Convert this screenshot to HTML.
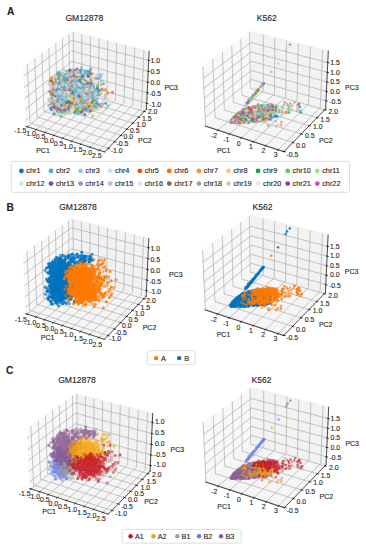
<!DOCTYPE html>
<html><head><meta charset="utf-8"><style>
html,body{margin:0;padding:0;background:#fff;width:366px;height:550px;overflow:hidden}
svg{display:block}
text{font-family:"Liberation Sans",sans-serif;fill:#1e1e1e;stroke:#1e1e1e;stroke-width:0.12px;text-anchor:middle}
</style></head><body>
<svg width="366" height="550" viewBox="0 0 366 550">
<rect width="366" height="550" fill="#fff"/>

<defs>

</defs>
<g id="figure_1">
<g id="pane3d_1">
<g id="patch_1">
<path d="M 25.95 126.26 
L 72.23 87.47 
L 71.58 31.53 
L 23.09 66.91 
" style="fill: #f2f2f2; opacity: 0.5; stroke: #f2f2f2; stroke-linejoin: miter"/>
</g>
</g>
<g id="pane3d_2">
<g id="patch_2">
<path d="M 72.23 87.47 
L 146.48 109.05 
L 149.13 51.19 
L 71.58 31.53 
" style="fill: #e6e6e6; opacity: 0.5; stroke: #e6e6e6; stroke-linejoin: miter"/>
</g>
</g>
<g id="pane3d_3">
<g id="patch_3">
<path d="M 25.95 126.26 
L 104.67 151.97 
L 146.48 109.05 
L 72.23 87.47 
" style="fill: #ececec; opacity: 0.5; stroke: #ececec; stroke-linejoin: miter"/>
</g>
</g>
<g id="grid3d_1">
<g id="Line3DCollection_1">
<path d="M 27.66 126.82 
L 73.84 87.94 
L 73.27 31.96 
" style="fill: none; stroke: #a8a8a8; stroke-width: 0.65"/>
<path d="M 36.25 129.62 
L 81.98 90.3 
L 81.75 34.11 
" style="fill: none; stroke: #a8a8a8; stroke-width: 0.65"/>
<path d="M 44.95 132.46 
L 90.21 92.7 
L 90.33 36.28 
" style="fill: none; stroke: #a8a8a8; stroke-width: 0.65"/>
<path d="M 53.75 135.34 
L 98.53 95.11 
L 99.01 38.48 
" style="fill: none; stroke: #a8a8a8; stroke-width: 0.65"/>
<path d="M 62.66 138.25 
L 106.93 97.56 
L 107.79 40.71 
" style="fill: none; stroke: #a8a8a8; stroke-width: 0.65"/>
<path d="M 71.67 141.19 
L 115.44 100.03 
L 116.67 42.96 
" style="fill: none; stroke: #a8a8a8; stroke-width: 0.65"/>
<path d="M 80.79 144.17 
L 124.03 102.53 
L 125.65 45.23 
" style="fill: none; stroke: #a8a8a8; stroke-width: 0.65"/>
<path d="M 90.03 147.19 
L 132.72 105.05 
L 134.74 47.54 
" style="fill: none; stroke: #a8a8a8; stroke-width: 0.65"/>
<path d="M 99.38 150.24 
L 141.52 107.61 
L 143.94 49.87 
" style="fill: none; stroke: #a8a8a8; stroke-width: 0.65"/>
</g>
</g>
<g id="grid3d_2">
<g id="Line3DCollection_2">
<path d="M 27.31 63.83 
L 29.97 122.89 
L 108.31 148.23 
" style="fill: none; stroke: #a8a8a8; stroke-width: 0.65"/>
<path d="M 34.7 58.45 
L 36.99 117 
L 114.68 141.69 
" style="fill: none; stroke: #a8a8a8; stroke-width: 0.65"/>
<path d="M 41.89 53.2 
L 43.85 111.26 
L 120.88 135.32 
" style="fill: none; stroke: #a8a8a8; stroke-width: 0.65"/>
<path d="M 48.9 48.08 
L 50.54 105.65 
L 126.93 129.12 
" style="fill: none; stroke: #a8a8a8; stroke-width: 0.65"/>
<path d="M 55.74 43.09 
L 57.06 100.18 
L 132.82 123.07 
" style="fill: none; stroke: #a8a8a8; stroke-width: 0.65"/>
<path d="M 62.4 38.23 
L 63.44 94.84 
L 138.57 117.18 
" style="fill: none; stroke: #a8a8a8; stroke-width: 0.65"/>
<path d="M 68.9 33.49 
L 69.66 89.62 
L 144.17 111.43 
" style="fill: none; stroke: #a8a8a8; stroke-width: 0.65"/>
</g>
</g>
<g id="grid3d_3">
<g id="Line3DCollection_3">
<path d="M 146.75 103.26 
L 72.16 81.86 
L 25.67 120.33 
" style="fill: none; stroke: #a8a8a8; stroke-width: 0.65"/>
<path d="M 147.23 92.79 
L 72.05 71.72 
L 25.15 109.6 
" style="fill: none; stroke: #a8a8a8; stroke-width: 0.65"/>
<path d="M 147.71 82.15 
L 71.93 61.43 
L 24.62 98.69 
" style="fill: none; stroke: #a8a8a8; stroke-width: 0.65"/>
<path d="M 148.21 71.33 
L 71.81 50.98 
L 24.09 87.6 
" style="fill: none; stroke: #a8a8a8; stroke-width: 0.65"/>
<path d="M 148.71 60.34 
L 71.68 40.36 
L 23.55 76.31 
" style="fill: none; stroke: #a8a8a8; stroke-width: 0.65"/>
</g>
</g>
<g id="axis3d_1">
<g id="line2d_1">
<path d="M 25.95 126.26 
L 104.67 151.97 
" style="fill: none; stroke: #000000; stroke-width: 0.7; stroke-linecap: square"/>
</g>
<g id="xtick_1">
<g id="line2d_2">
<path d="M 28.06 126.48 
L 26.85 127.49 
" style="fill: none; stroke: #000000; stroke-width: 0.7; stroke-linecap: square"/>
</g>
</g>
<g id="xtick_2">
<g id="line2d_3">
<path d="M 36.65 129.28 
L 35.45 130.31 
" style="fill: none; stroke: #000000; stroke-width: 0.7; stroke-linecap: square"/>
</g>
</g>
<g id="xtick_3">
<g id="line2d_4">
<path d="M 45.34 132.12 
L 44.16 133.16 
" style="fill: none; stroke: #000000; stroke-width: 0.7; stroke-linecap: square"/>
</g>
</g>
<g id="xtick_4">
<g id="line2d_5">
<path d="M 54.14 134.99 
L 52.97 136.04 
" style="fill: none; stroke: #000000; stroke-width: 0.7; stroke-linecap: square"/>
</g>
</g>
<g id="xtick_5">
<g id="line2d_6">
<path d="M 63.04 137.89 
L 61.88 138.96 
" style="fill: none; stroke: #000000; stroke-width: 0.7; stroke-linecap: square"/>
</g>
</g>
<g id="xtick_6">
<g id="line2d_7">
<path d="M 72.05 140.83 
L 70.9 141.91 
" style="fill: none; stroke: #000000; stroke-width: 0.7; stroke-linecap: square"/>
</g>
</g>
<g id="xtick_7">
<g id="line2d_8">
<path d="M 81.17 143.81 
L 80.04 144.9 
" style="fill: none; stroke: #000000; stroke-width: 0.7; stroke-linecap: square"/>
</g>
</g>
<g id="xtick_8">
<g id="line2d_9">
<path d="M 90.4 146.82 
L 89.28 147.92 
" style="fill: none; stroke: #000000; stroke-width: 0.7; stroke-linecap: square"/>
</g>
</g>
<g id="xtick_9">
<g id="line2d_10">
<path d="M 99.75 149.87 
L 98.64 150.99 
" style="fill: none; stroke: #000000; stroke-width: 0.7; stroke-linecap: square"/>
</g>
</g>
</g>
<g id="axis3d_2">
<g id="line2d_11">
<path d="M 146.48 109.05 
L 104.67 151.97 
" style="fill: none; stroke: #000000; stroke-width: 0.7; stroke-linecap: square"/>
</g>
<g id="xtick_10">
<g id="line2d_12">
<path d="M 107.65 148.02 
L 109.63 148.66 
" style="fill: none; stroke: #000000; stroke-width: 0.7; stroke-linecap: square"/>
</g>
</g>
<g id="xtick_11">
<g id="line2d_13">
<path d="M 114.02 141.48 
L 115.99 142.11 
" style="fill: none; stroke: #000000; stroke-width: 0.7; stroke-linecap: square"/>
</g>
</g>
<g id="xtick_12">
<g id="line2d_14">
<path d="M 120.23 135.12 
L 122.18 135.73 
" style="fill: none; stroke: #000000; stroke-width: 0.7; stroke-linecap: square"/>
</g>
</g>
<g id="xtick_13">
<g id="line2d_15">
<path d="M 126.29 128.92 
L 128.21 129.51 
" style="fill: none; stroke: #000000; stroke-width: 0.7; stroke-linecap: square"/>
</g>
</g>
<g id="xtick_14">
<g id="line2d_16">
<path d="M 132.18 122.88 
L 134.1 123.46 
" style="fill: none; stroke: #000000; stroke-width: 0.7; stroke-linecap: square"/>
</g>
</g>
<g id="xtick_15">
<g id="line2d_17">
<path d="M 137.94 116.99 
L 139.83 117.55 
" style="fill: none; stroke: #000000; stroke-width: 0.7; stroke-linecap: square"/>
</g>
</g>
<g id="xtick_16">
<g id="line2d_18">
<path d="M 143.54 111.24 
L 145.42 111.79 
" style="fill: none; stroke: #000000; stroke-width: 0.7; stroke-linecap: square"/>
</g>
</g>
</g>
<g id="axis3d_3">
<g id="line2d_19">
<path d="M 146.48 109.05 
L 149.13 51.19 
" style="fill: none; stroke: #000000; stroke-width: 0.7; stroke-linecap: square"/>
</g>
<g id="xtick_17">
<g id="line2d_20">
<path d="M 146.12 103.08 
L 148 103.62 
" style="fill: none; stroke: #000000; stroke-width: 0.7; stroke-linecap: square"/>
</g>
</g>
<g id="xtick_18">
<g id="line2d_21">
<path d="M 146.6 92.61 
L 148.49 93.14 
" style="fill: none; stroke: #000000; stroke-width: 0.7; stroke-linecap: square"/>
</g>
</g>
<g id="xtick_19">
<g id="line2d_22">
<path d="M 147.08 81.97 
L 148.99 82.5 
" style="fill: none; stroke: #000000; stroke-width: 0.7; stroke-linecap: square"/>
</g>
</g>
<g id="xtick_20">
<g id="line2d_23">
<path d="M 147.57 71.16 
L 149.5 71.68 
" style="fill: none; stroke: #000000; stroke-width: 0.7; stroke-linecap: square"/>
</g>
</g>
<g id="xtick_21">
<g id="line2d_24">
<path d="M 148.07 60.17 
L 150.01 60.67 
" style="fill: none; stroke: #000000; stroke-width: 0.7; stroke-linecap: square"/>
</g>
</g>
</g>
<g id="axes_1"/>
<g id="pane3d_4">
<g id="patch_4">
<path d="M 205.19 126.09 
L 251.44 87.33 
L 250.8 31.42 
L 202.34 66.78 
" style="fill: #f2f2f2; opacity: 0.5; stroke: #f2f2f2; stroke-linejoin: miter"/>
</g>
</g>
<g id="pane3d_5">
<g id="patch_5">
<path d="M 251.44 87.33 
L 325.65 108.9 
L 328.3 51.07 
L 250.8 31.42 
" style="fill: #e6e6e6; opacity: 0.5; stroke: #e6e6e6; stroke-linejoin: miter"/>
</g>
</g>
<g id="pane3d_6">
<g id="patch_6">
<path d="M 205.19 126.09 
L 283.86 151.78 
L 325.65 108.9 
L 251.44 87.33 
" style="fill: #ececec; opacity: 0.5; stroke: #ececec; stroke-linejoin: miter"/>
</g>
</g>
<g id="grid3d_4">
<g id="Line3DCollection_4">
<path d="M 217.84 130.22 
L 263.41 90.81 
L 263.27 34.58 
" style="fill: none; stroke: #a8a8a8; stroke-width: 0.65"/>
<path d="M 229.52 134.04 
L 274.46 94.02 
L 274.8 37.51 
" style="fill: none; stroke: #a8a8a8; stroke-width: 0.65"/>
<path d="M 241.39 137.91 
L 285.67 97.28 
L 286.5 40.47 
" style="fill: none; stroke: #a8a8a8; stroke-width: 0.65"/>
<path d="M 253.46 141.85 
L 297.05 100.58 
L 298.39 43.48 
" style="fill: none; stroke: #a8a8a8; stroke-width: 0.65"/>
<path d="M 265.72 145.86 
L 308.59 103.94 
L 310.46 46.54 
" style="fill: none; stroke: #a8a8a8; stroke-width: 0.65"/>
<path d="M 278.18 149.93 
L 320.32 107.35 
L 322.72 49.65 
" style="fill: none; stroke: #a8a8a8; stroke-width: 0.65"/>
</g>
</g>
<g id="grid3d_5">
<g id="Line3DCollection_5">
<path d="M 202.75 66.49 
L 205.58 125.76 
L 284.21 151.42 
" style="fill: none; stroke: #a8a8a8; stroke-width: 0.65"/>
<path d="M 212.78 59.17 
L 215.13 117.76 
L 292.87 142.54 
" style="fill: none; stroke: #a8a8a8; stroke-width: 0.65"/>
<path d="M 222.46 52.1 
L 224.36 110.03 
L 301.22 133.97 
" style="fill: none; stroke: #a8a8a8; stroke-width: 0.65"/>
<path d="M 231.81 45.27 
L 233.28 102.55 
L 309.28 125.69 
" style="fill: none; stroke: #a8a8a8; stroke-width: 0.65"/>
<path d="M 240.85 38.68 
L 241.92 95.3 
L 317.08 117.69 
" style="fill: none; stroke: #a8a8a8; stroke-width: 0.65"/>
<path d="M 249.6 32.3 
L 250.29 88.29 
L 324.61 109.96 
" style="fill: none; stroke: #a8a8a8; stroke-width: 0.65"/>
</g>
</g>
<g id="grid3d_6">
<g id="Line3DCollection_6">
<path d="M 326.02 100.78 
L 251.35 79.47 
L 204.79 117.78 
" style="fill: none; stroke: #a8a8a8; stroke-width: 0.65"/>
<path d="M 326.45 91.43 
L 251.25 70.42 
L 204.33 108.2 
" style="fill: none; stroke: #a8a8a8; stroke-width: 0.65"/>
<path d="M 326.88 81.95 
L 251.14 61.25 
L 203.86 98.48 
" style="fill: none; stroke: #a8a8a8; stroke-width: 0.65"/>
<path d="M 327.32 72.33 
L 251.03 51.95 
L 203.39 88.62 
" style="fill: none; stroke: #a8a8a8; stroke-width: 0.65"/>
<path d="M 327.77 62.57 
L 250.92 42.52 
L 202.91 78.6 
" style="fill: none; stroke: #a8a8a8; stroke-width: 0.65"/>
</g>
</g>
<g id="axis3d_4">
<g id="line2d_25">
<path d="M 205.19 126.09 
L 283.86 151.78 
" style="fill: none; stroke: #000000; stroke-width: 0.7; stroke-linecap: square"/>
</g>
<g id="xtick_22">
<g id="line2d_26">
<path d="M 218.23 129.88 
L 217.04 130.91 
" style="fill: none; stroke: #000000; stroke-width: 0.7; stroke-linecap: square"/>
</g>
</g>
<g id="xtick_23">
<g id="line2d_27">
<path d="M 229.91 133.69 
L 228.73 134.73 
" style="fill: none; stroke: #000000; stroke-width: 0.7; stroke-linecap: square"/>
</g>
</g>
<g id="xtick_24">
<g id="line2d_28">
<path d="M 241.78 137.56 
L 240.62 138.62 
" style="fill: none; stroke: #000000; stroke-width: 0.7; stroke-linecap: square"/>
</g>
</g>
<g id="xtick_25">
<g id="line2d_29">
<path d="M 253.84 141.49 
L 252.69 142.58 
" style="fill: none; stroke: #000000; stroke-width: 0.7; stroke-linecap: square"/>
</g>
</g>
<g id="xtick_26">
<g id="line2d_30">
<path d="M 266.09 145.49 
L 264.97 146.59 
" style="fill: none; stroke: #000000; stroke-width: 0.7; stroke-linecap: square"/>
</g>
</g>
<g id="xtick_27">
<g id="line2d_31">
<path d="M 278.55 149.56 
L 277.44 150.67 
" style="fill: none; stroke: #000000; stroke-width: 0.7; stroke-linecap: square"/>
</g>
</g>
</g>
<g id="axis3d_5">
<g id="line2d_32">
<path d="M 325.65 108.9 
L 283.86 151.78 
" style="fill: none; stroke: #000000; stroke-width: 0.7; stroke-linecap: square"/>
</g>
<g id="xtick_28">
<g id="line2d_33">
<path d="M 283.55 151.2 
L 285.54 151.85 
" style="fill: none; stroke: #000000; stroke-width: 0.7; stroke-linecap: square"/>
</g>
</g>
<g id="xtick_29">
<g id="line2d_34">
<path d="M 292.21 142.33 
L 294.18 142.96 
" style="fill: none; stroke: #000000; stroke-width: 0.7; stroke-linecap: square"/>
</g>
</g>
<g id="xtick_30">
<g id="line2d_35">
<path d="M 300.57 133.77 
L 302.51 134.37 
" style="fill: none; stroke: #000000; stroke-width: 0.7; stroke-linecap: square"/>
</g>
</g>
<g id="xtick_31">
<g id="line2d_36">
<path d="M 308.65 125.49 
L 310.56 126.08 
" style="fill: none; stroke: #000000; stroke-width: 0.7; stroke-linecap: square"/>
</g>
</g>
<g id="xtick_32">
<g id="line2d_37">
<path d="M 316.45 117.5 
L 318.34 118.07 
" style="fill: none; stroke: #000000; stroke-width: 0.7; stroke-linecap: square"/>
</g>
</g>
<g id="xtick_33">
<g id="line2d_38">
<path d="M 323.99 109.78 
L 325.86 110.32 
" style="fill: none; stroke: #000000; stroke-width: 0.7; stroke-linecap: square"/>
</g>
</g>
</g>
<g id="axis3d_6">
<g id="line2d_39">
<path d="M 325.65 108.9 
L 328.3 51.07 
" style="fill: none; stroke: #000000; stroke-width: 0.7; stroke-linecap: square"/>
</g>
<g id="xtick_34">
<g id="line2d_40">
<path d="M 325.39 100.6 
L 327.27 101.14 
" style="fill: none; stroke: #000000; stroke-width: 0.7; stroke-linecap: square"/>
</g>
</g>
<g id="xtick_35">
<g id="line2d_41">
<path d="M 325.82 91.26 
L 327.71 91.79 
" style="fill: none; stroke: #000000; stroke-width: 0.7; stroke-linecap: square"/>
</g>
</g>
<g id="xtick_36">
<g id="line2d_42">
<path d="M 326.25 81.78 
L 328.16 82.3 
" style="fill: none; stroke: #000000; stroke-width: 0.7; stroke-linecap: square"/>
</g>
</g>
<g id="xtick_37">
<g id="line2d_43">
<path d="M 326.68 72.16 
L 328.61 72.68 
" style="fill: none; stroke: #000000; stroke-width: 0.7; stroke-linecap: square"/>
</g>
</g>
<g id="xtick_38">
<g id="line2d_44">
<path d="M 327.12 62.4 
L 329.06 62.91 
" style="fill: none; stroke: #000000; stroke-width: 0.7; stroke-linecap: square"/>
</g>
</g>
</g>
<g id="axes_2"/>
<g id="pane3d_7">
<g id="patch_7">
<path d="M 25.65 313.56 
L 71.93 274.77 
L 71.28 218.83 
L 22.79 254.21 
" style="fill: #f2f2f2; opacity: 0.5; stroke: #f2f2f2; stroke-linejoin: miter"/>
</g>
</g>
<g id="pane3d_8">
<g id="patch_8">
<path d="M 71.93 274.77 
L 146.18 296.35 
L 148.83 238.49 
L 71.28 218.83 
" style="fill: #e6e6e6; opacity: 0.5; stroke: #e6e6e6; stroke-linejoin: miter"/>
</g>
</g>
<g id="pane3d_9">
<g id="patch_9">
<path d="M 25.65 313.56 
L 104.37 339.27 
L 146.18 296.35 
L 71.93 274.77 
" style="fill: #ececec; opacity: 0.5; stroke: #ececec; stroke-linejoin: miter"/>
</g>
</g>
<g id="grid3d_7">
<g id="Line3DCollection_7">
<path d="M 27.36 314.12 
L 73.54 275.24 
L 72.97 219.26 
" style="fill: none; stroke: #a8a8a8; stroke-width: 0.65"/>
<path d="M 35.95 316.92 
L 81.68 277.6 
L 81.45 221.41 
" style="fill: none; stroke: #a8a8a8; stroke-width: 0.65"/>
<path d="M 44.65 319.76 
L 89.91 280 
L 90.03 223.58 
" style="fill: none; stroke: #a8a8a8; stroke-width: 0.65"/>
<path d="M 53.45 322.64 
L 98.23 282.41 
L 98.71 225.78 
" style="fill: none; stroke: #a8a8a8; stroke-width: 0.65"/>
<path d="M 62.36 325.55 
L 106.63 284.86 
L 107.49 228.01 
" style="fill: none; stroke: #a8a8a8; stroke-width: 0.65"/>
<path d="M 71.37 328.49 
L 115.14 287.33 
L 116.37 230.26 
" style="fill: none; stroke: #a8a8a8; stroke-width: 0.65"/>
<path d="M 80.49 331.47 
L 123.73 289.83 
L 125.35 232.53 
" style="fill: none; stroke: #a8a8a8; stroke-width: 0.65"/>
<path d="M 89.73 334.49 
L 132.42 292.35 
L 134.44 234.84 
" style="fill: none; stroke: #a8a8a8; stroke-width: 0.65"/>
<path d="M 99.08 337.54 
L 141.22 294.91 
L 143.64 237.17 
" style="fill: none; stroke: #a8a8a8; stroke-width: 0.65"/>
</g>
</g>
<g id="grid3d_8">
<g id="Line3DCollection_8">
<path d="M 27.01 251.13 
L 29.67 310.19 
L 108.01 335.53 
" style="fill: none; stroke: #a8a8a8; stroke-width: 0.65"/>
<path d="M 34.4 245.75 
L 36.69 304.3 
L 114.38 328.99 
" style="fill: none; stroke: #a8a8a8; stroke-width: 0.65"/>
<path d="M 41.59 240.5 
L 43.55 298.56 
L 120.58 322.62 
" style="fill: none; stroke: #a8a8a8; stroke-width: 0.65"/>
<path d="M 48.6 235.38 
L 50.24 292.95 
L 126.63 316.42 
" style="fill: none; stroke: #a8a8a8; stroke-width: 0.65"/>
<path d="M 55.44 230.39 
L 56.76 287.48 
L 132.52 310.37 
" style="fill: none; stroke: #a8a8a8; stroke-width: 0.65"/>
<path d="M 62.1 225.53 
L 63.14 282.14 
L 138.27 304.48 
" style="fill: none; stroke: #a8a8a8; stroke-width: 0.65"/>
<path d="M 68.6 220.79 
L 69.36 276.92 
L 143.87 298.73 
" style="fill: none; stroke: #a8a8a8; stroke-width: 0.65"/>
</g>
</g>
<g id="grid3d_9">
<g id="Line3DCollection_9">
<path d="M 146.45 290.56 
L 71.86 269.16 
L 25.37 307.63 
" style="fill: none; stroke: #a8a8a8; stroke-width: 0.65"/>
<path d="M 146.93 280.09 
L 71.75 259.02 
L 24.85 296.9 
" style="fill: none; stroke: #a8a8a8; stroke-width: 0.65"/>
<path d="M 147.41 269.45 
L 71.63 248.73 
L 24.32 285.99 
" style="fill: none; stroke: #a8a8a8; stroke-width: 0.65"/>
<path d="M 147.91 258.63 
L 71.51 238.28 
L 23.79 274.9 
" style="fill: none; stroke: #a8a8a8; stroke-width: 0.65"/>
<path d="M 148.41 247.64 
L 71.38 227.66 
L 23.25 263.61 
" style="fill: none; stroke: #a8a8a8; stroke-width: 0.65"/>
</g>
</g>
<g id="axis3d_7">
<g id="line2d_45">
<path d="M 25.65 313.56 
L 104.37 339.27 
" style="fill: none; stroke: #000000; stroke-width: 0.7; stroke-linecap: square"/>
</g>
<g id="xtick_39">
<g id="line2d_46">
<path d="M 27.76 313.78 
L 26.55 314.79 
" style="fill: none; stroke: #000000; stroke-width: 0.7; stroke-linecap: square"/>
</g>
</g>
<g id="xtick_40">
<g id="line2d_47">
<path d="M 36.35 316.58 
L 35.15 317.61 
" style="fill: none; stroke: #000000; stroke-width: 0.7; stroke-linecap: square"/>
</g>
</g>
<g id="xtick_41">
<g id="line2d_48">
<path d="M 45.04 319.42 
L 43.86 320.46 
" style="fill: none; stroke: #000000; stroke-width: 0.7; stroke-linecap: square"/>
</g>
</g>
<g id="xtick_42">
<g id="line2d_49">
<path d="M 53.84 322.29 
L 52.67 323.34 
" style="fill: none; stroke: #000000; stroke-width: 0.7; stroke-linecap: square"/>
</g>
</g>
<g id="xtick_43">
<g id="line2d_50">
<path d="M 62.74 325.19 
L 61.58 326.26 
" style="fill: none; stroke: #000000; stroke-width: 0.7; stroke-linecap: square"/>
</g>
</g>
<g id="xtick_44">
<g id="line2d_51">
<path d="M 71.75 328.13 
L 70.6 329.21 
" style="fill: none; stroke: #000000; stroke-width: 0.7; stroke-linecap: square"/>
</g>
</g>
<g id="xtick_45">
<g id="line2d_52">
<path d="M 80.87 331.11 
L 79.74 332.2 
" style="fill: none; stroke: #000000; stroke-width: 0.7; stroke-linecap: square"/>
</g>
</g>
<g id="xtick_46">
<g id="line2d_53">
<path d="M 90.1 334.12 
L 88.98 335.22 
" style="fill: none; stroke: #000000; stroke-width: 0.7; stroke-linecap: square"/>
</g>
</g>
<g id="xtick_47">
<g id="line2d_54">
<path d="M 99.45 337.17 
L 98.34 338.29 
" style="fill: none; stroke: #000000; stroke-width: 0.7; stroke-linecap: square"/>
</g>
</g>
</g>
<g id="axis3d_8">
<g id="line2d_55">
<path d="M 146.18 296.35 
L 104.37 339.27 
" style="fill: none; stroke: #000000; stroke-width: 0.7; stroke-linecap: square"/>
</g>
<g id="xtick_48">
<g id="line2d_56">
<path d="M 107.35 335.32 
L 109.33 335.96 
" style="fill: none; stroke: #000000; stroke-width: 0.7; stroke-linecap: square"/>
</g>
</g>
<g id="xtick_49">
<g id="line2d_57">
<path d="M 113.72 328.78 
L 115.69 329.41 
" style="fill: none; stroke: #000000; stroke-width: 0.7; stroke-linecap: square"/>
</g>
</g>
<g id="xtick_50">
<g id="line2d_58">
<path d="M 119.93 322.42 
L 121.88 323.03 
" style="fill: none; stroke: #000000; stroke-width: 0.7; stroke-linecap: square"/>
</g>
</g>
<g id="xtick_51">
<g id="line2d_59">
<path d="M 125.99 316.22 
L 127.91 316.81 
" style="fill: none; stroke: #000000; stroke-width: 0.7; stroke-linecap: square"/>
</g>
</g>
<g id="xtick_52">
<g id="line2d_60">
<path d="M 131.88 310.18 
L 133.8 310.76 
" style="fill: none; stroke: #000000; stroke-width: 0.7; stroke-linecap: square"/>
</g>
</g>
<g id="xtick_53">
<g id="line2d_61">
<path d="M 137.64 304.29 
L 139.53 304.85 
" style="fill: none; stroke: #000000; stroke-width: 0.7; stroke-linecap: square"/>
</g>
</g>
<g id="xtick_54">
<g id="line2d_62">
<path d="M 143.24 298.54 
L 145.12 299.09 
" style="fill: none; stroke: #000000; stroke-width: 0.7; stroke-linecap: square"/>
</g>
</g>
</g>
<g id="axis3d_9">
<g id="line2d_63">
<path d="M 146.18 296.35 
L 148.83 238.49 
" style="fill: none; stroke: #000000; stroke-width: 0.7; stroke-linecap: square"/>
</g>
<g id="xtick_55">
<g id="line2d_64">
<path d="M 145.82 290.38 
L 147.7 290.92 
" style="fill: none; stroke: #000000; stroke-width: 0.7; stroke-linecap: square"/>
</g>
</g>
<g id="xtick_56">
<g id="line2d_65">
<path d="M 146.3 279.91 
L 148.19 280.44 
" style="fill: none; stroke: #000000; stroke-width: 0.7; stroke-linecap: square"/>
</g>
</g>
<g id="xtick_57">
<g id="line2d_66">
<path d="M 146.78 269.27 
L 148.69 269.8 
" style="fill: none; stroke: #000000; stroke-width: 0.7; stroke-linecap: square"/>
</g>
</g>
<g id="xtick_58">
<g id="line2d_67">
<path d="M 147.27 258.46 
L 149.2 258.98 
" style="fill: none; stroke: #000000; stroke-width: 0.7; stroke-linecap: square"/>
</g>
</g>
<g id="xtick_59">
<g id="line2d_68">
<path d="M 147.77 247.47 
L 149.71 247.97 
" style="fill: none; stroke: #000000; stroke-width: 0.7; stroke-linecap: square"/>
</g>
</g>
</g>
<g id="axes_3"/>
<g id="pane3d_10">
<g id="patch_10">
<path d="M 204.99 309.89 
L 251.24 271.13 
L 250.6 215.22 
L 202.14 250.58 
" style="fill: #f2f2f2; opacity: 0.5; stroke: #f2f2f2; stroke-linejoin: miter"/>
</g>
</g>
<g id="pane3d_11">
<g id="patch_11">
<path d="M 251.24 271.13 
L 325.45 292.7 
L 328.1 234.87 
L 250.6 215.22 
" style="fill: #e6e6e6; opacity: 0.5; stroke: #e6e6e6; stroke-linejoin: miter"/>
</g>
</g>
<g id="pane3d_12">
<g id="patch_12">
<path d="M 204.99 309.89 
L 283.66 335.58 
L 325.45 292.7 
L 251.24 271.13 
" style="fill: #ececec; opacity: 0.5; stroke: #ececec; stroke-linejoin: miter"/>
</g>
</g>
<g id="grid3d_10">
<g id="Line3DCollection_10">
<path d="M 217.64 314.02 
L 263.21 274.61 
L 263.07 218.38 
" style="fill: none; stroke: #a8a8a8; stroke-width: 0.65"/>
<path d="M 229.32 317.84 
L 274.26 277.82 
L 274.6 221.31 
" style="fill: none; stroke: #a8a8a8; stroke-width: 0.65"/>
<path d="M 241.19 321.71 
L 285.47 281.08 
L 286.3 224.27 
" style="fill: none; stroke: #a8a8a8; stroke-width: 0.65"/>
<path d="M 253.26 325.65 
L 296.85 284.38 
L 298.19 227.28 
" style="fill: none; stroke: #a8a8a8; stroke-width: 0.65"/>
<path d="M 265.52 329.66 
L 308.39 287.74 
L 310.26 230.34 
" style="fill: none; stroke: #a8a8a8; stroke-width: 0.65"/>
<path d="M 277.98 333.73 
L 320.12 291.15 
L 322.52 233.45 
" style="fill: none; stroke: #a8a8a8; stroke-width: 0.65"/>
</g>
</g>
<g id="grid3d_11">
<g id="Line3DCollection_11">
<path d="M 202.55 250.29 
L 205.38 309.56 
L 284.01 335.22 
" style="fill: none; stroke: #a8a8a8; stroke-width: 0.65"/>
<path d="M 212.58 242.97 
L 214.93 301.56 
L 292.67 326.34 
" style="fill: none; stroke: #a8a8a8; stroke-width: 0.65"/>
<path d="M 222.26 235.9 
L 224.16 293.83 
L 301.02 317.77 
" style="fill: none; stroke: #a8a8a8; stroke-width: 0.65"/>
<path d="M 231.61 229.07 
L 233.08 286.35 
L 309.08 309.49 
" style="fill: none; stroke: #a8a8a8; stroke-width: 0.65"/>
<path d="M 240.65 222.48 
L 241.72 279.1 
L 316.88 301.49 
" style="fill: none; stroke: #a8a8a8; stroke-width: 0.65"/>
<path d="M 249.4 216.1 
L 250.09 272.09 
L 324.41 293.76 
" style="fill: none; stroke: #a8a8a8; stroke-width: 0.65"/>
</g>
</g>
<g id="grid3d_12">
<g id="Line3DCollection_12">
<path d="M 325.82 284.58 
L 251.15 263.27 
L 204.59 301.58 
" style="fill: none; stroke: #a8a8a8; stroke-width: 0.65"/>
<path d="M 326.25 275.23 
L 251.05 254.22 
L 204.13 292 
" style="fill: none; stroke: #a8a8a8; stroke-width: 0.65"/>
<path d="M 326.68 265.75 
L 250.94 245.05 
L 203.66 282.28 
" style="fill: none; stroke: #a8a8a8; stroke-width: 0.65"/>
<path d="M 327.12 256.13 
L 250.83 235.75 
L 203.19 272.42 
" style="fill: none; stroke: #a8a8a8; stroke-width: 0.65"/>
<path d="M 327.57 246.37 
L 250.72 226.32 
L 202.71 262.4 
" style="fill: none; stroke: #a8a8a8; stroke-width: 0.65"/>
</g>
</g>
<g id="axis3d_10">
<g id="line2d_69">
<path d="M 204.99 309.89 
L 283.66 335.58 
" style="fill: none; stroke: #000000; stroke-width: 0.7; stroke-linecap: square"/>
</g>
<g id="xtick_60">
<g id="line2d_70">
<path d="M 218.03 313.68 
L 216.84 314.71 
" style="fill: none; stroke: #000000; stroke-width: 0.7; stroke-linecap: square"/>
</g>
</g>
<g id="xtick_61">
<g id="line2d_71">
<path d="M 229.71 317.49 
L 228.53 318.53 
" style="fill: none; stroke: #000000; stroke-width: 0.7; stroke-linecap: square"/>
</g>
</g>
<g id="xtick_62">
<g id="line2d_72">
<path d="M 241.58 321.36 
L 240.42 322.42 
" style="fill: none; stroke: #000000; stroke-width: 0.7; stroke-linecap: square"/>
</g>
</g>
<g id="xtick_63">
<g id="line2d_73">
<path d="M 253.64 325.29 
L 252.49 326.38 
" style="fill: none; stroke: #000000; stroke-width: 0.7; stroke-linecap: square"/>
</g>
</g>
<g id="xtick_64">
<g id="line2d_74">
<path d="M 265.89 329.29 
L 264.77 330.39 
" style="fill: none; stroke: #000000; stroke-width: 0.7; stroke-linecap: square"/>
</g>
</g>
<g id="xtick_65">
<g id="line2d_75">
<path d="M 278.35 333.36 
L 277.24 334.47 
" style="fill: none; stroke: #000000; stroke-width: 0.7; stroke-linecap: square"/>
</g>
</g>
</g>
<g id="axis3d_11">
<g id="line2d_76">
<path d="M 325.45 292.7 
L 283.66 335.58 
" style="fill: none; stroke: #000000; stroke-width: 0.7; stroke-linecap: square"/>
</g>
<g id="xtick_66">
<g id="line2d_77">
<path d="M 283.35 335 
L 285.34 335.65 
" style="fill: none; stroke: #000000; stroke-width: 0.7; stroke-linecap: square"/>
</g>
</g>
<g id="xtick_67">
<g id="line2d_78">
<path d="M 292.01 326.13 
L 293.98 326.76 
" style="fill: none; stroke: #000000; stroke-width: 0.7; stroke-linecap: square"/>
</g>
</g>
<g id="xtick_68">
<g id="line2d_79">
<path d="M 300.37 317.57 
L 302.31 318.17 
" style="fill: none; stroke: #000000; stroke-width: 0.7; stroke-linecap: square"/>
</g>
</g>
<g id="xtick_69">
<g id="line2d_80">
<path d="M 308.45 309.29 
L 310.36 309.88 
" style="fill: none; stroke: #000000; stroke-width: 0.7; stroke-linecap: square"/>
</g>
</g>
<g id="xtick_70">
<g id="line2d_81">
<path d="M 316.25 301.3 
L 318.14 301.87 
" style="fill: none; stroke: #000000; stroke-width: 0.7; stroke-linecap: square"/>
</g>
</g>
<g id="xtick_71">
<g id="line2d_82">
<path d="M 323.79 293.58 
L 325.66 294.12 
" style="fill: none; stroke: #000000; stroke-width: 0.7; stroke-linecap: square"/>
</g>
</g>
</g>
<g id="axis3d_12">
<g id="line2d_83">
<path d="M 325.45 292.7 
L 328.1 234.87 
" style="fill: none; stroke: #000000; stroke-width: 0.7; stroke-linecap: square"/>
</g>
<g id="xtick_72">
<g id="line2d_84">
<path d="M 325.19 284.4 
L 327.07 284.94 
" style="fill: none; stroke: #000000; stroke-width: 0.7; stroke-linecap: square"/>
</g>
</g>
<g id="xtick_73">
<g id="line2d_85">
<path d="M 325.62 275.06 
L 327.51 275.59 
" style="fill: none; stroke: #000000; stroke-width: 0.7; stroke-linecap: square"/>
</g>
</g>
<g id="xtick_74">
<g id="line2d_86">
<path d="M 326.05 265.58 
L 327.96 266.1 
" style="fill: none; stroke: #000000; stroke-width: 0.7; stroke-linecap: square"/>
</g>
</g>
<g id="xtick_75">
<g id="line2d_87">
<path d="M 326.48 255.96 
L 328.41 256.48 
" style="fill: none; stroke: #000000; stroke-width: 0.7; stroke-linecap: square"/>
</g>
</g>
<g id="xtick_76">
<g id="line2d_88">
<path d="M 326.92 246.2 
L 328.86 246.71 
" style="fill: none; stroke: #000000; stroke-width: 0.7; stroke-linecap: square"/>
</g>
</g>
</g>
<g id="axes_4"/>
<g id="pane3d_13">
<g id="patch_13">
<path d="M 29.55 488.46 
L 75.83 449.67 
L 75.18 393.73 
L 26.69 429.11 
" style="fill: #f2f2f2; opacity: 0.5; stroke: #f2f2f2; stroke-linejoin: miter"/>
</g>
</g>
<g id="pane3d_14">
<g id="patch_14">
<path d="M 75.83 449.67 
L 150.08 471.25 
L 152.73 413.39 
L 75.18 393.73 
" style="fill: #e6e6e6; opacity: 0.5; stroke: #e6e6e6; stroke-linejoin: miter"/>
</g>
</g>
<g id="pane3d_15">
<g id="patch_15">
<path d="M 29.55 488.46 
L 108.27 514.17 
L 150.08 471.25 
L 75.83 449.67 
" style="fill: #ececec; opacity: 0.5; stroke: #ececec; stroke-linejoin: miter"/>
</g>
</g>
<g id="grid3d_13">
<g id="Line3DCollection_13">
<path d="M 31.26 489.02 
L 77.44 450.14 
L 76.87 394.16 
" style="fill: none; stroke: #a8a8a8; stroke-width: 0.65"/>
<path d="M 39.85 491.82 
L 85.58 452.5 
L 85.35 396.31 
" style="fill: none; stroke: #a8a8a8; stroke-width: 0.65"/>
<path d="M 48.55 494.66 
L 93.81 454.9 
L 93.93 398.48 
" style="fill: none; stroke: #a8a8a8; stroke-width: 0.65"/>
<path d="M 57.35 497.54 
L 102.13 457.31 
L 102.61 400.68 
" style="fill: none; stroke: #a8a8a8; stroke-width: 0.65"/>
<path d="M 66.26 500.45 
L 110.53 459.76 
L 111.39 402.91 
" style="fill: none; stroke: #a8a8a8; stroke-width: 0.65"/>
<path d="M 75.27 503.39 
L 119.04 462.23 
L 120.27 405.16 
" style="fill: none; stroke: #a8a8a8; stroke-width: 0.65"/>
<path d="M 84.39 506.37 
L 127.63 464.73 
L 129.25 407.43 
" style="fill: none; stroke: #a8a8a8; stroke-width: 0.65"/>
<path d="M 93.63 509.39 
L 136.32 467.25 
L 138.34 409.74 
" style="fill: none; stroke: #a8a8a8; stroke-width: 0.65"/>
<path d="M 102.98 512.44 
L 145.12 469.81 
L 147.54 412.07 
" style="fill: none; stroke: #a8a8a8; stroke-width: 0.65"/>
</g>
</g>
<g id="grid3d_14">
<g id="Line3DCollection_14">
<path d="M 30.91 426.03 
L 33.57 485.09 
L 111.91 510.43 
" style="fill: none; stroke: #a8a8a8; stroke-width: 0.65"/>
<path d="M 38.3 420.65 
L 40.59 479.2 
L 118.28 503.89 
" style="fill: none; stroke: #a8a8a8; stroke-width: 0.65"/>
<path d="M 45.49 415.4 
L 47.45 473.46 
L 124.48 497.52 
" style="fill: none; stroke: #a8a8a8; stroke-width: 0.65"/>
<path d="M 52.5 410.28 
L 54.14 467.85 
L 130.53 491.32 
" style="fill: none; stroke: #a8a8a8; stroke-width: 0.65"/>
<path d="M 59.34 405.29 
L 60.66 462.38 
L 136.42 485.27 
" style="fill: none; stroke: #a8a8a8; stroke-width: 0.65"/>
<path d="M 66 400.43 
L 67.04 457.04 
L 142.17 479.38 
" style="fill: none; stroke: #a8a8a8; stroke-width: 0.65"/>
<path d="M 72.5 395.69 
L 73.26 451.82 
L 147.77 473.63 
" style="fill: none; stroke: #a8a8a8; stroke-width: 0.65"/>
</g>
</g>
<g id="grid3d_15">
<g id="Line3DCollection_15">
<path d="M 150.35 465.46 
L 75.76 444.06 
L 29.27 482.53 
" style="fill: none; stroke: #a8a8a8; stroke-width: 0.65"/>
<path d="M 150.83 454.99 
L 75.65 433.92 
L 28.75 471.8 
" style="fill: none; stroke: #a8a8a8; stroke-width: 0.65"/>
<path d="M 151.31 444.35 
L 75.53 423.63 
L 28.22 460.89 
" style="fill: none; stroke: #a8a8a8; stroke-width: 0.65"/>
<path d="M 151.81 433.53 
L 75.41 413.18 
L 27.69 449.8 
" style="fill: none; stroke: #a8a8a8; stroke-width: 0.65"/>
<path d="M 152.31 422.54 
L 75.28 402.56 
L 27.15 438.51 
" style="fill: none; stroke: #a8a8a8; stroke-width: 0.65"/>
</g>
</g>
<g id="axis3d_13">
<g id="line2d_89">
<path d="M 29.55 488.46 
L 108.27 514.17 
" style="fill: none; stroke: #000000; stroke-width: 0.7; stroke-linecap: square"/>
</g>
<g id="xtick_77">
<g id="line2d_90">
<path d="M 31.66 488.68 
L 30.45 489.69 
" style="fill: none; stroke: #000000; stroke-width: 0.7; stroke-linecap: square"/>
</g>
</g>
<g id="xtick_78">
<g id="line2d_91">
<path d="M 40.25 491.48 
L 39.05 492.51 
" style="fill: none; stroke: #000000; stroke-width: 0.7; stroke-linecap: square"/>
</g>
</g>
<g id="xtick_79">
<g id="line2d_92">
<path d="M 48.94 494.32 
L 47.76 495.36 
" style="fill: none; stroke: #000000; stroke-width: 0.7; stroke-linecap: square"/>
</g>
</g>
<g id="xtick_80">
<g id="line2d_93">
<path d="M 57.74 497.19 
L 56.57 498.24 
" style="fill: none; stroke: #000000; stroke-width: 0.7; stroke-linecap: square"/>
</g>
</g>
<g id="xtick_81">
<g id="line2d_94">
<path d="M 66.64 500.09 
L 65.48 501.16 
" style="fill: none; stroke: #000000; stroke-width: 0.7; stroke-linecap: square"/>
</g>
</g>
<g id="xtick_82">
<g id="line2d_95">
<path d="M 75.65 503.03 
L 74.5 504.11 
" style="fill: none; stroke: #000000; stroke-width: 0.7; stroke-linecap: square"/>
</g>
</g>
<g id="xtick_83">
<g id="line2d_96">
<path d="M 84.77 506.01 
L 83.64 507.1 
" style="fill: none; stroke: #000000; stroke-width: 0.7; stroke-linecap: square"/>
</g>
</g>
<g id="xtick_84">
<g id="line2d_97">
<path d="M 94 509.02 
L 92.88 510.12 
" style="fill: none; stroke: #000000; stroke-width: 0.7; stroke-linecap: square"/>
</g>
</g>
<g id="xtick_85">
<g id="line2d_98">
<path d="M 103.35 512.07 
L 102.24 513.19 
" style="fill: none; stroke: #000000; stroke-width: 0.7; stroke-linecap: square"/>
</g>
</g>
</g>
<g id="axis3d_14">
<g id="line2d_99">
<path d="M 150.08 471.25 
L 108.27 514.17 
" style="fill: none; stroke: #000000; stroke-width: 0.7; stroke-linecap: square"/>
</g>
<g id="xtick_86">
<g id="line2d_100">
<path d="M 111.25 510.22 
L 113.23 510.86 
" style="fill: none; stroke: #000000; stroke-width: 0.7; stroke-linecap: square"/>
</g>
</g>
<g id="xtick_87">
<g id="line2d_101">
<path d="M 117.62 503.68 
L 119.59 504.31 
" style="fill: none; stroke: #000000; stroke-width: 0.7; stroke-linecap: square"/>
</g>
</g>
<g id="xtick_88">
<g id="line2d_102">
<path d="M 123.83 497.32 
L 125.78 497.93 
" style="fill: none; stroke: #000000; stroke-width: 0.7; stroke-linecap: square"/>
</g>
</g>
<g id="xtick_89">
<g id="line2d_103">
<path d="M 129.89 491.12 
L 131.81 491.71 
" style="fill: none; stroke: #000000; stroke-width: 0.7; stroke-linecap: square"/>
</g>
</g>
<g id="xtick_90">
<g id="line2d_104">
<path d="M 135.78 485.08 
L 137.7 485.66 
" style="fill: none; stroke: #000000; stroke-width: 0.7; stroke-linecap: square"/>
</g>
</g>
<g id="xtick_91">
<g id="line2d_105">
<path d="M 141.54 479.19 
L 143.43 479.75 
" style="fill: none; stroke: #000000; stroke-width: 0.7; stroke-linecap: square"/>
</g>
</g>
<g id="xtick_92">
<g id="line2d_106">
<path d="M 147.14 473.44 
L 149.02 473.99 
" style="fill: none; stroke: #000000; stroke-width: 0.7; stroke-linecap: square"/>
</g>
</g>
</g>
<g id="axis3d_15">
<g id="line2d_107">
<path d="M 150.08 471.25 
L 152.73 413.39 
" style="fill: none; stroke: #000000; stroke-width: 0.7; stroke-linecap: square"/>
</g>
<g id="xtick_93">
<g id="line2d_108">
<path d="M 149.72 465.28 
L 151.6 465.82 
" style="fill: none; stroke: #000000; stroke-width: 0.7; stroke-linecap: square"/>
</g>
</g>
<g id="xtick_94">
<g id="line2d_109">
<path d="M 150.2 454.81 
L 152.09 455.34 
" style="fill: none; stroke: #000000; stroke-width: 0.7; stroke-linecap: square"/>
</g>
</g>
<g id="xtick_95">
<g id="line2d_110">
<path d="M 150.68 444.17 
L 152.59 444.7 
" style="fill: none; stroke: #000000; stroke-width: 0.7; stroke-linecap: square"/>
</g>
</g>
<g id="xtick_96">
<g id="line2d_111">
<path d="M 151.17 433.36 
L 153.1 433.88 
" style="fill: none; stroke: #000000; stroke-width: 0.7; stroke-linecap: square"/>
</g>
</g>
<g id="xtick_97">
<g id="line2d_112">
<path d="M 151.67 422.37 
L 153.61 422.87 
" style="fill: none; stroke: #000000; stroke-width: 0.7; stroke-linecap: square"/>
</g>
</g>
</g>
<g id="axes_5"/>
<g id="pane3d_16">
<g id="patch_16">
<path d="M 205.59 482.09 
L 251.84 443.33 
L 251.2 387.42 
L 202.74 422.78 
" style="fill: #f2f2f2; opacity: 0.5; stroke: #f2f2f2; stroke-linejoin: miter"/>
</g>
</g>
<g id="pane3d_17">
<g id="patch_17">
<path d="M 251.84 443.33 
L 326.05 464.9 
L 328.7 407.07 
L 251.2 387.42 
" style="fill: #e6e6e6; opacity: 0.5; stroke: #e6e6e6; stroke-linejoin: miter"/>
</g>
</g>
<g id="pane3d_18">
<g id="patch_18">
<path d="M 205.59 482.09 
L 284.26 507.78 
L 326.05 464.9 
L 251.84 443.33 
" style="fill: #ececec; opacity: 0.5; stroke: #ececec; stroke-linejoin: miter"/>
</g>
</g>
<g id="grid3d_16">
<g id="Line3DCollection_16">
<path d="M 218.24 486.22 
L 263.81 446.81 
L 263.67 390.58 
" style="fill: none; stroke: #a8a8a8; stroke-width: 0.65"/>
<path d="M 229.92 490.04 
L 274.86 450.02 
L 275.2 393.51 
" style="fill: none; stroke: #a8a8a8; stroke-width: 0.65"/>
<path d="M 241.79 493.91 
L 286.07 453.28 
L 286.9 396.47 
" style="fill: none; stroke: #a8a8a8; stroke-width: 0.65"/>
<path d="M 253.86 497.85 
L 297.45 456.58 
L 298.79 399.48 
" style="fill: none; stroke: #a8a8a8; stroke-width: 0.65"/>
<path d="M 266.12 501.86 
L 308.99 459.94 
L 310.86 402.54 
" style="fill: none; stroke: #a8a8a8; stroke-width: 0.65"/>
<path d="M 278.58 505.93 
L 320.72 463.35 
L 323.12 405.65 
" style="fill: none; stroke: #a8a8a8; stroke-width: 0.65"/>
</g>
</g>
<g id="grid3d_17">
<g id="Line3DCollection_17">
<path d="M 203.15 422.49 
L 205.98 481.76 
L 284.61 507.42 
" style="fill: none; stroke: #a8a8a8; stroke-width: 0.65"/>
<path d="M 213.18 415.17 
L 215.53 473.76 
L 293.27 498.54 
" style="fill: none; stroke: #a8a8a8; stroke-width: 0.65"/>
<path d="M 222.86 408.1 
L 224.76 466.03 
L 301.62 489.97 
" style="fill: none; stroke: #a8a8a8; stroke-width: 0.65"/>
<path d="M 232.21 401.27 
L 233.68 458.55 
L 309.68 481.69 
" style="fill: none; stroke: #a8a8a8; stroke-width: 0.65"/>
<path d="M 241.25 394.68 
L 242.32 451.3 
L 317.48 473.69 
" style="fill: none; stroke: #a8a8a8; stroke-width: 0.65"/>
<path d="M 250 388.3 
L 250.69 444.29 
L 325.01 465.96 
" style="fill: none; stroke: #a8a8a8; stroke-width: 0.65"/>
</g>
</g>
<g id="grid3d_18">
<g id="Line3DCollection_18">
<path d="M 326.42 456.78 
L 251.75 435.47 
L 205.19 473.78 
" style="fill: none; stroke: #a8a8a8; stroke-width: 0.65"/>
<path d="M 326.85 447.43 
L 251.65 426.42 
L 204.73 464.2 
" style="fill: none; stroke: #a8a8a8; stroke-width: 0.65"/>
<path d="M 327.28 437.95 
L 251.54 417.25 
L 204.26 454.48 
" style="fill: none; stroke: #a8a8a8; stroke-width: 0.65"/>
<path d="M 327.72 428.33 
L 251.43 407.95 
L 203.79 444.62 
" style="fill: none; stroke: #a8a8a8; stroke-width: 0.65"/>
<path d="M 328.17 418.57 
L 251.32 398.52 
L 203.31 434.6 
" style="fill: none; stroke: #a8a8a8; stroke-width: 0.65"/>
</g>
</g>
<g id="axis3d_16">
<g id="line2d_113">
<path d="M 205.59 482.09 
L 284.26 507.78 
" style="fill: none; stroke: #000000; stroke-width: 0.7; stroke-linecap: square"/>
</g>
<g id="xtick_98">
<g id="line2d_114">
<path d="M 218.63 485.88 
L 217.44 486.91 
" style="fill: none; stroke: #000000; stroke-width: 0.7; stroke-linecap: square"/>
</g>
</g>
<g id="xtick_99">
<g id="line2d_115">
<path d="M 230.31 489.69 
L 229.13 490.73 
" style="fill: none; stroke: #000000; stroke-width: 0.7; stroke-linecap: square"/>
</g>
</g>
<g id="xtick_100">
<g id="line2d_116">
<path d="M 242.18 493.56 
L 241.02 494.62 
" style="fill: none; stroke: #000000; stroke-width: 0.7; stroke-linecap: square"/>
</g>
</g>
<g id="xtick_101">
<g id="line2d_117">
<path d="M 254.24 497.49 
L 253.09 498.58 
" style="fill: none; stroke: #000000; stroke-width: 0.7; stroke-linecap: square"/>
</g>
</g>
<g id="xtick_102">
<g id="line2d_118">
<path d="M 266.49 501.49 
L 265.37 502.59 
" style="fill: none; stroke: #000000; stroke-width: 0.7; stroke-linecap: square"/>
</g>
</g>
<g id="xtick_103">
<g id="line2d_119">
<path d="M 278.95 505.56 
L 277.84 506.67 
" style="fill: none; stroke: #000000; stroke-width: 0.7; stroke-linecap: square"/>
</g>
</g>
</g>
<g id="axis3d_17">
<g id="line2d_120">
<path d="M 326.05 464.9 
L 284.26 507.78 
" style="fill: none; stroke: #000000; stroke-width: 0.7; stroke-linecap: square"/>
</g>
<g id="xtick_104">
<g id="line2d_121">
<path d="M 283.95 507.2 
L 285.94 507.85 
" style="fill: none; stroke: #000000; stroke-width: 0.7; stroke-linecap: square"/>
</g>
</g>
<g id="xtick_105">
<g id="line2d_122">
<path d="M 292.61 498.33 
L 294.58 498.96 
" style="fill: none; stroke: #000000; stroke-width: 0.7; stroke-linecap: square"/>
</g>
</g>
<g id="xtick_106">
<g id="line2d_123">
<path d="M 300.97 489.77 
L 302.91 490.37 
" style="fill: none; stroke: #000000; stroke-width: 0.7; stroke-linecap: square"/>
</g>
</g>
<g id="xtick_107">
<g id="line2d_124">
<path d="M 309.05 481.49 
L 310.96 482.08 
" style="fill: none; stroke: #000000; stroke-width: 0.7; stroke-linecap: square"/>
</g>
</g>
<g id="xtick_108">
<g id="line2d_125">
<path d="M 316.85 473.5 
L 318.74 474.07 
" style="fill: none; stroke: #000000; stroke-width: 0.7; stroke-linecap: square"/>
</g>
</g>
<g id="xtick_109">
<g id="line2d_126">
<path d="M 324.39 465.78 
L 326.26 466.32 
" style="fill: none; stroke: #000000; stroke-width: 0.7; stroke-linecap: square"/>
</g>
</g>
</g>
<g id="axis3d_18">
<g id="line2d_127">
<path d="M 326.05 464.9 
L 328.7 407.07 
" style="fill: none; stroke: #000000; stroke-width: 0.7; stroke-linecap: square"/>
</g>
<g id="xtick_110">
<g id="line2d_128">
<path d="M 325.79 456.6 
L 327.67 457.14 
" style="fill: none; stroke: #000000; stroke-width: 0.7; stroke-linecap: square"/>
</g>
</g>
<g id="xtick_111">
<g id="line2d_129">
<path d="M 326.22 447.26 
L 328.11 447.79 
" style="fill: none; stroke: #000000; stroke-width: 0.7; stroke-linecap: square"/>
</g>
</g>
<g id="xtick_112">
<g id="line2d_130">
<path d="M 326.65 437.78 
L 328.56 438.3 
" style="fill: none; stroke: #000000; stroke-width: 0.7; stroke-linecap: square"/>
</g>
</g>
<g id="xtick_113">
<g id="line2d_131">
<path d="M 327.08 428.16 
L 329.01 428.68 
" style="fill: none; stroke: #000000; stroke-width: 0.7; stroke-linecap: square"/>
</g>
</g>
<g id="xtick_114">
<g id="line2d_132">
<path d="M 327.52 418.4 
L 329.46 418.91 
" style="fill: none; stroke: #000000; stroke-width: 0.7; stroke-linecap: square"/>
</g>
</g>
</g>
<g id="axes_6"/>
</g>

<g stroke-width="3.00" stroke-linecap="round"><path stroke="#6354bc" stroke-opacity="0.33" d="M64.6 105.7h0M84.7 91.6h0M72.7 100.1h0M86.4 99.5h0M64.1 82.0h0M58.9 112.7h0M57.7 94.4h0M67.8 107.8h0M82.7 100.1h0M77.6 86.9h0M61.8 79.8h0M60.1 92.4h0M83.4 84.4h0M78.8 85.4h0M84.0 102.3h0M88.2 95.8h0M81.9 90.9h0M69.9 84.0h0M63.9 76.0h0M82.0 82.1h0M84.1 78.0h0M61.0 112.2h0M56.0 104.0h0M82.2 103.2h0M87.4 98.8h0M75.8 104.2h0M58.0 99.9h0M76.6 81.6h0M51.7 103.4h0M62.8 93.3h0M104.7 97.5h0M55.7 96.4h0M86.3 82.8h0M73.2 75.7h0M60.4 91.8h0M59.2 98.1h0M61.7 99.4h0M62.0 96.6h0M81.5 83.8h0"/><path stroke="#696969" stroke-opacity="0.33" d="M74.3 98.3h0M55.1 92.3h0M74.0 94.8h0M74.5 92.4h0M58.1 85.2h0M59.7 88.8h0M90.4 79.0h0M91.5 107.5h0M51.1 91.6h0M69.4 83.6h0M58.8 95.0h0M83.0 96.3h0M64.4 87.1h0M89.6 98.9h0M79.2 89.0h0M97.8 86.0h0M62.6 102.6h0M71.4 106.2h0M76.3 103.5h0M60.8 110.7h0M87.1 81.7h0M84.1 89.5h0M68.6 80.9h0M57.7 102.2h0M71.9 80.9h0M94.6 105.1h0M78.7 81.8h0M85.3 108.0h0"/><path stroke="#f45100" stroke-opacity="0.33" d="M57.6 103.4h0M82.7 101.0h0M72.4 100.3h0M83.9 94.2h0M81.5 103.3h0M89.4 87.4h0M64.6 102.3h0M87.5 85.1h0M69.7 87.1h0M61.5 109.0h0M80.0 105.4h0M72.8 103.8h0M66.8 92.6h0M82.1 109.9h0M58.9 104.2h0M65.1 99.3h0M105.2 94.8h0M82.6 73.0h0M78.8 96.4h0M65.0 86.5h0M85.4 81.2h0M102.0 74.2h0M88.5 102.3h0M79.4 105.9h0M90.2 101.3h0M62.9 105.6h0M51.5 101.1h0M67.9 104.2h0M58.6 98.1h0M94.6 93.8h0M63.3 80.9h0M89.4 95.4h0M95.9 102.7h0M57.2 82.9h0M70.9 97.3h0M56.4 86.9h0M57.6 103.2h0M83.6 90.6h0M70.4 85.6h0M58.9 93.3h0M93.1 105.6h0M65.3 88.0h0M86.8 84.5h0M73.8 100.9h0M58.0 105.0h0M60.0 103.7h0M85.3 79.7h0M97.4 109.6h0M83.6 91.5h0M79.5 103.3h0M89.8 73.8h0M78.5 90.2h0M86.2 109.4h0M62.7 94.4h0M81.1 97.4h0M66.2 76.1h0M97.9 83.5h0M55.1 83.1h0M76.3 76.2h0"/><path stroke="#c5f7ba" stroke-opacity="0.33" d="M76.0 85.1h0M76.8 84.8h0M85.3 109.1h0M79.5 91.2h0M89.0 89.5h0M87.2 107.8h0M58.6 88.8h0M52.0 97.6h0M84.8 97.5h0M82.8 81.1h0M81.5 95.0h0M55.7 97.1h0M58.4 99.2h0M64.7 89.2h0M63.3 82.5h0M86.4 94.1h0M64.5 113.5h0M79.7 101.9h0M61.7 88.0h0M72.7 91.2h0M61.4 103.2h0M65.7 81.7h0M60.4 83.9h0M65.2 90.1h0M61.8 109.6h0M54.8 107.6h0M77.6 99.4h0M86.3 92.2h0M69.0 85.7h0M60.7 104.4h0M89.6 102.4h0M79.7 90.4h0M67.7 106.8h0M55.6 96.3h0M75.9 101.3h0M88.1 86.6h0M65.7 91.7h0M87.4 102.6h0"/><path stroke="#0074c8" stroke-opacity="0.33" d="M64.9 81.2h0M59.4 87.2h0M81.7 93.0h0M62.1 87.4h0M62.0 87.0h0M62.2 86.2h0M75.2 94.1h0M64.5 85.9h0M68.0 84.8h0M62.5 81.3h0M79.2 99.7h0M55.6 102.8h0M64.2 79.1h0M69.2 81.8h0M99.7 78.1h0M87.9 103.6h0M61.4 105.2h0M62.6 92.2h0M62.5 87.8h0M76.6 98.8h0M71.2 106.6h0M81.5 87.5h0M66.7 73.9h0M83.1 93.0h0M62.6 86.8h0M94.9 91.8h0M73.4 82.3h0M82.4 91.8h0M57.5 86.6h0M90.8 91.8h0M64.5 91.2h0M88.8 71.0h0M73.6 100.6h0M59.1 80.7h0M71.6 86.8h0M63.8 96.5h0M58.1 109.4h0M66.0 80.0h0M63.6 96.8h0M88.4 103.0h0M86.1 102.6h0M69.7 91.1h0M59.1 77.0h0M92.2 85.7h0M89.8 105.4h0M58.0 97.4h0M58.5 95.6h0M64.1 84.2h0M70.8 101.0h0M80.3 87.8h0M56.3 101.0h0M62.7 83.7h0M64.5 74.4h0M58.3 107.6h0M73.8 91.8h0M64.0 93.0h0M63.9 104.1h0M76.4 105.3h0M87.2 90.3h0M56.2 101.2h0M54.3 97.0h0M81.8 82.6h0M61.3 75.1h0M87.7 95.1h0M95.8 78.7h0M78.2 97.9h0M73.6 81.1h0M62.4 85.9h0M61.7 85.1h0M63.6 103.7h0M83.8 103.6h0M82.5 90.8h0M77.1 99.5h0M58.7 97.5h0M97.9 89.9h0M59.7 93.4h0M52.7 94.7h0M74.2 98.8h0M79.5 105.8h0M93.1 101.8h0M82.1 103.7h0M84.1 102.6h0"/><path stroke="#59d05c" stroke-opacity="0.33" d="M75.1 88.9h0M88.0 105.2h0M91.1 74.6h0M81.6 82.5h0M61.0 107.4h0M92.6 110.3h0M81.7 86.8h0M62.0 80.7h0M70.8 85.4h0M79.2 97.2h0M86.3 102.9h0M66.1 91.4h0M80.8 93.8h0M64.2 99.9h0M57.8 97.7h0M86.8 83.3h0M97.9 103.0h0M78.5 89.5h0M69.1 71.2h0M62.7 88.0h0M62.9 101.1h0M69.8 91.9h0M86.2 104.0h0M71.0 71.1h0M93.1 95.3h0M63.6 98.0h0M65.0 106.9h0M83.4 104.4h0M89.5 94.4h0M60.7 93.9h0M82.5 110.8h0M56.9 93.8h0M68.1 93.5h0M75.7 104.6h0M84.2 89.7h0M101.4 93.4h0M81.7 86.0h0M83.4 89.7h0M56.0 98.0h0M53.2 91.7h0M74.5 86.2h0M67.3 84.6h0M80.2 88.0h0"/><path stroke="#af3296" stroke-opacity="0.33" d="M80.6 100.5h0M82.9 103.3h0M74.7 77.2h0M57.2 81.8h0M84.1 74.0h0M56.8 105.0h0M70.6 102.2h0M83.9 100.9h0M79.5 75.6h0M64.1 107.9h0M77.3 103.4h0M66.6 107.7h0M84.3 72.5h0M62.2 91.0h0M81.8 106.9h0M84.5 101.2h0M58.7 73.7h0"/><path stroke="#93e68a" stroke-opacity="0.33" d="M60.1 96.6h0M83.1 101.9h0M62.6 86.4h0M84.4 100.6h0M85.6 101.4h0M72.8 104.1h0M61.5 108.0h0M97.3 97.6h0M53.1 89.9h0M74.8 85.8h0M59.3 104.6h0M64.9 80.3h0M68.9 86.3h0M65.5 102.0h0M62.4 78.5h0M53.5 97.4h0M80.0 75.2h0M81.2 85.1h0M64.8 87.3h0M69.1 101.1h0M70.4 86.2h0M77.9 109.4h0M82.9 83.5h0M76.8 97.4h0M88.9 92.9h0M101.2 92.1h0M74.3 86.2h0M75.8 103.9h0M62.8 87.8h0M82.9 88.6h0M55.1 87.5h0M60.2 99.0h0M91.8 99.3h0M86.3 108.6h0M69.9 86.7h0M83.9 84.3h0M52.6 107.6h0M62.6 92.5h0M81.8 92.0h0M83.1 102.6h0M57.7 94.3h0M89.6 86.6h0M76.8 88.5h0M76.7 104.4h0M71.3 99.5h0M58.9 99.2h0M55.7 114.0h0"/><path stroke="#e6e6e6" stroke-opacity="0.33" d="M94.8 93.8h0M80.2 91.1h0M58.8 91.9h0M87.0 105.6h0M76.2 104.8h0M53.8 100.2h0M60.4 79.2h0M79.9 89.9h0M64.8 84.7h0M67.8 93.5h0M60.4 95.5h0M56.5 85.5h0M83.1 94.9h0M92.7 100.4h0M57.9 83.9h0M83.0 91.8h0"/><path stroke="#9f9f9f" stroke-opacity="0.33" d="M76.9 90.6h0M83.3 100.8h0M61.6 105.7h0M66.9 89.2h0M63.4 101.7h0M75.5 99.5h0M60.2 108.6h0M77.4 83.9h0M69.1 100.7h0M63.8 99.3h0M65.1 81.1h0M76.1 87.5h0M94.1 102.7h0M80.6 110.7h0M84.5 91.7h0M85.2 86.9h0M78.9 89.2h0M84.5 86.4h0M86.2 104.0h0M81.4 104.1h0M70.4 82.8h0M55.9 86.1h0"/><path stroke="#c8c8c8" stroke-opacity="0.33" d="M86.4 93.7h0M79.0 92.7h0M70.8 103.9h0M97.4 109.3h0M76.3 86.3h0M65.5 94.4h0M65.1 70.8h0M71.1 86.3h0M61.9 85.9h0M71.8 106.5h0M77.6 91.1h0M92.2 107.6h0M93.2 101.1h0M56.3 75.9h0M76.1 100.0h0M74.4 86.0h0M61.0 100.1h0M58.7 80.9h0M83.2 82.9h0M55.4 96.9h0"/><path stroke="#ffc07f" stroke-opacity="0.33" d="M85.4 97.4h0M94.2 103.7h0M57.0 95.1h0M52.3 79.5h0M76.6 89.4h0M87.1 88.8h0M79.3 109.2h0M76.4 103.1h0M63.4 86.2h0M103.8 112.0h0M82.9 84.7h0M62.7 104.2h0M62.6 85.5h0M59.9 114.7h0M82.0 107.8h0M64.6 97.4h0M60.3 106.5h0M60.1 110.0h0M71.2 87.1h0M77.5 100.1h0M91.7 83.2h0M70.2 98.1h0M54.0 87.3h0M60.1 92.3h0M80.9 96.8h0M81.2 104.9h0M84.8 104.8h0M65.3 85.2h0M67.5 79.6h0M84.4 100.9h0M64.5 81.1h0M80.1 86.6h0M97.5 95.9h0M87.0 92.8h0M87.8 106.6h0M87.0 83.9h0M72.0 93.6h0M84.1 88.1h0M76.5 85.7h0M73.7 85.4h0M62.5 104.2h0M56.6 97.3h0M63.3 87.6h0M78.0 87.8h0M80.3 101.3h0M71.4 87.1h0M86.0 87.2h0M61.0 94.6h0M86.6 110.6h0M87.0 78.5h0M77.7 83.4h0"/><path stroke="#e0e0f9" stroke-opacity="0.33" d="M64.2 109.7h0M69.3 84.1h0M58.9 72.2h0M58.4 103.8h0M60.4 95.5h0M90.0 100.3h0M77.7 96.6h0M82.8 94.2h0M82.5 102.2h0M70.3 98.9h0M58.2 102.8h0M86.2 97.9h0M81.6 89.7h0M89.9 103.6h0M89.5 104.7h0M55.7 109.4h0M73.2 93.2h0M57.8 81.5h0M67.4 100.3h0M70.1 96.0h0M78.9 101.7h0M81.5 105.1h0M85.1 104.7h0M80.5 96.1h0M84.4 86.8h0M58.0 104.6h0M79.2 101.8h0"/><path stroke="#ff6b00" stroke-opacity="0.33" d="M65.0 91.7h0M87.7 101.7h0M59.4 91.5h0M64.5 99.7h0M83.5 106.1h0M63.1 106.3h0M57.9 103.7h0M82.3 87.2h0M80.6 104.4h0M73.1 84.6h0M69.9 84.4h0M74.8 95.3h0M64.1 106.9h0M78.6 82.1h0M70.9 98.5h0M81.1 96.2h0M53.6 108.3h0M82.9 95.0h0M86.5 86.3h0M70.8 103.2h0M71.5 90.4h0M60.3 79.0h0M59.8 86.3h0M58.8 102.0h0M85.1 96.9h0M87.2 91.7h0M70.0 95.3h0M55.8 105.6h0M82.6 94.7h0M83.7 88.4h0M83.1 93.0h0M95.6 77.8h0M99.9 95.6h0M82.0 95.8h0M70.8 87.6h0M60.6 100.6h0M67.3 83.0h0M80.8 70.3h0M55.3 77.6h0M60.6 85.2h0M61.6 90.9h0M82.6 89.8h0M65.8 89.7h0M79.0 91.0h0M67.1 102.3h0M58.9 74.0h0M69.6 79.8h0M82.9 101.9h0M69.5 69.9h0M92.0 102.3h0M85.6 86.5h0M82.1 89.0h0M82.0 96.1h0M58.6 84.8h0M93.3 83.0h0M79.4 111.8h0M85.3 91.8h0M62.9 105.7h0M85.7 84.1h0M60.9 104.3h0M83.9 90.1h0M82.4 112.2h0M53.4 99.9h0"/><path stroke="#44a7e3" stroke-opacity="0.33" d="M63.9 95.6h0M49.8 85.0h0M62.6 96.4h0M61.9 94.3h0M83.0 90.8h0M81.5 100.1h0M62.8 92.0h0M54.7 98.4h0M65.4 81.4h0M74.0 93.7h0M90.4 84.1h0M83.6 89.4h0M83.6 96.2h0M56.1 77.6h0M59.1 95.7h0M79.4 111.4h0M81.2 86.1h0M94.0 102.6h0M85.5 105.6h0M60.9 107.8h0M63.1 103.5h0M68.3 78.9h0M89.3 90.3h0M96.6 75.0h0M89.4 93.4h0M85.1 101.2h0M77.4 91.0h0M55.5 97.9h0M88.5 89.7h0M82.4 98.0h0M66.3 95.2h0M91.6 98.0h0M85.9 90.8h0M64.9 99.1h0M91.0 106.6h0M75.9 86.0h0M94.0 83.7h0M86.5 85.7h0M78.4 101.2h0M64.2 77.1h0M64.8 100.5h0M101.0 106.4h0M79.7 98.4h0M87.7 101.6h0M97.3 106.9h0M84.6 95.0h0M85.0 105.6h0M83.4 92.3h0M59.0 101.1h0M75.6 92.2h0M69.1 87.4h0M90.9 94.2h0M83.2 91.6h0M98.8 90.8h0M74.8 101.0h0M80.7 94.6h0M106.3 108.2h0M70.4 113.7h0M89.4 84.9h0M60.8 77.2h0M85.2 84.6h0M90.4 103.5h0M71.8 95.8h0M74.2 113.7h0M66.5 98.4h0M74.8 86.6h0M63.6 81.0h0M60.7 85.8h0M84.0 90.3h0M79.0 101.8h0M57.4 97.9h0M63.5 97.7h0M74.5 98.1h0M84.9 100.5h0M68.7 103.0h0M99.7 92.5h0M80.3 107.1h0M57.3 85.7h0M60.8 88.3h0M84.9 88.8h0M83.6 75.4h0M69.6 111.7h0M58.8 96.6h0M83.5 72.3h0M93.3 101.5h0M65.7 103.9h0"/><path stroke="#c0e0fd" stroke-opacity="0.33" d="M69.5 101.7h0M89.7 107.2h0M58.4 100.8h0M110.6 99.2h0M83.2 110.8h0M76.4 94.3h0M78.6 106.0h0M66.0 86.4h0M83.8 89.8h0M56.2 91.5h0M62.5 105.2h0M57.7 92.8h0M53.3 103.3h0M72.0 87.2h0M85.1 85.5h0M80.0 73.7h0M85.5 105.6h0M77.8 86.1h0M57.4 103.2h0M69.3 99.0h0M55.9 83.9h0M108.8 104.3h0M87.4 103.3h0M80.8 92.0h0M68.0 102.5h0M61.6 72.3h0M65.4 89.9h0M56.9 86.8h0M71.7 74.1h0M90.3 81.2h0M83.3 110.4h0M104.8 102.5h0M69.4 81.1h0M92.4 106.9h0M87.7 98.3h0M69.2 108.3h0M58.5 86.9h0M63.5 83.3h0M70.0 87.8h0M65.9 99.9h0M53.1 87.1h0M72.2 79.5h0M67.4 103.5h0M61.3 107.5h0M54.7 98.0h0M59.8 102.6h0M82.9 86.8h0M63.0 89.3h0M65.7 77.5h0M70.8 82.5h0M59.5 106.9h0M59.9 106.9h0M77.0 86.6h0M65.3 92.1h0"/><path stroke="#babbe9" stroke-opacity="0.33" d="M62.7 96.0h0M55.5 89.1h0M89.9 107.8h0M61.6 101.2h0M80.1 100.9h0M57.7 79.5h0M93.6 104.8h0M71.5 92.7h0M64.9 109.1h0M56.8 101.9h0M80.9 112.7h0M62.1 75.8h0M65.0 77.1h0M55.1 84.2h0M93.4 93.0h0M48.4 98.6h0M51.6 105.8h0M52.2 85.7h0M85.3 93.0h0M88.2 87.7h0M58.0 88.7h0M60.1 81.8h0M91.7 99.1h0M64.4 86.9h0M88.6 98.9h0M61.6 83.6h0M68.5 106.6h0M61.3 105.0h0M77.4 90.6h0M75.6 86.1h0M59.2 89.7h0M97.4 102.6h0M64.2 106.5h0M64.2 89.3h0M59.2 100.9h0M87.4 85.6h0M86.9 95.5h0"/><path stroke="#da4ac1" stroke-opacity="0.33" d="M89.7 95.2h0M73.9 86.4h0M68.6 87.4h0M62.6 87.3h0M57.3 94.3h0M90.1 107.6h0M52.3 92.2h0M94.2 94.3h0M77.1 96.9h0M84.2 81.7h0M69.0 84.6h0M62.5 89.5h0M59.6 106.8h0M52.4 91.0h0M94.6 103.4h0M55.4 83.0h0M91.4 91.5h0"/><path stroke="#ff9031" stroke-opacity="0.33" d="M89.6 88.9h0M77.8 85.0h0M86.3 101.9h0M65.1 90.7h0M83.5 84.4h0M56.8 89.6h0M76.8 90.6h0M61.9 92.9h0M91.6 74.5h0M54.8 84.9h0M77.4 86.5h0M58.7 106.1h0M74.8 77.9h0M102.6 80.4h0M79.0 98.8h0M60.2 92.5h0M65.8 93.2h0M56.1 93.7h0M65.5 106.2h0M52.4 81.3h0M70.0 91.3h0M60.0 96.0h0M60.3 80.6h0M83.0 100.1h0M61.8 102.7h0M80.9 87.6h0M83.5 94.7h0M79.6 92.4h0M72.6 80.6h0M54.0 97.6h0M72.1 89.3h0M76.3 83.2h0M60.1 97.4h0M72.8 103.4h0M68.0 113.6h0M74.4 94.6h0M81.4 93.3h0M94.5 108.4h0M79.4 104.0h0M87.6 101.7h0M91.0 82.2h0M53.1 84.8h0M84.5 71.2h0M84.2 95.3h0M66.2 88.8h0M62.9 97.5h0M73.7 88.6h0M73.2 72.4h0M68.2 89.9h0M65.9 87.8h0M60.1 81.1h0M75.6 84.1h0"/><path stroke="#04ad38" stroke-opacity="0.33" d="M63.4 88.5h0M77.4 91.7h0M69.3 101.2h0M74.3 88.7h0M84.2 99.4h0M79.0 95.5h0M68.6 81.2h0M70.3 105.0h0M81.5 67.4h0M63.7 99.3h0M70.1 89.4h0M59.0 93.5h0M84.9 100.9h0M75.2 82.3h0M93.2 91.4h0M59.6 72.9h0M56.9 79.8h0M83.4 106.9h0M66.8 91.4h0M65.1 80.5h0M78.3 84.1h0M66.3 96.7h0M85.3 103.4h0M62.6 83.4h0M61.8 91.9h0M56.1 81.0h0M86.5 108.2h0M64.7 104.2h0M83.9 107.4h0M65.3 108.2h0M85.0 101.2h0M58.1 83.1h0M69.9 81.4h0M82.9 94.7h0M85.8 103.5h0M80.9 90.7h0M87.8 104.9h0M91.7 81.1h0M90.7 97.1h0M78.9 83.9h0M66.2 82.4h0M53.3 77.6h0M65.6 102.0h0M60.8 92.4h0M86.7 73.8h0M98.3 92.2h0M66.9 88.0h0M82.0 89.3h0M79.9 84.7h0"/><path stroke="#8bccee" stroke-opacity="0.33" d="M67.7 85.2h0M64.5 77.6h0M70.8 84.7h0M80.2 98.8h0M68.1 89.4h0M61.3 105.4h0M81.1 95.5h0M96.5 79.0h0M67.4 79.2h0M61.0 102.2h0M65.3 100.7h0M81.6 112.5h0M88.9 96.2h0M78.8 103.8h0M94.6 103.8h0M82.1 88.7h0M61.0 92.7h0M85.9 85.4h0M68.3 100.5h0M84.5 97.9h0M84.6 107.8h0M63.0 100.7h0M65.7 88.8h0M85.0 89.7h0M64.9 99.5h0M90.3 107.8h0M62.1 81.5h0M80.2 96.4h0M61.6 103.8h0M64.9 70.7h0M78.8 99.8h0M62.4 91.1h0M86.1 87.2h0M86.5 86.5h0M58.6 104.3h0M84.9 108.6h0M68.6 87.3h0M48.2 83.7h0M85.5 82.9h0M62.6 87.9h0M75.2 95.5h0M72.3 81.6h0M53.8 93.7h0M60.1 87.1h0M65.6 91.7h0M67.7 80.8h0M63.8 104.1h0M83.9 83.8h0M78.1 79.4h0M89.6 108.1h0M57.1 84.6h0M92.2 92.5h0M59.8 96.5h0M60.8 82.7h0M73.7 91.2h0M72.2 81.0h0"/><path stroke="#9690d4" stroke-opacity="0.33" d="M82.1 93.4h0M74.9 101.0h0M89.3 98.1h0M65.0 89.9h0M66.8 112.9h0M58.4 85.0h0M57.8 108.2h0M78.5 92.9h0M82.6 98.1h0M79.4 102.0h0M68.2 108.3h0M58.4 92.0h0M87.8 98.5h0M71.5 98.0h0M83.6 85.5h0M72.2 84.9h0M62.2 103.2h0M67.6 105.2h0M62.2 97.5h0M96.5 102.6h0M54.6 97.8h0M84.6 106.0h0M61.0 89.2h0M66.8 85.4h0M69.4 72.7h0M81.7 107.3h0M85.7 96.7h0M67.6 97.4h0M72.9 97.1h0M65.8 99.9h0M92.0 105.6h0M81.6 81.1h0M80.8 91.6h0M63.4 81.2h0M90.0 88.8h0M81.2 93.0h0M63.6 90.8h0M53.2 111.9h0M91.2 106.6h0M79.6 83.8h0M55.7 93.1h0M58.2 91.0h0"/><path stroke="#af3296" stroke-opacity="0.52" d="M75.5 103.9h0M86.8 105.6h0M61.8 77.0h0M82.2 91.5h0M52.8 81.3h0M54.6 81.8h0M77.2 86.7h0M73.8 98.8h0M52.8 85.4h0M83.0 103.3h0M92.7 87.0h0M88.0 86.7h0M69.5 102.5h0M56.5 109.0h0M86.4 93.9h0M80.9 87.5h0M80.8 77.4h0"/><path stroke="#93e68a" stroke-opacity="0.52" d="M71.8 109.5h0M64.0 82.8h0M84.4 99.8h0M80.4 108.9h0M90.9 96.6h0M72.8 90.9h0M64.5 91.0h0M75.0 105.9h0M99.4 106.5h0M95.5 107.0h0M79.8 82.4h0M71.8 91.1h0M90.0 102.9h0M55.9 107.4h0M87.8 102.2h0M82.7 80.8h0M96.7 100.4h0M68.6 88.6h0M81.2 86.4h0M61.3 81.3h0M82.6 95.1h0M84.3 97.8h0M84.4 93.6h0M58.4 91.2h0M63.6 99.1h0M87.9 102.6h0M65.6 104.0h0M91.9 104.0h0M84.3 99.6h0M60.4 89.4h0M53.0 85.4h0M63.1 83.5h0M103.8 89.0h0M58.4 106.4h0M59.2 74.0h0M62.4 91.2h0M54.6 101.2h0M66.8 86.3h0M59.2 98.1h0M61.9 95.3h0M58.1 94.1h0M60.4 99.4h0M76.4 85.2h0M70.1 84.6h0M67.9 106.7h0M94.8 91.3h0M94.7 91.6h0"/><path stroke="#da4ac1" stroke-opacity="0.52" d="M90.0 111.5h0M81.7 107.6h0M61.7 83.0h0M81.0 100.9h0M69.7 84.1h0M82.0 94.7h0M54.9 80.6h0M50.7 102.6h0M80.1 87.9h0M86.1 74.1h0M54.3 82.7h0M93.5 104.6h0M79.7 90.9h0M56.5 79.1h0M62.6 90.0h0M70.3 86.3h0M78.8 100.4h0"/><path stroke="#6354bc" stroke-opacity="0.52" d="M58.6 101.8h0M64.3 90.2h0M61.2 94.6h0M83.1 108.8h0M64.2 90.6h0M91.7 105.7h0M71.9 98.7h0M57.2 96.7h0M61.6 103.3h0M65.6 94.7h0M48.8 105.3h0M66.8 95.8h0M58.5 88.8h0M85.5 110.4h0M77.1 92.3h0M62.6 101.4h0M60.8 106.0h0M66.7 93.4h0M78.1 94.9h0M53.4 95.8h0M79.8 101.0h0M75.2 86.1h0M58.9 94.7h0M86.7 95.2h0M90.8 104.6h0M90.8 69.2h0M61.2 106.2h0M66.3 91.9h0M69.4 102.1h0M60.1 83.1h0M85.5 81.5h0M70.8 70.0h0M73.4 72.0h0M60.3 97.5h0M70.2 86.5h0M54.6 94.8h0M85.0 98.3h0M52.6 84.2h0M63.9 86.0h0"/><path stroke="#59d05c" stroke-opacity="0.52" d="M65.0 91.5h0M65.6 100.9h0M97.0 91.4h0M84.3 90.6h0M79.2 109.6h0M64.3 87.3h0M49.2 99.7h0M56.3 99.2h0M69.6 102.9h0M68.6 86.4h0M89.1 95.7h0M84.2 95.1h0M81.0 112.7h0M81.4 92.8h0M87.7 94.8h0M93.5 106.3h0M68.0 95.1h0M67.8 105.1h0M75.2 99.2h0M78.7 102.1h0M57.1 87.7h0M66.8 88.8h0M59.8 101.1h0M81.2 87.0h0M82.6 88.1h0M85.5 97.6h0M58.9 85.1h0M73.0 94.1h0M61.6 81.3h0M102.5 90.1h0M88.1 85.2h0M89.7 86.6h0M76.4 106.7h0M55.2 103.0h0M58.6 84.0h0M73.0 97.2h0M83.7 101.5h0M89.3 91.2h0M70.2 91.3h0M67.0 105.5h0M77.9 100.7h0M74.7 90.0h0M55.9 93.8h0"/><path stroke="#e0e0f9" stroke-opacity="0.52" d="M53.4 100.6h0M73.6 93.0h0M84.1 81.4h0M81.0 102.3h0M83.3 89.0h0M67.8 84.0h0M60.9 97.2h0M67.4 80.0h0M67.4 91.8h0M88.3 92.2h0M88.5 90.3h0M87.9 100.1h0M91.1 99.0h0M62.7 95.5h0M85.8 92.4h0M75.2 90.6h0M78.8 89.9h0M66.6 85.3h0M80.1 95.4h0M91.8 113.9h0M54.3 101.2h0M59.8 87.0h0M56.0 101.7h0M77.6 92.6h0M92.3 98.6h0M100.8 117.5h0"/><path stroke="#696969" stroke-opacity="0.52" d="M86.5 89.5h0M86.7 102.8h0M64.9 102.6h0M89.1 91.5h0M77.0 98.8h0M83.6 97.0h0M59.5 86.5h0M72.2 105.9h0M63.2 107.5h0M64.0 89.9h0M82.5 80.9h0M68.8 81.8h0M64.6 92.3h0M67.1 71.3h0M61.7 95.7h0M82.4 83.8h0M86.0 109.1h0M83.7 98.4h0M55.8 98.4h0M62.8 111.5h0M68.6 82.8h0M63.3 100.9h0M59.6 102.0h0M68.1 103.0h0M85.3 97.7h0M80.3 70.7h0M85.6 94.1h0M62.0 91.4h0"/><path stroke="#c0e0fd" stroke-opacity="0.52" d="M67.7 107.4h0M80.6 93.7h0M62.6 80.3h0M85.3 78.3h0M83.9 90.7h0M50.3 99.4h0M61.8 90.2h0M55.1 76.3h0M86.5 95.9h0M83.7 99.4h0M84.4 86.2h0M84.1 91.4h0M82.0 77.6h0M74.1 86.3h0M76.4 82.2h0M59.7 94.3h0M84.1 96.3h0M64.5 77.8h0M61.8 84.4h0M84.9 110.1h0M51.6 103.0h0M84.0 86.7h0M90.6 90.0h0M62.7 80.0h0M93.5 98.9h0M56.7 97.6h0M89.3 102.4h0M57.4 92.3h0M77.4 87.0h0M87.4 99.5h0M72.6 82.8h0M59.6 96.9h0M80.5 85.5h0M60.9 106.1h0M88.1 107.4h0M77.3 110.0h0M68.0 88.1h0M88.8 94.0h0M58.9 94.7h0M55.7 89.4h0M96.4 94.4h0M65.2 107.2h0M61.9 79.5h0M78.0 93.5h0M93.1 84.9h0M77.4 83.1h0M62.1 100.9h0M67.1 107.5h0M86.0 72.2h0M63.9 92.5h0M61.8 81.7h0M82.0 78.7h0M57.4 90.2h0M58.9 90.2h0"/><path stroke="#c5f7ba" stroke-opacity="0.52" d="M64.3 88.3h0M50.8 93.6h0M60.7 85.0h0M76.2 103.6h0M73.5 92.9h0M75.3 95.7h0M63.3 96.3h0M82.1 93.0h0M64.5 81.5h0M66.3 75.3h0M101.3 104.9h0M62.9 106.0h0M83.1 71.7h0M80.7 82.9h0M60.4 95.5h0M52.7 104.0h0M57.7 103.5h0M96.3 110.6h0M68.0 88.9h0M62.0 86.6h0M61.8 101.2h0M66.8 99.0h0M72.6 87.8h0M92.3 83.0h0M79.0 71.8h0M61.4 102.6h0M92.9 106.1h0M72.3 86.6h0M76.7 82.5h0M85.0 100.4h0M80.6 95.9h0M78.5 106.0h0M84.9 75.2h0M76.2 83.3h0M62.1 70.2h0M73.9 102.0h0M90.9 113.8h0"/><path stroke="#c8c8c8" stroke-opacity="0.52" d="M81.8 111.4h0M75.9 88.5h0M59.8 87.1h0M82.8 88.9h0M78.3 107.5h0M62.8 77.2h0M86.3 98.2h0M91.9 96.0h0M57.6 76.7h0M81.9 104.7h0M98.6 78.9h0M62.2 101.5h0M78.0 96.2h0M65.9 99.4h0M62.5 94.2h0M85.2 91.2h0M91.7 88.3h0M89.1 84.8h0M85.8 96.8h0"/><path stroke="#ffc07f" stroke-opacity="0.52" d="M69.3 109.9h0M89.1 75.6h0M78.5 85.0h0M55.5 86.4h0M76.1 78.2h0M63.6 103.8h0M94.3 101.1h0M84.3 75.4h0M83.6 90.0h0M86.4 89.6h0M79.2 87.2h0M56.6 108.1h0M62.7 102.2h0M91.4 99.5h0M69.2 97.6h0M87.9 90.5h0M62.6 80.2h0M77.6 86.7h0M78.8 86.1h0M73.8 102.0h0M66.6 105.7h0M108.1 99.0h0M66.8 112.7h0M88.9 108.4h0M94.8 90.2h0M60.9 93.6h0M62.4 82.5h0M102.6 104.3h0M54.9 105.0h0M63.4 100.6h0M82.3 81.5h0M82.6 98.3h0M57.1 99.8h0M88.8 100.4h0M90.3 110.0h0M81.0 96.0h0M82.7 106.7h0M57.2 109.8h0M74.2 96.1h0M92.3 104.2h0M82.1 105.4h0M84.6 81.1h0M70.4 89.5h0M61.4 85.9h0M92.4 96.5h0M89.1 105.3h0M59.3 78.7h0M60.9 109.3h0M67.7 87.2h0M90.0 94.3h0"/><path stroke="#0074c8" stroke-opacity="0.52" d="M66.7 101.4h0M78.7 84.3h0M63.6 79.1h0M64.3 94.6h0M80.2 87.5h0M75.4 105.9h0M63.2 90.6h0M86.0 100.1h0M63.1 85.8h0M84.7 93.3h0M71.4 82.7h0M58.5 81.1h0M93.9 89.9h0M80.2 90.1h0M79.6 89.5h0M67.0 86.5h0M61.2 87.9h0M93.2 101.3h0M71.8 85.4h0M60.8 95.7h0M60.0 107.4h0M65.3 85.6h0M80.5 89.9h0M69.0 80.0h0M57.2 88.1h0M86.9 109.5h0M61.5 92.1h0M83.7 84.2h0M67.1 101.2h0M87.8 93.8h0M76.5 95.4h0M65.2 83.5h0M54.8 104.4h0M81.1 99.5h0M72.4 75.0h0M60.5 94.5h0M60.5 94.8h0M76.8 88.0h0M83.1 88.1h0M87.0 71.2h0M74.3 88.7h0M62.0 105.4h0M61.5 86.2h0M64.0 94.6h0M65.9 102.9h0M97.2 99.0h0M57.9 74.5h0M86.4 99.1h0M63.8 87.8h0M70.5 92.1h0M63.2 86.5h0M97.4 95.1h0M93.5 105.9h0M56.8 89.5h0M56.1 91.7h0M89.9 102.1h0M57.1 97.7h0M58.2 82.4h0M85.6 96.4h0M79.9 103.3h0M84.9 95.6h0M60.8 81.8h0M103.4 83.7h0M86.7 97.4h0M91.4 96.6h0M55.0 88.7h0M85.4 86.6h0M66.8 83.4h0M81.2 92.5h0M90.0 71.8h0M89.5 87.9h0M57.5 111.2h0M80.5 70.2h0M86.5 96.0h0M68.3 83.0h0M59.1 98.1h0M66.7 78.3h0M62.6 95.8h0M95.7 107.3h0M67.6 107.6h0M62.6 93.2h0"/><path stroke="#9690d4" stroke-opacity="0.52" d="M86.3 92.0h0M58.0 92.6h0M76.0 107.3h0M78.4 105.9h0M61.0 94.4h0M62.6 91.8h0M56.1 81.9h0M66.8 102.7h0M63.9 77.3h0M60.8 80.7h0M89.4 90.7h0M78.2 89.6h0M76.9 98.2h0M71.6 96.4h0M68.3 103.7h0M70.3 97.0h0M84.9 91.1h0M56.2 92.9h0M81.2 85.2h0M79.6 87.4h0M62.8 109.7h0M87.3 105.9h0M81.6 91.0h0M60.1 101.4h0M81.5 106.5h0M81.4 88.3h0M88.5 87.5h0M70.7 92.1h0M79.6 92.5h0M86.0 98.1h0M67.3 84.8h0M99.5 105.0h0M80.7 92.0h0M79.2 112.5h0M81.7 101.2h0M80.5 79.5h0M65.3 95.6h0M56.6 106.4h0M73.7 100.6h0M64.6 89.9h0M56.0 98.7h0M84.5 94.2h0"/><path stroke="#8bccee" stroke-opacity="0.52" d="M57.2 96.3h0M61.3 88.1h0M66.7 90.2h0M84.7 104.6h0M83.6 84.9h0M86.5 85.0h0M71.2 77.5h0M52.6 92.3h0M73.9 92.7h0M64.1 109.4h0M62.3 73.8h0M72.0 89.2h0M82.2 106.1h0M90.0 93.5h0M63.2 80.2h0M65.8 96.7h0M80.7 98.7h0M53.0 84.8h0M89.9 89.3h0M95.8 89.0h0M64.0 69.8h0M75.9 87.8h0M77.2 94.8h0M76.4 105.8h0M67.2 94.4h0M81.3 102.0h0M84.0 84.2h0M88.3 104.1h0M61.1 102.7h0M66.1 98.6h0M80.2 100.8h0M89.4 91.2h0M86.6 98.5h0M71.7 82.0h0M90.0 103.8h0M88.8 98.5h0M60.8 104.4h0M78.9 93.7h0M69.0 90.6h0M78.3 85.8h0M55.3 78.8h0M84.8 105.0h0M59.5 105.4h0M83.3 94.7h0M63.7 80.7h0M68.0 102.9h0M85.9 85.1h0M85.5 99.6h0M54.1 98.7h0M80.9 94.0h0M59.1 90.9h0M59.4 81.5h0M59.0 84.2h0M85.3 88.5h0M63.4 84.9h0M74.1 80.3h0"/><path stroke="#04ad38" stroke-opacity="0.52" d="M85.2 89.8h0M87.0 95.0h0M76.1 86.1h0M52.3 97.9h0M92.9 88.0h0M58.1 100.9h0M94.6 99.7h0M80.4 83.5h0M79.7 110.6h0M78.0 88.0h0M57.2 101.1h0M62.8 103.7h0M76.7 90.1h0M94.7 100.5h0M82.0 100.0h0M69.3 97.6h0M63.5 80.6h0M82.0 84.4h0M66.5 99.1h0M60.8 115.9h0M69.6 87.1h0M70.3 91.7h0M89.0 94.8h0M58.2 86.6h0M86.8 84.7h0M71.4 101.5h0M87.2 86.2h0M78.4 89.2h0M81.0 109.0h0M63.2 95.0h0M73.5 75.5h0M63.0 79.5h0M76.3 86.8h0M73.0 91.3h0M66.0 100.0h0M63.1 107.0h0M58.8 85.8h0M80.9 84.0h0M61.4 106.4h0M75.4 86.0h0M91.5 96.3h0M81.1 109.0h0M51.8 94.4h0M64.3 94.0h0M67.6 106.6h0M83.5 89.1h0M57.4 90.9h0M89.2 104.5h0M77.6 85.0h0"/><path stroke="#9f9f9f" stroke-opacity="0.52" d="M72.3 104.5h0M88.2 103.2h0M62.8 93.3h0M64.4 86.1h0M86.1 101.4h0M86.4 85.2h0M96.1 89.3h0M91.9 91.9h0M79.8 72.2h0M66.4 94.5h0M85.1 105.8h0M72.1 73.2h0M65.2 85.8h0M69.6 88.4h0M68.0 108.4h0M77.1 84.9h0M62.8 95.7h0M54.7 100.7h0M58.9 101.6h0M56.1 100.8h0M76.0 101.8h0M82.6 104.5h0"/><path stroke="#ff6b00" stroke-opacity="0.52" d="M82.1 104.4h0M63.2 91.2h0M52.5 93.2h0M72.8 95.6h0M72.5 98.2h0M82.8 94.1h0M76.2 110.9h0M93.1 103.2h0M70.7 93.7h0M85.3 101.5h0M77.8 105.0h0M57.6 104.4h0M67.1 79.8h0M60.8 92.1h0M80.8 105.4h0M75.3 80.5h0M80.9 99.3h0M61.0 88.8h0M91.1 99.6h0M70.8 83.9h0M62.4 87.7h0M72.2 102.8h0M85.9 98.6h0M85.5 93.1h0M78.3 101.6h0M87.2 102.8h0M83.0 109.4h0M82.0 101.7h0M79.3 102.1h0M84.4 105.3h0M70.5 88.2h0M60.2 110.3h0M79.7 105.7h0M59.1 101.0h0M79.8 83.4h0M87.7 86.2h0M81.0 100.7h0M89.2 86.9h0M67.5 88.8h0M79.5 92.2h0M78.3 93.4h0M53.8 104.2h0M88.4 84.0h0M90.7 80.2h0M59.7 103.4h0M84.6 94.8h0M65.1 82.4h0M70.9 95.5h0M90.7 107.4h0M75.7 100.5h0M69.1 104.1h0M88.0 101.3h0M59.0 109.5h0M79.2 106.4h0M61.2 84.3h0M63.6 79.5h0M85.8 103.2h0M63.2 92.7h0M77.4 95.3h0M58.1 104.7h0M94.2 90.5h0M73.3 92.2h0"/><path stroke="#44a7e3" stroke-opacity="0.52" d="M86.5 97.8h0M87.4 84.1h0M72.4 75.8h0M59.4 92.9h0M89.7 101.1h0M61.4 97.6h0M57.8 84.6h0M65.2 77.2h0M61.7 92.0h0M59.4 83.7h0M62.7 96.8h0M53.6 94.8h0M62.3 76.5h0M55.6 94.5h0M90.9 91.2h0M60.9 79.8h0M80.4 97.2h0M100.8 76.7h0M92.2 97.5h0M58.9 83.0h0M61.1 97.9h0M84.3 86.1h0M81.2 106.4h0M71.1 76.7h0M80.3 73.8h0M83.9 86.7h0M60.0 94.9h0M74.2 82.2h0M50.5 93.0h0M65.0 105.2h0M101.1 81.2h0M81.6 70.1h0M80.0 74.1h0M91.8 105.9h0M66.3 104.5h0M89.7 92.7h0M77.2 95.9h0M62.0 84.4h0M72.9 93.0h0M65.4 107.5h0M79.4 82.0h0M79.5 99.0h0M87.7 88.6h0M67.9 105.1h0M83.7 87.8h0M70.8 91.3h0M64.2 93.3h0M62.9 77.5h0M65.2 107.4h0M77.7 80.2h0M80.2 111.8h0M72.4 86.4h0M61.2 102.1h0M74.3 105.7h0M67.3 86.8h0M76.8 77.1h0M78.7 71.0h0M77.6 94.9h0M86.3 106.9h0M65.8 84.1h0M73.2 86.3h0M58.4 103.3h0M69.2 107.6h0M75.7 102.8h0M85.4 108.1h0M85.8 99.9h0M58.4 72.0h0M85.6 88.8h0M59.1 85.5h0M67.9 83.8h0M99.8 74.7h0M83.9 87.6h0M63.3 88.8h0M85.0 113.8h0M66.8 78.0h0M85.7 86.9h0M53.3 93.8h0M69.9 77.9h0M62.8 91.8h0M69.2 109.1h0M93.3 96.6h0M93.7 89.5h0M57.3 107.9h0M80.2 97.5h0M77.0 93.6h0M70.9 84.4h0"/><path stroke="#e6e6e6" stroke-opacity="0.52" d="M61.2 93.3h0M76.6 91.0h0M82.8 92.5h0M75.6 109.7h0M88.7 87.4h0M81.9 85.5h0M78.9 75.6h0M73.3 95.6h0M71.9 85.2h0M87.4 87.2h0M70.6 101.0h0M57.7 99.5h0M89.9 90.2h0M77.2 107.2h0M71.6 73.9h0M60.4 87.0h0"/><path stroke="#ff9031" stroke-opacity="0.52" d="M55.9 74.9h0M82.8 77.2h0M59.2 100.8h0M70.5 105.5h0M63.0 88.0h0M63.3 108.8h0M75.0 99.8h0M88.0 98.3h0M92.5 109.8h0M56.6 82.3h0M85.2 93.7h0M70.9 91.8h0M63.9 102.5h0M60.9 82.0h0M69.6 72.9h0M61.8 94.2h0M67.6 86.0h0M67.3 85.3h0M63.2 97.3h0M58.6 80.9h0M64.8 81.1h0M58.8 102.5h0M85.0 92.6h0M61.5 104.0h0M57.6 89.6h0M75.3 93.2h0M72.7 70.4h0M66.9 98.8h0M89.4 93.4h0M85.0 102.8h0M78.2 90.7h0M74.3 102.2h0M62.5 93.4h0M82.5 101.3h0M68.4 83.2h0M59.5 94.2h0M74.1 89.7h0M62.0 103.4h0M86.9 97.0h0M74.9 104.7h0M60.1 87.8h0M73.8 87.4h0M87.4 89.2h0M80.7 105.1h0M56.2 94.5h0M85.2 89.5h0M69.2 76.1h0M64.5 87.6h0M76.2 104.1h0M55.8 90.2h0M87.8 109.3h0"/><path stroke="#f45100" stroke-opacity="0.52" d="M70.9 98.5h0M90.3 96.1h0M78.7 83.5h0M82.4 78.6h0M70.4 81.2h0M59.7 84.7h0M52.5 107.5h0M59.6 91.6h0M55.2 94.4h0M88.5 97.8h0M52.3 98.1h0M96.7 98.9h0M62.9 84.3h0M67.1 90.8h0M92.2 99.6h0M89.4 89.7h0M87.3 100.5h0M53.4 81.0h0M63.0 88.7h0M72.0 82.7h0M62.7 110.5h0M66.4 103.8h0M81.3 73.5h0M58.1 100.0h0M69.5 96.0h0M89.1 72.7h0M58.5 78.6h0M85.1 101.4h0M75.9 107.6h0M64.7 94.3h0M62.8 97.2h0M51.9 94.2h0M93.1 107.8h0M65.0 88.0h0M90.3 103.2h0M82.6 111.6h0M88.4 104.5h0M56.9 106.9h0M56.8 110.1h0M105.6 89.6h0M58.1 94.7h0M66.1 105.3h0M66.8 80.1h0M65.4 81.3h0M69.6 89.4h0M82.2 89.6h0M67.7 80.4h0M92.4 73.7h0M92.1 100.0h0M68.5 95.6h0M82.1 95.6h0M62.8 90.7h0M73.9 97.3h0M77.3 77.0h0M69.8 94.2h0M85.5 90.7h0M59.8 99.8h0M90.7 88.5h0"/><path stroke="#babbe9" stroke-opacity="0.52" d="M60.8 80.4h0M91.0 105.9h0M62.3 100.6h0M65.2 86.5h0M89.0 107.3h0M88.3 95.9h0M79.6 86.4h0M86.1 101.5h0M91.3 107.2h0M73.7 81.2h0M79.5 91.6h0M89.1 93.3h0M85.5 96.4h0M85.6 91.2h0M57.9 99.2h0M59.9 100.3h0M83.8 85.0h0M91.7 88.9h0M84.6 77.1h0M63.4 80.0h0M54.0 111.4h0M80.2 103.1h0M81.7 107.8h0M63.7 88.8h0M88.8 92.0h0M72.6 83.8h0M65.2 102.0h0M56.2 104.5h0M80.9 94.3h0M60.6 86.0h0M86.4 105.5h0M59.0 88.4h0M82.9 70.4h0M86.5 99.0h0M92.7 80.1h0M73.8 101.2h0M63.6 98.3h0"/><path stroke="#0074c8" stroke-opacity="0.71" d="M81.5 96.2h0M61.6 88.4h0M50.7 108.3h0M90.1 90.5h0M65.7 74.5h0M84.9 100.0h0M82.4 103.9h0M62.7 75.7h0M60.8 82.7h0M78.7 94.3h0M70.4 103.6h0M84.9 108.7h0M60.2 105.2h0M65.6 103.3h0M85.1 87.8h0M74.7 112.1h0M74.4 89.9h0M82.5 85.7h0M77.6 87.6h0M55.8 107.0h0M73.2 104.6h0M90.6 99.0h0M69.8 91.7h0M105.7 103.3h0M85.8 94.8h0M51.4 109.8h0M65.2 95.8h0M62.2 108.2h0M97.2 87.9h0M58.3 89.1h0M81.5 105.3h0M69.9 83.0h0M60.9 83.8h0M85.1 104.5h0M55.2 81.9h0M51.5 80.8h0M84.9 80.9h0M75.7 91.9h0M85.7 108.6h0M64.7 85.1h0M91.1 83.6h0M71.1 90.1h0M61.2 87.0h0M87.9 75.7h0M56.1 102.1h0M63.8 92.4h0M79.7 83.4h0M75.0 90.5h0M79.8 80.0h0M82.4 96.6h0M85.5 94.9h0M60.8 85.3h0M64.1 108.5h0M68.7 88.3h0M65.5 97.6h0M64.6 93.3h0M53.3 90.7h0M79.5 85.2h0M84.0 72.9h0M63.7 79.3h0M62.0 104.1h0M56.6 99.8h0M58.7 96.6h0M61.5 87.6h0M69.7 90.5h0M57.5 92.7h0M69.6 70.3h0M67.6 91.1h0M66.9 87.4h0M83.3 91.5h0M65.1 110.9h0M61.7 88.0h0M58.5 90.4h0M59.7 108.3h0M78.3 97.0h0M59.4 82.3h0M70.5 98.6h0M79.0 92.8h0M58.8 92.1h0M77.5 112.2h0M74.6 104.6h0"/><path stroke="#6354bc" stroke-opacity="0.71" d="M86.9 87.5h0M71.0 96.4h0M79.9 87.4h0M66.9 83.9h0M81.9 84.1h0M55.2 90.5h0M64.2 82.0h0M60.6 75.7h0M81.1 112.1h0M60.2 81.6h0M57.0 84.8h0M62.2 85.2h0M91.3 84.8h0M64.7 85.9h0M77.4 106.9h0M96.3 102.2h0M65.5 104.5h0M99.2 90.3h0M89.5 102.1h0M73.8 105.9h0M57.7 107.5h0M81.5 90.3h0M64.9 100.9h0M75.7 103.2h0M88.2 76.5h0M84.0 100.4h0M69.4 90.6h0M82.1 76.3h0M65.8 103.2h0M90.1 87.8h0M60.2 86.6h0M68.4 106.3h0M77.6 94.6h0M81.3 86.4h0M60.0 101.6h0M62.0 80.7h0M71.9 86.5h0M69.5 94.5h0M64.9 94.9h0"/><path stroke="#da4ac1" stroke-opacity="0.71" d="M88.8 111.4h0M70.9 76.9h0M62.7 88.1h0M57.2 99.8h0M86.4 102.8h0M61.7 83.6h0M69.0 84.2h0M58.0 98.9h0M86.0 96.8h0M76.1 97.8h0M55.7 85.9h0M74.5 74.2h0M85.6 96.9h0M70.0 84.0h0M59.8 84.8h0M62.1 80.8h0"/><path stroke="#ff6b00" stroke-opacity="0.71" d="M68.5 86.5h0M64.5 81.2h0M58.0 93.3h0M61.7 83.6h0M59.8 103.6h0M51.6 77.8h0M72.2 82.9h0M62.3 97.8h0M65.6 92.3h0M80.0 99.7h0M76.2 101.9h0M72.9 85.0h0M63.8 98.1h0M58.6 85.1h0M75.5 100.6h0M77.9 89.8h0M80.3 100.8h0M60.5 104.2h0M86.3 108.1h0M64.4 94.8h0M80.1 99.6h0M85.8 82.1h0M60.5 92.3h0M61.8 92.6h0M59.5 100.7h0M53.6 85.7h0M89.1 96.8h0M75.9 108.8h0M82.9 96.9h0M101.1 107.0h0M54.0 84.1h0M56.9 103.0h0M55.9 89.5h0M89.4 93.4h0M66.6 87.6h0M52.8 82.0h0M74.4 76.3h0M70.1 96.7h0M93.5 100.0h0M65.5 80.7h0M61.4 101.8h0M71.0 97.8h0M73.9 93.5h0M62.6 95.9h0M101.7 89.1h0M80.1 90.5h0M77.1 107.9h0M107.9 93.0h0M83.7 81.9h0M74.9 84.0h0M85.5 90.5h0M60.8 94.4h0M63.9 99.4h0M80.1 99.4h0M85.2 87.6h0M89.9 101.4h0M59.4 88.6h0M87.9 93.1h0M80.6 95.0h0M56.5 95.8h0M90.5 85.8h0M82.6 82.8h0"/><path stroke="#59d05c" stroke-opacity="0.71" d="M65.9 91.2h0M88.6 82.4h0M66.4 87.7h0M74.8 85.8h0M65.2 102.5h0M62.0 112.4h0M73.3 90.3h0M56.7 99.9h0M86.6 105.7h0M78.1 91.5h0M74.9 111.3h0M62.6 104.1h0M66.7 95.3h0M77.0 107.8h0M80.4 89.2h0M87.7 95.9h0M66.4 85.6h0M81.6 89.7h0M77.2 90.2h0M97.6 103.9h0M68.2 78.6h0M64.7 86.6h0M97.3 86.0h0M80.1 84.8h0M81.6 82.3h0M57.9 77.1h0M78.8 100.6h0M76.3 112.5h0M83.1 81.8h0M59.4 91.5h0M64.0 90.1h0M91.5 99.5h0M82.9 101.2h0M57.2 101.0h0M89.6 95.6h0M63.8 111.8h0M62.1 88.7h0M83.3 105.3h0M61.5 78.8h0M71.8 82.6h0M86.2 108.2h0M67.4 83.9h0M80.0 87.6h0"/><path stroke="#04ad38" stroke-opacity="0.71" d="M59.0 91.6h0M82.7 94.8h0M70.2 102.2h0M65.0 89.6h0M56.2 78.4h0M79.5 80.8h0M66.1 100.9h0M86.1 87.5h0M64.6 87.5h0M61.4 86.1h0M60.6 97.2h0M66.6 83.4h0M87.8 87.3h0M63.4 94.1h0M88.4 104.9h0M60.0 84.2h0M53.5 93.3h0M84.0 80.8h0M83.0 75.7h0M59.1 93.4h0M84.6 96.3h0M86.5 104.5h0M58.6 84.9h0M80.0 86.8h0M79.4 86.3h0M59.9 94.7h0M60.2 73.1h0M87.9 87.4h0M58.9 87.5h0M80.9 87.7h0M57.9 77.5h0M78.6 108.9h0M88.2 100.7h0M61.3 92.9h0M95.3 100.2h0M84.8 87.1h0M81.0 85.8h0M76.9 91.1h0M64.2 86.7h0M80.7 87.1h0M67.8 87.0h0M77.9 90.9h0M89.7 96.6h0M62.1 96.4h0M81.1 108.0h0M54.2 114.1h0M63.5 88.3h0M56.6 84.8h0M90.1 73.8h0"/><path stroke="#f45100" stroke-opacity="0.71" d="M60.4 86.7h0M62.9 91.2h0M59.5 78.2h0M64.0 92.5h0M54.1 97.4h0M80.7 101.4h0M94.3 98.0h0M70.3 100.1h0M88.6 101.5h0M59.1 105.5h0M83.2 109.0h0M92.1 108.8h0M60.7 98.7h0M58.8 103.2h0M71.7 92.2h0M56.8 90.7h0M85.1 102.5h0M62.9 80.6h0M61.4 96.7h0M97.9 104.4h0M79.7 93.5h0M79.1 104.6h0M61.8 87.7h0M63.7 96.3h0M67.6 89.7h0M74.5 97.8h0M85.9 93.9h0M88.2 109.8h0M74.2 105.3h0M66.5 102.7h0M78.2 89.4h0M67.7 79.9h0M87.8 101.1h0M89.4 107.1h0M57.2 88.4h0M69.0 83.6h0M64.3 107.5h0M49.7 91.6h0M59.8 83.2h0M86.9 103.7h0M57.6 89.4h0M71.6 103.3h0M70.6 104.0h0M82.6 93.1h0M76.2 110.9h0M87.0 90.2h0M75.0 100.2h0M75.2 87.6h0M62.9 78.4h0M60.2 106.6h0M69.7 92.7h0M67.3 88.1h0M87.5 82.5h0M80.2 97.5h0M59.0 107.5h0M112.5 92.2h0M83.7 87.0h0M81.1 86.9h0"/><path stroke="#9f9f9f" stroke-opacity="0.71" d="M63.1 90.7h0M56.7 91.9h0M70.8 87.5h0M57.0 99.4h0M80.1 91.3h0M60.4 85.3h0M108.0 105.8h0M88.5 86.1h0M62.7 81.3h0M58.5 91.3h0M66.5 109.1h0M62.4 95.3h0M91.5 98.7h0M70.8 94.8h0M74.5 87.5h0M70.8 104.9h0M59.0 83.7h0M70.8 108.5h0M89.3 87.5h0M65.6 81.7h0M65.6 88.9h0M61.4 111.2h0"/><path stroke="#c5f7ba" stroke-opacity="0.71" d="M59.5 106.8h0M85.5 90.3h0M90.2 99.1h0M59.1 104.6h0M58.4 111.8h0M60.3 92.3h0M64.9 107.0h0M83.5 81.0h0M61.3 78.4h0M89.9 90.3h0M72.3 96.6h0M95.9 81.8h0M55.6 107.1h0M64.6 106.9h0M85.8 82.2h0M77.6 97.8h0M57.6 89.2h0M67.8 84.6h0M57.2 96.2h0M90.4 101.6h0M64.1 96.4h0M71.8 100.0h0M55.4 89.6h0M80.0 109.6h0M71.5 98.9h0M62.5 86.7h0M62.8 72.4h0M60.6 87.1h0M106.5 101.2h0M80.6 94.6h0M91.5 103.6h0M67.5 98.9h0M81.7 93.7h0M52.9 78.3h0M58.4 95.5h0M86.2 104.1h0M93.7 114.2h0"/><path stroke="#af3296" stroke-opacity="0.71" d="M53.1 89.8h0M70.0 90.6h0M55.1 106.5h0M68.1 86.7h0M91.2 84.0h0M75.2 70.1h0M59.6 101.6h0M63.4 98.1h0M84.6 114.8h0M60.4 105.6h0M52.7 80.1h0M85.3 99.2h0M61.0 109.5h0M65.2 104.3h0M78.9 80.7h0M69.0 109.8h0M59.5 85.6h0"/><path stroke="#9690d4" stroke-opacity="0.71" d="M62.6 89.4h0M77.5 72.4h0M61.2 103.5h0M94.3 108.8h0M59.4 80.2h0M52.7 92.4h0M61.2 95.1h0M102.6 103.9h0M78.3 87.4h0M60.8 108.1h0M74.8 92.7h0M52.6 103.9h0M55.9 96.8h0M83.2 92.0h0M74.2 81.5h0M63.6 84.2h0M59.3 98.7h0M57.5 97.0h0M84.7 99.4h0M63.5 79.2h0M62.2 98.9h0M86.9 89.6h0M86.1 102.1h0M63.8 109.9h0M74.7 103.5h0M62.7 103.9h0M55.3 108.8h0M66.8 92.3h0M89.7 99.0h0M72.9 106.8h0M99.6 105.1h0M78.6 101.9h0M66.4 82.2h0M69.3 88.6h0M97.5 90.7h0M61.2 98.9h0M54.5 84.5h0M54.9 93.7h0M55.7 79.8h0M73.2 88.6h0M82.4 91.6h0"/><path stroke="#babbe9" stroke-opacity="0.71" d="M66.1 92.6h0M67.5 98.5h0M62.4 94.2h0M63.7 108.4h0M64.9 89.4h0M69.2 87.9h0M64.4 96.2h0M54.0 86.4h0M88.9 97.6h0M59.2 91.5h0M84.6 99.8h0M75.7 106.8h0M78.4 84.4h0M89.2 93.9h0M62.6 108.6h0M63.6 87.7h0M63.4 91.2h0M78.7 89.0h0M75.3 100.4h0M62.1 88.3h0M73.2 106.2h0M82.0 95.3h0M84.0 100.5h0M64.2 85.6h0M57.8 97.0h0M93.3 84.4h0M86.3 82.6h0M86.5 88.5h0M57.3 86.0h0M81.0 86.8h0M60.3 106.8h0M60.7 94.2h0M59.3 97.3h0M89.2 87.9h0M60.4 77.7h0M58.4 113.1h0"/><path stroke="#ff9031" stroke-opacity="0.71" d="M53.3 101.1h0M66.9 106.3h0M64.3 105.8h0M54.9 81.9h0M78.1 88.4h0M86.3 89.1h0M57.1 81.3h0M77.9 106.1h0M61.6 84.8h0M80.8 99.0h0M100.8 84.7h0M64.3 100.9h0M89.8 104.1h0M61.2 90.1h0M81.8 82.3h0M63.7 76.9h0M84.9 90.6h0M59.9 72.9h0M60.9 96.5h0M65.9 99.4h0M68.9 88.9h0M81.5 103.1h0M62.7 81.9h0M75.0 100.7h0M67.0 86.6h0M63.4 73.8h0M49.7 81.6h0M74.6 103.8h0M77.9 71.0h0M52.4 86.9h0M51.8 78.6h0M72.7 88.1h0M87.0 105.2h0M87.1 104.3h0M84.6 102.6h0M80.3 98.7h0M62.5 96.2h0M94.2 95.4h0M63.3 105.9h0M85.3 86.1h0M92.7 116.2h0M70.2 90.2h0M75.3 89.2h0M73.4 86.6h0M64.7 103.0h0M62.2 79.6h0M55.2 99.6h0M88.2 101.2h0M94.6 98.3h0M83.3 82.1h0M64.2 88.1h0"/><path stroke="#e6e6e6" stroke-opacity="0.71" d="M62.0 103.2h0M68.8 82.1h0M86.1 88.2h0M57.2 88.6h0M78.9 91.6h0M79.3 82.7h0M53.6 80.3h0M63.6 93.3h0M77.2 94.1h0M57.4 104.2h0M71.2 79.1h0M79.7 93.4h0M86.5 88.8h0M70.4 84.8h0M83.5 85.9h0M58.4 87.9h0"/><path stroke="#93e68a" stroke-opacity="0.71" d="M66.4 100.0h0M75.2 72.4h0M73.8 85.1h0M77.6 96.8h0M82.0 96.4h0M63.9 103.0h0M82.1 98.0h0M66.1 95.2h0M92.3 90.9h0M66.5 86.6h0M63.4 83.8h0M92.0 103.0h0M67.3 97.9h0M83.1 71.8h0M81.7 86.4h0M60.0 91.9h0M61.1 90.1h0M61.4 83.6h0M77.5 79.1h0M75.6 87.9h0M83.3 103.0h0M80.8 84.0h0M66.8 73.2h0M74.6 102.8h0M71.6 109.5h0M62.1 84.3h0M76.2 91.9h0M81.9 87.5h0M66.8 82.2h0M61.9 107.8h0M93.4 104.0h0M86.7 107.1h0M82.4 115.1h0M55.8 87.8h0M79.3 100.6h0M61.3 92.4h0M59.5 99.3h0M53.8 80.5h0M61.0 84.8h0M89.7 102.2h0M94.1 110.5h0M69.8 95.0h0M64.0 103.2h0M92.0 103.3h0M63.8 86.0h0M62.6 104.5h0"/><path stroke="#c0e0fd" stroke-opacity="0.71" d="M95.1 93.7h0M72.5 108.1h0M86.7 89.2h0M78.9 89.8h0M75.4 90.6h0M79.8 74.7h0M87.6 91.4h0M102.4 97.3h0M82.6 90.5h0M81.6 107.2h0M86.3 91.1h0M79.4 77.4h0M69.1 77.1h0M88.5 110.1h0M85.1 105.2h0M90.8 101.8h0M58.5 99.3h0M95.9 97.3h0M79.4 104.4h0M62.7 86.1h0M65.4 75.7h0M62.1 91.9h0M62.8 93.2h0M82.2 81.1h0M56.5 104.3h0M59.5 104.6h0M67.0 105.0h0M69.1 85.0h0M88.4 85.3h0M75.9 95.7h0M63.2 107.9h0M58.5 91.5h0M85.1 98.2h0M95.1 102.1h0M55.0 98.3h0M79.3 91.4h0M94.1 108.5h0M85.3 105.9h0M62.5 74.6h0M73.4 83.3h0M100.0 108.3h0M98.3 73.5h0M62.8 83.7h0M51.1 86.1h0M74.1 94.7h0M69.2 97.5h0M74.8 85.7h0M64.0 94.1h0M75.9 99.9h0M66.5 83.4h0M76.2 81.7h0M61.7 93.5h0M86.5 97.8h0M97.8 100.3h0"/><path stroke="#ffc07f" stroke-opacity="0.71" d="M63.5 83.0h0M68.2 92.0h0M78.4 84.6h0M56.3 105.4h0M59.7 87.4h0M62.9 97.6h0M67.5 89.0h0M53.4 91.2h0M81.8 87.4h0M62.0 101.8h0M84.4 82.6h0M55.6 97.4h0M86.7 101.7h0M66.1 87.6h0M68.2 95.0h0M65.0 87.7h0M83.4 107.5h0M56.3 89.9h0M83.5 92.8h0M91.7 106.5h0M80.8 83.7h0M80.1 91.1h0M59.2 89.5h0M85.0 97.5h0M69.8 79.5h0M59.0 97.0h0M83.1 94.7h0M76.4 90.1h0M87.2 85.3h0M64.2 94.1h0M50.1 102.6h0M88.5 112.1h0M81.0 94.5h0M77.4 87.4h0M95.9 94.3h0M78.2 114.3h0M72.7 105.7h0M62.7 93.3h0M92.1 86.2h0M57.6 86.3h0M54.4 86.2h0M59.4 102.0h0M73.9 93.8h0M60.7 90.2h0M60.0 93.5h0M61.4 88.7h0M75.2 97.6h0M88.9 104.2h0M74.7 87.5h0M55.6 85.7h0"/><path stroke="#44a7e3" stroke-opacity="0.71" d="M66.8 80.0h0M83.0 106.9h0M75.4 91.4h0M75.9 91.3h0M93.7 86.5h0M58.8 86.0h0M61.1 86.8h0M81.6 87.2h0M97.8 78.2h0M81.5 72.8h0M84.7 83.9h0M83.3 72.7h0M83.5 95.0h0M64.3 77.0h0M81.2 86.8h0M77.9 103.2h0M60.1 74.8h0M59.2 89.8h0M66.1 91.2h0M85.6 101.3h0M58.9 111.3h0M77.4 88.2h0M72.3 80.2h0M75.0 88.9h0M64.7 87.1h0M87.5 84.0h0M78.0 88.3h0M63.1 99.3h0M64.0 80.1h0M79.1 97.7h0M78.3 113.5h0M57.6 73.3h0M59.4 96.6h0M81.9 89.2h0M55.9 106.5h0M90.5 95.8h0M64.2 101.9h0M65.9 81.3h0M85.0 106.9h0M83.5 84.7h0M85.9 106.2h0M60.4 101.1h0M79.9 93.3h0M59.4 85.0h0M83.0 84.9h0M56.7 105.3h0M64.5 88.1h0M79.7 76.9h0M74.0 95.1h0M68.3 84.9h0M55.2 95.0h0M52.4 103.1h0M69.4 77.0h0M76.8 80.7h0M98.1 104.2h0M67.2 93.3h0M86.3 86.6h0M78.3 81.3h0M85.3 70.8h0M77.8 81.4h0M63.2 86.9h0M62.6 102.1h0M92.9 93.3h0M55.9 96.1h0M63.9 97.4h0M70.3 91.0h0M58.8 98.2h0M79.6 87.7h0M77.1 95.8h0M87.2 109.9h0M69.2 101.6h0M64.5 99.1h0M72.2 85.1h0M99.0 95.2h0M63.9 87.6h0M60.0 90.0h0M80.1 92.4h0M57.5 99.9h0M57.2 80.8h0M56.3 89.7h0M61.8 102.2h0M91.5 83.8h0M56.0 90.9h0M96.1 102.4h0M88.0 73.5h0"/><path stroke="#696969" stroke-opacity="0.71" d="M77.3 69.1h0M90.4 110.8h0M89.1 106.8h0M87.6 83.5h0M85.7 106.9h0M62.9 93.0h0M63.5 90.4h0M54.0 107.0h0M64.4 109.6h0M82.1 96.1h0M92.9 88.4h0M67.3 84.8h0M56.9 88.4h0M80.6 82.4h0M66.7 102.5h0M57.6 83.0h0M91.8 102.3h0M69.9 89.6h0M70.7 89.4h0M54.0 107.3h0M61.7 105.0h0M83.1 102.3h0M79.1 95.8h0M51.0 80.8h0M68.0 101.4h0M72.6 93.2h0M54.8 96.9h0M87.1 94.2h0"/><path stroke="#8bccee" stroke-opacity="0.71" d="M91.0 97.0h0M70.3 92.0h0M64.8 98.0h0M63.1 97.5h0M71.4 88.8h0M81.5 95.3h0M83.9 94.1h0M61.5 97.6h0M61.2 79.7h0M73.2 88.7h0M68.7 86.8h0M79.8 90.2h0M65.6 99.8h0M83.1 97.7h0M75.5 106.7h0M77.9 89.1h0M94.6 96.3h0M75.0 96.4h0M68.4 94.5h0M81.7 94.1h0M89.8 108.1h0M77.9 112.3h0M84.8 95.1h0M56.9 78.6h0M66.6 85.0h0M55.0 87.8h0M61.2 73.3h0M86.3 100.6h0M61.4 78.0h0M57.9 93.7h0M88.6 96.5h0M86.9 94.9h0M61.1 93.5h0M83.5 89.5h0M62.6 91.1h0M61.2 81.2h0M95.5 99.0h0M62.9 82.5h0M90.8 98.9h0M82.9 101.6h0M82.1 90.2h0M83.6 90.3h0M80.0 90.8h0M64.9 92.4h0M75.6 95.5h0M78.1 106.3h0M60.7 103.1h0M64.0 114.0h0M58.8 92.6h0M79.3 104.6h0M72.9 69.0h0M63.1 101.8h0M65.5 99.3h0M80.6 93.5h0M55.2 101.9h0"/><path stroke="#e0e0f9" stroke-opacity="0.71" d="M106.9 84.7h0M69.8 98.8h0M83.1 72.8h0M99.2 97.1h0M68.6 93.5h0M77.7 102.1h0M59.6 86.0h0M80.4 85.6h0M96.2 82.0h0M55.8 93.5h0M79.0 83.8h0M65.4 92.5h0M53.6 97.7h0M66.9 85.0h0M59.4 92.0h0M57.9 81.2h0M92.4 88.3h0M56.1 86.9h0M84.4 95.8h0M89.6 100.7h0M56.5 84.2h0M55.0 98.5h0M70.7 109.9h0M56.4 76.8h0M92.8 89.6h0M67.9 92.1h0"/><path stroke="#c8c8c8" stroke-opacity="0.71" d="M62.7 93.9h0M54.6 101.5h0M83.1 94.1h0M64.7 92.6h0M61.3 77.1h0M56.9 105.2h0M83.7 82.0h0M60.5 100.9h0M91.8 109.0h0M64.4 98.3h0M78.4 99.5h0M80.3 106.2h0M86.4 85.9h0M90.1 94.9h0M80.8 90.6h0M85.6 106.2h0M82.7 104.9h0M77.8 71.0h0M93.4 89.9h0"/></g>
<g stroke-width="2.60" stroke-linecap="round"><path stroke="#ffc07f" stroke-opacity="0.33" d="M235.1 116.5h0M232.8 120.6h0M260.6 109.0h0M253.9 110.5h0M254.3 119.9h0M239.2 116.9h0M269.6 119.0h0M250.4 119.1h0M269.2 113.5h0M246.2 116.5h0M233.0 122.1h0M234.2 120.6h0M251.1 99.0h0M238.6 115.9h0M255.8 110.5h0M265.2 116.1h0M253.6 121.9h0M237.0 114.7h0M234.3 119.3h0M270.7 112.2h0M261.7 118.5h0M260.8 86.1h0M260.2 116.8h0M246.2 121.9h0M279.1 112.7h0M247.4 103.2h0M257.0 115.0h0"/><path stroke="#e6e6e6" stroke-opacity="0.33" d="M247.9 117.7h0M262.0 85.5h0M268.7 116.7h0M262.4 119.5h0M235.4 120.3h0M242.6 121.7h0M282.7 105.1h0M252.1 96.7h0M237.2 117.5h0M251.8 109.4h0M269.8 114.0h0"/><path stroke="#ff6b00" stroke-opacity="0.33" d="M249.1 100.7h0M258.8 108.7h0M237.6 113.9h0M267.2 103.9h0M245.1 109.7h0M232.1 121.1h0M264.1 122.4h0M270.9 117.6h0M256.9 117.1h0M231.4 122.6h0M270.6 107.9h0M240.6 115.8h0M256.1 111.9h0M244.9 112.5h0M265.5 116.9h0M239.2 116.5h0M258.3 106.2h0M259.6 107.2h0M239.1 117.5h0M240.4 118.9h0M245.0 116.8h0M246.5 103.4h0M267.9 111.0h0M260.7 109.4h0M265.5 111.8h0M269.4 112.4h0M270.7 107.0h0M233.6 119.6h0M266.4 114.9h0M242.6 116.8h0"/><path stroke="#9690d4" stroke-opacity="0.33" d="M270.3 107.6h0M264.0 118.3h0M258.3 105.7h0M247.7 111.9h0M265.9 112.7h0M235.7 121.1h0M237.4 122.1h0M255.9 116.3h0M253.2 119.3h0M274.9 115.6h0M251.0 114.0h0M234.3 117.9h0M246.1 112.2h0M260.8 114.7h0M276.6 112.9h0M243.4 117.7h0"/><path stroke="#c0e0fd" stroke-opacity="0.33" d="M237.3 117.7h0M245.7 105.3h0M242.0 120.3h0M254.0 107.6h0M248.2 118.1h0M261.9 109.9h0M241.7 111.3h0M263.0 83.6h0M267.0 116.3h0M236.0 115.2h0M281.0 124.1h0M231.8 119.9h0M293.9 104.6h0M234.3 117.1h0M285.2 109.1h0M269.9 116.9h0M249.8 112.5h0M234.7 120.7h0M248.3 112.9h0M251.7 97.9h0M237.9 117.3h0M274.2 113.8h0M265.6 120.0h0M251.0 110.1h0M231.1 122.0h0M246.7 117.3h0M267.7 120.1h0M234.0 118.6h0M251.9 117.5h0M245.4 115.0h0M254.0 110.0h0M281.9 107.2h0M263.7 114.7h0M260.5 118.2h0M243.1 110.1h0"/><path stroke="#93e68a" stroke-opacity="0.33" d="M251.3 120.8h0M250.4 99.1h0M247.0 102.8h0M259.1 118.6h0M261.7 118.2h0M270.5 108.5h0M234.3 117.0h0M244.8 114.2h0M269.4 111.1h0M257.6 113.6h0M234.1 122.9h0M253.8 112.7h0M261.2 106.0h0M256.0 92.5h0M262.9 119.3h0M232.0 120.8h0M269.7 113.3h0M253.6 117.8h0M274.0 109.0h0M248.0 122.8h0M231.7 122.0h0M264.5 113.6h0M256.6 91.8h0M256.2 107.6h0M245.8 104.1h0M239.8 116.2h0M244.4 122.6h0M240.3 116.6h0M267.5 114.7h0M232.2 122.3h0"/><path stroke="#0074c8" stroke-opacity="0.33" d="M240.0 122.2h0M255.1 94.3h0M253.3 114.9h0M250.3 111.6h0M236.1 121.5h0M270.9 111.7h0M250.5 112.0h0M262.7 108.0h0M267.7 112.7h0M232.9 120.2h0M255.4 120.9h0M232.6 121.5h0M266.4 110.0h0M231.4 121.4h0M245.6 110.0h0M234.5 120.7h0M276.6 114.6h0M245.5 115.0h0M260.3 110.1h0M237.5 120.5h0M264.5 120.4h0M268.1 108.4h0M236.6 121.5h0M257.2 112.1h0M283.9 105.3h0M258.7 111.4h0M251.6 98.1h0M244.2 117.3h0M243.9 118.8h0M255.4 118.7h0M241.5 119.3h0M255.9 106.9h0M239.6 119.5h0M242.4 118.8h0M252.4 96.5h0M254.8 109.8h0"/><path stroke="#f45100" stroke-opacity="0.33" d="M263.9 107.6h0M231.7 122.0h0M233.2 120.7h0M273.1 112.9h0M235.8 118.0h0M269.8 107.0h0M232.0 121.8h0M246.5 121.4h0M265.3 118.9h0M270.4 115.0h0M246.9 114.8h0M256.3 109.1h0M262.5 117.5h0M253.6 121.5h0M247.2 110.0h0M266.5 111.1h0M268.1 109.9h0M242.4 109.7h0M252.7 108.1h0M264.3 109.6h0M237.9 115.8h0M263.5 106.0h0M236.3 117.8h0M251.9 97.7h0M244.5 117.5h0M275.1 114.8h0M249.2 121.7h0M259.8 111.7h0M246.9 118.3h0M240.8 122.8h0"/><path stroke="#04ad38" stroke-opacity="0.33" d="M255.0 107.1h0M297.4 108.5h0M266.1 118.0h0M263.3 117.8h0M241.1 122.4h0M250.2 115.6h0M278.8 111.5h0M256.7 108.1h0M248.5 100.7h0M282.1 106.8h0M240.3 120.4h0M261.5 85.7h0M255.9 119.0h0M257.3 91.0h0M233.1 121.5h0M259.5 88.0h0M248.0 120.3h0M241.2 114.9h0M251.7 109.2h0M268.8 112.7h0M249.4 113.5h0M231.8 120.3h0M250.7 116.1h0M262.4 84.3h0M274.3 106.1h0M252.1 97.4h0"/><path stroke="#c8c8c8" stroke-opacity="0.33" d="M273.7 115.4h0M238.6 120.4h0M268.3 110.8h0M258.4 110.4h0M249.9 100.4h0M240.7 116.0h0M255.7 93.3h0M235.3 120.0h0M263.1 121.5h0M297.1 106.3h0M252.4 117.0h0M261.3 117.5h0M271.6 110.7h0M239.9 115.9h0M232.2 120.9h0"/><path stroke="#8bccee" stroke-opacity="0.33" d="M260.6 114.9h0M231.2 122.0h0M243.4 120.8h0M231.6 120.8h0M251.4 113.6h0M257.2 107.5h0M234.5 117.5h0M231.8 121.1h0M258.2 109.9h0M257.5 117.6h0M262.7 115.3h0M258.6 116.0h0M260.0 112.3h0M231.6 121.8h0M289.3 110.3h0M248.3 100.6h0M248.0 114.5h0M259.6 115.4h0M255.0 93.8h0M244.1 119.9h0M264.4 108.3h0M268.8 111.6h0M264.3 119.4h0M262.4 111.1h0M249.9 119.2h0M245.3 114.0h0M265.4 117.4h0M241.7 121.5h0M268.8 108.7h0M231.4 121.5h0M232.0 121.5h0M231.6 121.2h0M236.8 120.0h0"/><path stroke="#59d05c" stroke-opacity="0.33" d="M282.5 109.8h0M233.1 122.3h0M266.7 106.8h0M247.4 103.7h0M232.7 120.9h0M256.6 107.1h0M255.1 117.8h0M233.6 118.9h0M235.6 116.4h0M266.8 109.0h0M248.4 116.6h0M233.2 119.0h0M238.0 115.8h0M261.0 110.6h0M245.7 122.6h0M247.5 102.6h0M244.4 122.3h0M245.4 116.8h0M256.7 108.8h0M256.1 109.8h0M259.7 110.9h0M232.6 121.2h0M236.8 117.3h0M244.0 109.7h0M235.7 121.5h0M259.1 116.5h0"/><path stroke="#da4ac1" stroke-opacity="0.33" d="M249.0 120.1h0M253.2 114.2h0M266.6 120.1h0M257.7 108.1h0M261.8 85.3h0M255.8 117.8h0M251.7 121.0h0M234.5 118.4h0M267.0 107.6h0M257.1 106.2h0M230.3 121.5h0M265.9 109.1h0"/><path stroke="#9f9f9f" stroke-opacity="0.33" d="M250.8 118.3h0M238.9 112.2h0M260.3 107.0h0M267.1 112.9h0M263.5 106.2h0M247.4 113.6h0M250.5 120.3h0M239.0 114.7h0M261.3 106.3h0M252.0 113.0h0M254.7 109.2h0M249.0 101.3h0M269.0 115.3h0M251.3 111.7h0M252.3 113.8h0M274.3 112.9h0"/><path stroke="#af3296" stroke-opacity="0.33" d="M264.8 110.2h0M243.9 115.9h0M255.9 92.5h0M239.5 114.1h0M258.8 105.3h0M247.8 114.9h0M261.7 114.8h0M251.0 107.1h0"/><path stroke="#6354bc" stroke-opacity="0.33" d="M233.7 122.4h0M272.3 105.4h0M267.9 113.4h0M245.9 120.6h0M264.0 118.8h0M238.7 121.3h0M231.5 122.0h0M257.4 110.0h0M234.7 117.8h0M251.8 115.7h0M263.1 84.0h0M271.8 111.3h0M236.2 119.1h0M259.8 120.9h0M262.5 112.7h0M265.1 106.1h0M256.1 113.0h0M232.8 119.6h0M256.0 119.4h0M256.8 121.4h0M253.7 120.4h0M270.4 110.0h0M252.3 109.0h0"/><path stroke="#e0e0f9" stroke-opacity="0.33" d="M240.2 119.7h0M237.6 119.2h0M263.2 107.9h0M263.3 83.8h0M244.8 116.2h0M248.8 110.7h0M258.5 106.9h0M263.2 117.6h0M253.1 111.9h0M263.3 106.7h0M237.5 120.7h0M248.3 110.7h0M250.7 98.1h0M242.4 109.9h0M281.7 110.9h0M240.0 116.8h0M243.4 119.6h0"/><path stroke="#696969" stroke-opacity="0.33" d="M238.5 117.8h0M265.6 109.8h0M273.7 106.7h0M252.4 97.1h0M254.0 95.5h0M242.6 113.5h0M262.3 84.6h0M268.8 116.8h0M242.0 122.7h0M237.1 120.0h0M231.3 121.3h0M266.2 111.7h0M251.6 121.8h0M260.8 112.1h0M232.4 118.7h0M265.0 105.2h0M243.5 112.2h0M276.4 126.2h0M256.3 113.7h0M252.7 115.5h0"/><path stroke="#44a7e3" stroke-opacity="0.33" d="M232.0 120.4h0M247.7 122.7h0M241.4 111.1h0M266.1 117.1h0M233.2 121.6h0M297.2 111.1h0M245.1 123.1h0M260.3 86.8h0M251.1 97.8h0M242.4 117.5h0M259.4 108.5h0M251.6 116.5h0M258.7 117.8h0M255.5 118.2h0M266.7 107.4h0M266.8 116.1h0M249.6 118.6h0M263.2 115.3h0M264.6 118.5h0M260.4 106.5h0M252.3 108.2h0M268.6 117.0h0M263.0 120.4h0M245.7 105.2h0M252.5 110.7h0M252.7 96.5h0M261.8 106.2h0M249.2 114.8h0M248.7 101.7h0M237.2 120.3h0M259.6 107.0h0M239.3 113.6h0M265.9 105.5h0M261.5 113.2h0M232.9 118.6h0M268.5 115.2h0M261.0 106.2h0M257.4 107.5h0M261.2 86.4h0M233.7 118.0h0M264.4 117.6h0M260.0 87.7h0M264.2 112.6h0M264.0 110.9h0M261.0 108.7h0"/><path stroke="#ff9031" stroke-opacity="0.33" d="M236.1 120.6h0M234.1 120.1h0M258.8 121.6h0M267.2 107.7h0M251.1 119.7h0M260.4 114.6h0M253.8 117.4h0M233.8 119.7h0M268.5 119.2h0M269.0 118.4h0M241.9 122.0h0M255.6 120.4h0M290.4 112.2h0M268.1 106.3h0M234.4 119.2h0M242.5 112.0h0M234.3 119.1h0M256.4 92.1h0M231.4 122.2h0"/><path stroke="#babbe9" stroke-opacity="0.33" d="M282.8 108.9h0M250.6 116.8h0M260.3 106.4h0M245.5 114.6h0M261.9 85.1h0M232.1 121.9h0M246.3 110.4h0M237.7 121.5h0M241.1 113.8h0M232.3 120.8h0M241.6 114.5h0M246.6 117.5h0M263.4 113.9h0M238.9 120.5h0M242.8 122.6h0M256.0 110.2h0M260.4 116.7h0M277.1 111.2h0"/><path stroke="#c5f7ba" stroke-opacity="0.33" d="M264.0 112.0h0M258.9 88.8h0M264.0 116.1h0M242.9 121.2h0M262.0 118.2h0M231.3 122.0h0M260.1 87.7h0M242.8 113.7h0M263.2 104.6h0M274.0 105.0h0M261.8 110.7h0M254.6 112.7h0M276.8 117.2h0M252.2 118.5h0M237.8 116.8h0M243.2 112.5h0M267.1 119.8h0M274.8 107.8h0M264.0 116.3h0M268.3 119.2h0M264.7 105.0h0M256.1 92.9h0M273.4 104.4h0M260.0 119.4h0M271.1 113.5h0"/><path stroke="#ff6b00" stroke-opacity="0.52" d="M266.6 110.4h0M233.0 118.6h0M248.5 101.0h0M253.3 120.0h0M242.1 111.3h0M238.0 114.6h0M235.3 117.7h0M255.2 115.7h0M248.3 112.2h0M255.5 107.9h0M291.6 106.0h0M297.2 105.3h0M269.1 107.2h0M239.7 116.6h0M233.0 121.5h0M238.0 121.5h0M248.1 113.5h0M252.2 108.8h0M236.8 122.6h0M231.2 122.0h0M285.4 112.7h0M243.8 122.5h0M231.8 121.3h0M269.8 118.6h0M257.9 119.3h0M280.9 125.3h0M260.2 112.5h0M286.4 111.8h0M244.7 117.0h0M231.4 121.8h0"/><path stroke="#04ad38" stroke-opacity="0.52" d="M258.7 89.1h0M238.8 116.7h0M263.8 108.0h0M253.4 95.2h0M239.8 114.5h0M256.5 106.4h0M232.8 119.5h0M243.8 122.0h0M250.0 117.6h0M257.2 117.2h0M259.6 114.6h0M290.2 103.6h0M269.2 118.7h0M261.0 116.4h0M275.4 112.4h0M236.6 120.1h0M254.9 117.9h0M268.4 115.5h0M254.6 107.6h0M253.5 95.8h0M259.0 114.0h0M239.3 117.2h0M247.2 115.4h0M250.5 119.8h0M257.8 90.7h0M250.3 118.6h0"/><path stroke="#9f9f9f" stroke-opacity="0.52" d="M270.3 117.0h0M267.2 107.2h0M236.2 116.0h0M256.6 91.6h0M243.3 120.2h0M291.5 109.2h0M253.2 95.3h0M261.3 118.1h0M255.8 92.1h0M260.0 119.9h0M230.5 122.8h0M257.5 121.9h0M270.4 119.9h0M263.9 107.5h0M269.3 114.2h0M237.6 121.5h0"/><path stroke="#93e68a" stroke-opacity="0.52" d="M260.2 112.1h0M244.7 111.5h0M241.3 120.9h0M263.4 106.7h0M274.9 108.8h0M237.2 120.5h0M235.5 121.6h0M234.5 118.1h0M248.1 120.1h0M257.9 114.5h0M266.2 105.8h0M252.0 112.3h0M273.6 107.5h0M271.0 111.4h0M262.9 117.4h0M237.2 118.1h0M261.1 86.3h0M276.4 107.3h0M246.9 115.1h0M300.7 106.9h0M248.9 108.2h0M235.3 117.0h0M231.5 122.3h0M260.0 112.2h0M233.5 121.8h0M252.9 117.1h0M254.1 109.4h0M257.3 118.3h0M233.9 119.4h0M232.8 120.9h0"/><path stroke="#e0e0f9" stroke-opacity="0.52" d="M275.2 110.9h0M277.5 108.5h0M260.3 110.0h0M252.5 116.2h0M255.3 111.3h0M243.3 111.5h0M253.4 121.1h0M268.4 111.3h0M255.1 120.9h0M256.2 118.3h0M235.1 120.1h0M249.1 122.5h0M270.3 106.2h0M231.6 120.6h0M246.4 121.2h0M268.1 110.4h0M256.9 111.4h0"/><path stroke="#e6e6e6" stroke-opacity="0.52" d="M267.7 107.2h0M263.5 114.9h0M236.3 116.7h0M248.0 121.9h0M233.2 121.7h0M243.4 115.6h0M249.0 100.7h0M252.3 120.9h0M266.6 107.7h0M258.4 116.8h0M258.5 89.4h0"/><path stroke="#696969" stroke-opacity="0.52" d="M288.7 107.2h0M234.3 120.8h0M284.7 102.4h0M246.7 103.6h0M262.0 105.2h0M264.0 115.9h0M272.1 106.4h0M231.5 121.9h0M252.9 116.6h0M234.7 117.5h0M261.8 116.9h0M240.4 114.7h0M232.3 122.0h0M231.7 120.9h0M255.7 107.2h0M237.0 122.9h0M248.2 112.7h0M264.2 117.0h0M257.2 111.4h0"/><path stroke="#59d05c" stroke-opacity="0.52" d="M233.0 119.8h0M242.0 116.7h0M262.3 84.9h0M237.6 118.9h0M273.5 110.7h0M271.1 110.7h0M250.5 112.9h0M265.7 111.9h0M236.3 121.5h0M261.1 120.8h0M267.2 110.2h0M242.7 111.7h0M277.8 109.5h0M258.4 118.0h0M247.0 115.3h0M270.3 116.0h0M272.4 105.9h0M299.8 110.8h0M268.0 115.3h0M253.9 95.5h0M243.4 118.8h0M268.8 107.8h0M239.0 119.1h0M268.3 117.3h0M259.6 113.3h0"/><path stroke="#af3296" stroke-opacity="0.52" d="M237.6 120.3h0M268.9 119.1h0M231.6 121.1h0M259.1 118.1h0M237.3 113.8h0M239.2 112.3h0M268.5 106.2h0M264.8 119.0h0"/><path stroke="#6354bc" stroke-opacity="0.52" d="M234.7 116.9h0M259.8 108.7h0M239.5 115.7h0M233.9 122.0h0M271.4 104.4h0M240.7 118.0h0M256.3 92.2h0M249.9 109.7h0M260.5 87.0h0M252.8 112.6h0M258.3 120.8h0M267.9 107.0h0M259.7 120.3h0M268.2 125.7h0M238.8 120.6h0M280.1 110.3h0M241.8 118.9h0M242.3 120.3h0M271.6 109.7h0M244.0 119.9h0M253.5 106.0h0M258.3 117.1h0M272.9 108.4h0"/><path stroke="#44a7e3" stroke-opacity="0.52" d="M259.2 120.0h0M270.1 117.3h0M234.0 118.6h0M258.4 89.6h0M259.9 108.3h0M242.4 115.2h0M260.3 108.7h0M268.4 117.4h0M273.3 105.5h0M231.9 121.1h0M234.7 122.8h0M233.7 118.3h0M262.2 115.1h0M233.0 119.0h0M254.1 112.7h0M254.1 94.6h0M263.5 117.8h0M234.4 116.9h0M270.5 107.0h0M269.6 104.8h0M255.5 118.4h0M273.3 111.8h0M300.3 111.9h0M246.2 118.8h0M240.0 118.1h0M262.9 84.1h0M249.3 100.1h0M253.8 116.2h0M249.5 117.8h0M243.2 116.4h0M248.6 107.9h0M249.1 100.6h0M258.4 89.6h0M243.8 112.6h0M234.6 122.2h0M256.1 120.0h0M242.4 116.0h0M251.0 98.7h0M265.1 108.2h0M257.0 116.0h0M260.0 114.7h0M239.8 120.3h0M261.2 117.4h0M275.4 121.0h0M249.6 111.0h0"/><path stroke="#9690d4" stroke-opacity="0.52" d="M265.7 107.5h0M253.2 112.6h0M249.6 112.4h0M260.8 111.0h0M237.4 120.8h0M233.4 120.7h0M252.1 114.5h0M258.7 108.1h0M251.2 115.4h0M263.0 108.9h0M232.6 120.8h0M232.8 118.3h0M249.7 109.0h0M249.8 99.7h0M242.5 118.3h0M262.6 84.9h0"/><path stroke="#ffc07f" stroke-opacity="0.52" d="M255.9 110.6h0M247.5 122.2h0M240.6 111.6h0M263.5 83.4h0M252.9 96.8h0M258.9 89.5h0M265.9 108.9h0M245.2 110.4h0M245.0 110.5h0M250.4 110.7h0M239.6 121.0h0M257.5 118.3h0M262.5 108.6h0M252.1 119.3h0M267.5 114.1h0M248.9 101.9h0M232.5 119.9h0M260.9 112.6h0M263.7 107.3h0M261.3 86.2h0M259.2 110.8h0M246.9 103.6h0M263.5 119.7h0M254.3 111.0h0M254.8 110.3h0M259.2 120.2h0M258.5 112.2h0"/><path stroke="#c0e0fd" stroke-opacity="0.52" d="M262.8 114.4h0M257.9 116.0h0M241.4 120.3h0M245.8 104.4h0M268.6 107.3h0M243.2 116.0h0M277.4 106.7h0M255.1 112.8h0M269.2 108.8h0M231.2 122.3h0M265.4 115.4h0M264.9 115.6h0M231.1 121.5h0M256.1 92.5h0M260.6 86.5h0M258.5 107.3h0M266.9 109.4h0M267.2 111.2h0M237.8 117.5h0M263.5 118.2h0M253.9 119.7h0M272.7 111.2h0M270.9 108.3h0M258.4 112.7h0M249.2 110.5h0M254.0 107.6h0M238.1 118.0h0M240.7 121.7h0M237.8 116.1h0M247.7 108.8h0M253.9 110.9h0M252.3 110.7h0M247.5 111.2h0M241.5 115.5h0M257.7 119.6h0"/><path stroke="#f45100" stroke-opacity="0.52" d="M236.3 116.6h0M243.0 114.2h0M265.4 120.3h0M267.0 112.8h0M243.4 117.9h0M262.9 110.1h0M265.5 119.9h0M257.1 117.5h0M251.7 97.9h0M259.6 109.8h0M263.4 116.5h0M248.5 99.9h0M233.7 118.9h0M275.9 111.0h0M232.1 121.4h0M276.8 116.7h0M235.3 116.0h0M263.8 83.2h0M269.0 104.0h0M253.5 117.1h0M286.9 104.1h0M269.4 116.2h0M262.3 118.9h0M259.4 112.7h0M256.3 118.6h0M262.7 118.9h0M245.8 117.7h0M281.4 122.0h0M260.9 111.7h0M276.4 105.8h0"/><path stroke="#ff9031" stroke-opacity="0.52" d="M255.9 115.1h0M242.7 117.4h0M232.0 122.2h0M258.3 109.6h0M249.7 110.7h0M236.7 115.1h0M230.9 121.9h0M241.4 111.8h0M269.1 117.6h0M258.3 111.8h0M260.8 115.1h0M252.9 95.9h0M245.4 109.7h0M235.2 122.5h0M240.6 116.4h0M231.0 121.1h0M262.3 109.0h0M242.7 113.7h0"/><path stroke="#babbe9" stroke-opacity="0.52" d="M255.5 93.0h0M231.2 122.3h0M270.2 114.8h0M260.0 117.2h0M261.5 108.3h0M234.9 121.3h0M235.7 116.3h0M236.6 113.9h0M232.4 119.7h0M259.6 110.5h0M269.6 114.6h0M263.0 111.5h0M244.4 113.7h0M255.2 112.2h0M241.7 118.6h0M242.1 114.9h0M256.2 118.2h0M252.0 106.8h0"/><path stroke="#da4ac1" stroke-opacity="0.52" d="M242.8 110.4h0M232.9 119.1h0M250.1 110.9h0M259.9 113.6h0M264.7 111.4h0M247.0 119.9h0M260.8 119.5h0M258.2 112.5h0M262.6 115.7h0M275.7 116.5h0M249.5 111.9h0"/><path stroke="#0074c8" stroke-opacity="0.52" d="M247.3 112.4h0M265.4 108.3h0M267.7 112.7h0M237.2 117.1h0M247.2 113.0h0M251.5 119.9h0M269.0 106.9h0M266.6 110.9h0M266.6 118.3h0M258.2 115.9h0M245.1 117.8h0M245.7 115.3h0M261.3 85.6h0M242.9 111.6h0M258.2 112.8h0M235.1 120.2h0M262.2 116.5h0M256.5 91.8h0M263.8 83.2h0M232.2 121.4h0M272.4 117.9h0M275.4 114.9h0M258.9 119.6h0M234.0 120.0h0M236.4 116.9h0M266.5 109.3h0M251.9 107.5h0M275.1 110.4h0M238.5 114.8h0M231.3 122.8h0M251.1 118.4h0M239.9 114.3h0M240.3 117.6h0M239.1 119.6h0M274.3 116.7h0M241.6 112.0h0"/><path stroke="#c5f7ba" stroke-opacity="0.52" d="M262.3 84.8h0M266.0 113.7h0M238.8 121.0h0M251.0 107.3h0M277.9 117.4h0M261.4 116.6h0M262.9 109.3h0M261.3 106.4h0M261.4 108.4h0M237.5 116.1h0M235.0 122.8h0M260.5 117.4h0M231.9 122.0h0M248.3 116.2h0M240.2 115.5h0M248.0 119.9h0M254.9 114.2h0M268.8 104.3h0M249.2 116.3h0M275.9 107.0h0M234.3 121.0h0M261.9 110.3h0M277.8 112.6h0M256.0 114.5h0M258.9 114.4h0"/><path stroke="#8bccee" stroke-opacity="0.52" d="M282.7 108.3h0M267.5 113.7h0M243.7 114.7h0M275.5 113.3h0M240.0 116.3h0M256.4 118.8h0M253.9 109.7h0M267.5 120.5h0M280.8 113.4h0M231.5 122.4h0M241.6 111.3h0M264.4 114.7h0M258.6 112.1h0M264.5 118.8h0M241.5 112.3h0M233.9 120.2h0M267.8 112.1h0M277.9 124.4h0M240.0 117.5h0M237.3 121.8h0M298.1 105.0h0M239.0 115.1h0M255.9 92.5h0M240.3 112.3h0M258.2 115.3h0M261.7 111.0h0M261.8 114.0h0M270.9 104.5h0M254.6 114.5h0M261.7 85.3h0M236.6 121.7h0M254.9 106.5h0M264.3 108.1h0"/><path stroke="#c8c8c8" stroke-opacity="0.52" d="M248.7 101.0h0M244.4 120.5h0M258.2 120.8h0M249.8 120.7h0M263.7 116.8h0M233.6 119.4h0M272.0 121.1h0M252.3 119.1h0M260.3 113.9h0M262.1 116.0h0M262.6 84.2h0M274.7 121.7h0M260.3 87.4h0M258.5 111.2h0M265.8 109.0h0"/><path stroke="#04ad38" stroke-opacity="0.71" d="M254.3 122.0h0M269.6 111.1h0M232.1 120.0h0M301.0 112.5h0M257.4 109.9h0M273.5 107.8h0M261.6 119.9h0M266.6 118.3h0M275.7 111.0h0M257.7 90.4h0M269.2 113.0h0M275.6 106.2h0M259.6 114.1h0M246.3 120.8h0M269.5 112.1h0M288.6 112.7h0M266.4 115.9h0M231.2 121.4h0M274.2 106.5h0M256.0 110.9h0M248.1 122.6h0M258.0 119.5h0M249.1 108.8h0M249.1 122.6h0M245.0 118.3h0"/><path stroke="#af3296" stroke-opacity="0.71" d="M239.1 122.9h0M232.0 120.2h0M244.4 114.8h0M233.0 120.4h0M264.6 114.4h0M237.9 120.0h0M262.5 84.6h0"/><path stroke="#44a7e3" stroke-opacity="0.71" d="M259.6 117.0h0M233.0 122.7h0M268.2 114.4h0M255.8 108.2h0M255.3 107.3h0M234.8 121.6h0M249.1 113.3h0M254.3 107.0h0M237.8 114.5h0M237.3 120.1h0M278.6 111.9h0M274.0 108.4h0M244.3 111.7h0M232.9 119.9h0M258.3 119.0h0M261.9 110.3h0M266.7 118.9h0M255.3 115.7h0M260.8 105.6h0M255.8 117.3h0M235.1 121.8h0M261.4 117.6h0M231.2 122.2h0M250.7 109.2h0M255.4 118.6h0M260.3 113.0h0M263.2 83.6h0M245.3 112.8h0M234.7 122.3h0M257.3 91.0h0M257.8 90.7h0M250.8 109.3h0M268.1 111.8h0M268.2 111.6h0M263.6 111.6h0M257.6 116.7h0M237.6 121.0h0M267.5 108.1h0M235.2 121.6h0M261.2 106.7h0M269.9 107.6h0M269.3 114.2h0M265.5 106.2h0M245.3 113.0h0M277.7 116.0h0"/><path stroke="#ffc07f" stroke-opacity="0.71" d="M247.6 122.3h0M238.6 115.1h0M271.5 107.2h0M231.9 122.0h0M258.0 111.6h0M270.7 119.6h0M264.1 117.7h0M297.1 109.0h0M259.5 119.8h0M244.6 120.9h0M260.6 108.7h0M264.1 121.4h0M247.3 103.6h0M239.0 119.0h0M248.0 119.3h0M244.6 108.5h0M240.1 115.5h0M264.1 117.6h0M273.9 110.9h0M257.4 107.0h0M243.3 119.6h0M256.7 119.6h0M247.5 113.0h0M253.9 114.5h0M246.5 114.3h0M277.3 110.2h0"/><path stroke="#c8c8c8" stroke-opacity="0.71" d="M237.6 116.2h0M240.0 118.1h0M244.9 122.9h0M246.7 110.8h0M238.0 117.7h0M242.5 111.2h0M237.9 116.0h0M246.9 117.3h0M248.8 114.9h0M253.2 109.3h0M278.3 110.7h0M250.6 110.9h0M248.4 112.8h0M255.1 115.0h0M260.2 112.4h0"/><path stroke="#8bccee" stroke-opacity="0.71" d="M266.5 115.6h0M233.4 119.9h0M299.2 104.4h0M241.0 121.9h0M262.7 109.6h0M264.6 117.0h0M231.1 120.9h0M247.5 111.4h0M259.9 112.1h0M269.4 109.9h0M250.7 98.5h0M268.9 114.5h0M242.1 113.4h0M301.8 110.3h0M254.6 117.1h0M235.3 120.3h0M241.1 119.3h0M265.5 110.6h0M236.1 116.7h0M231.7 121.2h0M245.2 116.9h0M250.7 120.8h0M261.4 109.8h0M298.0 110.1h0M233.9 118.2h0M256.3 106.3h0M269.4 117.9h0M272.9 115.4h0M259.2 109.7h0M235.7 116.3h0M250.7 99.5h0M252.1 113.3h0"/><path stroke="#c5f7ba" stroke-opacity="0.71" d="M267.5 103.4h0M266.2 117.8h0M241.9 122.5h0M260.9 119.8h0M264.0 120.7h0M268.5 115.0h0M238.4 114.3h0M257.5 109.9h0M237.3 116.1h0M244.9 113.7h0M271.2 106.1h0M246.4 117.5h0M232.8 118.1h0M235.2 118.7h0M265.4 112.9h0M270.0 112.4h0M262.6 117.0h0M231.1 121.7h0M261.0 118.8h0M234.1 118.6h0M251.9 120.1h0M237.8 117.0h0M268.4 108.1h0M267.7 108.8h0"/><path stroke="#0074c8" stroke-opacity="0.71" d="M253.6 110.0h0M261.6 111.7h0M261.7 118.9h0M258.0 112.7h0M236.1 120.4h0M240.5 119.1h0M253.7 108.1h0M263.4 83.9h0M234.4 119.8h0M259.7 110.6h0M259.8 117.1h0M231.9 121.2h0M267.6 105.4h0M245.1 110.3h0M234.1 121.5h0M231.5 121.6h0M241.4 115.9h0M264.8 109.9h0M247.6 102.7h0M273.7 115.5h0M245.7 119.3h0M241.9 113.4h0M268.3 108.7h0M231.3 122.2h0M249.1 101.2h0M273.7 115.8h0M261.5 114.3h0M258.1 118.6h0M247.4 115.8h0M237.4 121.1h0M248.7 112.8h0M262.8 116.7h0M252.9 119.2h0M276.4 116.4h0M241.8 117.0h0"/><path stroke="#93e68a" stroke-opacity="0.71" d="M282.1 115.5h0M242.2 116.0h0M259.7 112.0h0M233.5 119.8h0M276.1 113.5h0M252.8 109.1h0M237.7 118.2h0M262.9 120.7h0M252.1 113.8h0M259.5 119.3h0M264.0 106.4h0M275.3 109.0h0M276.7 111.7h0M240.6 117.9h0M278.6 109.0h0M243.3 117.4h0M275.2 113.0h0M265.1 121.6h0M231.9 121.7h0M273.5 109.0h0M257.0 117.4h0M234.1 120.7h0M261.9 110.5h0M233.5 120.1h0M266.4 115.2h0M255.8 111.3h0M242.3 119.4h0M231.4 121.5h0M269.6 126.1h0"/><path stroke="#c0e0fd" stroke-opacity="0.71" d="M267.4 109.0h0M266.2 110.6h0M256.6 114.5h0M237.3 116.6h0M274.9 105.8h0M266.4 117.6h0M265.9 110.8h0M237.0 121.8h0M266.9 114.7h0M266.4 106.2h0M269.4 106.2h0M266.9 110.5h0M267.0 116.8h0M265.2 114.0h0M266.0 117.8h0M259.6 87.9h0M236.5 117.6h0M242.6 118.9h0M264.7 110.7h0M236.0 122.0h0M260.1 109.7h0M246.5 110.9h0M253.9 107.6h0M236.0 121.5h0M234.2 119.4h0M236.4 119.9h0M261.8 115.4h0M258.6 109.1h0M259.5 108.5h0M266.7 111.3h0M261.6 123.9h0M234.6 118.0h0M267.4 115.4h0M256.7 119.4h0M233.6 119.6h0"/><path stroke="#e0e0f9" stroke-opacity="0.71" d="M232.6 117.9h0M251.9 118.5h0M261.4 85.9h0M267.6 113.2h0M258.8 107.9h0M267.1 115.0h0M242.4 117.7h0M253.2 109.5h0M253.7 116.5h0M231.6 122.4h0M233.2 121.2h0M236.5 120.5h0M262.4 110.4h0M249.2 119.4h0M257.1 106.8h0M277.0 113.9h0"/><path stroke="#9f9f9f" stroke-opacity="0.71" d="M288.3 105.6h0M270.9 109.3h0M265.1 112.2h0M268.9 110.0h0M240.9 113.4h0M253.1 110.0h0M262.0 107.9h0M231.8 121.8h0M267.9 109.6h0M231.1 122.2h0M257.4 113.0h0M238.3 120.1h0M248.9 121.8h0M234.6 118.6h0M234.7 122.4h0M245.8 113.1h0"/><path stroke="#ff9031" stroke-opacity="0.71" d="M261.5 110.3h0M262.3 113.0h0M256.3 120.7h0M240.2 119.9h0M233.0 118.4h0M255.4 118.6h0M235.1 121.3h0M263.4 83.3h0M253.6 116.7h0M267.7 113.8h0M294.6 102.1h0M252.7 109.2h0M259.4 115.8h0M265.6 111.2h0M248.6 111.2h0M268.9 114.0h0M248.4 110.3h0M270.2 106.6h0"/><path stroke="#ff6b00" stroke-opacity="0.71" d="M232.0 122.3h0M244.0 110.0h0M253.8 114.6h0M260.9 86.4h0M258.0 104.4h0M263.9 119.9h0M260.5 119.9h0M244.3 115.5h0M240.0 123.1h0M233.6 119.8h0M251.3 113.2h0M257.5 90.7h0M265.7 118.8h0M271.7 105.0h0M251.5 110.4h0M235.8 120.7h0M257.7 117.5h0M248.1 102.9h0M258.8 110.6h0M255.2 107.4h0M248.9 117.7h0M235.1 117.5h0M236.1 119.2h0M261.6 107.6h0M285.8 112.7h0M241.5 118.6h0M262.7 110.7h0M271.1 113.9h0M270.0 106.7h0M239.0 118.2h0"/><path stroke="#6354bc" stroke-opacity="0.71" d="M241.6 120.0h0M250.8 109.0h0M257.1 111.5h0M251.8 118.7h0M245.9 109.1h0M251.6 120.7h0M270.4 119.3h0M263.2 119.3h0M276.0 107.6h0M250.5 116.1h0M242.4 118.4h0M267.9 110.8h0M270.3 115.5h0M272.3 106.5h0M299.6 106.9h0M251.1 116.5h0M272.8 110.0h0M298.6 104.1h0M243.8 112.4h0M270.7 116.2h0M235.8 116.8h0M238.1 116.8h0M246.9 103.3h0"/><path stroke="#696969" stroke-opacity="0.71" d="M257.0 118.9h0M243.6 113.9h0M245.1 109.7h0M241.8 114.1h0M247.5 109.1h0M255.8 93.3h0M258.7 107.6h0M253.2 120.0h0M244.7 115.4h0M257.9 115.4h0M261.0 109.8h0M261.6 110.5h0M233.9 117.2h0M253.2 95.8h0M239.4 118.5h0M234.3 117.1h0M256.7 120.0h0M243.6 114.1h0M246.9 115.8h0"/><path stroke="#f45100" stroke-opacity="0.71" d="M248.2 107.2h0M265.2 118.6h0M236.2 115.1h0M253.5 118.4h0M243.8 121.3h0M250.5 110.9h0M231.7 121.8h0M232.7 119.4h0M258.9 110.2h0M233.0 121.3h0M260.0 110.4h0M275.6 110.2h0M266.1 118.2h0M262.3 109.1h0M242.4 112.1h0M263.4 110.6h0M235.9 116.2h0M243.6 111.7h0M243.5 114.8h0M252.2 110.6h0M253.1 95.4h0M262.5 119.0h0M282.1 111.7h0M258.1 89.6h0M231.6 121.9h0M249.4 116.2h0M238.8 113.8h0M262.2 114.6h0M267.9 110.2h0"/><path stroke="#babbe9" stroke-opacity="0.71" d="M255.1 117.5h0M276.7 104.7h0M244.9 110.6h0M252.9 96.5h0M246.4 104.2h0M260.3 110.6h0M231.6 121.3h0M231.6 121.6h0M266.1 120.4h0M256.7 112.1h0M261.6 85.4h0M260.8 108.1h0M245.1 111.3h0M262.4 110.9h0M284.5 112.9h0M262.0 112.1h0M245.4 115.4h0M232.8 121.1h0"/><path stroke="#9690d4" stroke-opacity="0.71" d="M261.8 106.0h0M260.9 118.3h0M233.0 121.1h0M261.3 117.1h0M266.4 114.5h0M232.6 119.1h0M243.6 114.9h0M238.0 118.8h0M251.8 113.3h0M273.7 114.2h0M260.7 119.2h0M232.4 120.0h0M266.1 110.2h0M234.4 116.0h0M265.4 115.0h0"/><path stroke="#da4ac1" stroke-opacity="0.71" d="M268.2 109.8h0M243.6 122.0h0M231.1 122.2h0M242.4 111.9h0M235.3 120.7h0M257.0 118.2h0M261.5 117.8h0M249.9 107.5h0M258.0 117.9h0M251.6 111.8h0M253.8 107.6h0"/><path stroke="#59d05c" stroke-opacity="0.71" d="M256.2 92.1h0M243.7 109.3h0M242.7 118.9h0M231.8 121.0h0M257.5 114.5h0M237.2 113.9h0M288.9 110.4h0M244.4 120.5h0M262.0 114.6h0M237.5 114.2h0M262.4 105.0h0M269.2 116.8h0M260.2 113.4h0M255.3 121.4h0M260.5 111.4h0M256.5 92.1h0M234.4 118.7h0M265.5 107.7h0M251.9 98.5h0M251.8 115.9h0M254.0 95.2h0M243.1 122.7h0M261.8 117.9h0M248.7 101.3h0M256.2 106.1h0"/><path stroke="#e6e6e6" stroke-opacity="0.71" d="M233.4 120.1h0M258.7 113.7h0M260.8 119.5h0M250.4 116.4h0M258.6 119.8h0M246.7 109.9h0M281.4 110.5h0M253.8 109.9h0M256.2 109.9h0M273.5 114.8h0"/><path stroke="#31a354" stroke-opacity="0.64" d="M290.0 44.6h0"/><path stroke="#c6dbef" stroke-opacity="0.64" d="M287.2 47.6h0"/><path stroke="#9ecae1" stroke-opacity="0.64" d="M285.8 50.2h0"/><path stroke="#bdbdbd" stroke-opacity="0.64" d="M278.2 63.5h0"/><path stroke="#74c476" stroke-opacity="0.64" d="M271.4 71.9h0"/></g>
<g stroke-width="3.00" stroke-linecap="round"><path stroke="#0071bf" stroke-opacity="0.58" d="M59.5 295.5h0M57.1 286.2h0M60.9 281.6h0M59.8 279.6h0M61.7 270.4h0M48.7 292.1h0M62.1 292.9h0M52.0 286.2h0M58.2 268.0h0M55.2 280.3h0M64.4 277.0h0M58.3 283.5h0M65.1 273.5h0M58.6 272.6h0M56.8 285.1h0M70.6 269.2h0M55.6 280.9h0M92.4 260.1h0M63.4 298.5h0M65.5 279.9h0M64.1 288.2h0M52.2 268.2h0M46.5 271.8h0M62.4 269.3h0M69.1 278.0h0M86.8 257.6h0M63.8 272.0h0M56.9 294.5h0M53.3 277.6h0M63.6 267.5h0M63.7 273.4h0M67.6 291.8h0M58.7 291.9h0M62.7 294.8h0M91.2 257.0h0M67.0 273.6h0M63.2 280.2h0M57.2 279.0h0M60.9 267.6h0M59.9 281.9h0M52.5 274.5h0M69.0 278.7h0M72.0 255.5h0M52.0 286.7h0M61.6 274.7h0M52.5 295.6h0M60.9 275.1h0M62.2 272.9h0M64.1 287.7h0M54.6 271.5h0M60.6 268.9h0M57.6 297.6h0M56.5 284.6h0M54.5 281.5h0M70.3 265.2h0M58.1 290.0h0M58.2 280.1h0M62.9 263.7h0M65.3 277.5h0M65.0 283.1h0M63.4 287.9h0M58.1 274.1h0M54.2 271.5h0M53.2 298.9h0M48.8 282.2h0M62.9 267.9h0M50.8 266.5h0M62.5 296.1h0M49.7 296.9h0M56.7 259.5h0M55.4 290.8h0M68.6 301.5h0M61.5 296.8h0M55.0 282.1h0M65.4 264.0h0M56.1 301.5h0M82.5 262.0h0M52.0 285.9h0M56.4 290.5h0M55.7 288.3h0M60.4 272.0h0M59.4 273.0h0M61.9 281.0h0M64.1 268.1h0M61.2 268.9h0M58.2 295.6h0M55.7 280.1h0M67.4 267.2h0M63.5 278.9h0M70.6 295.2h0M64.4 267.6h0M53.3 260.5h0M65.4 302.5h0M63.2 291.7h0M56.3 267.2h0M58.0 281.2h0M68.2 289.7h0M58.9 279.6h0M56.1 275.0h0M60.2 273.9h0M81.1 255.4h0M57.4 296.1h0M58.9 293.2h0M65.8 289.7h0M58.2 279.9h0M68.0 278.0h0M84.9 257.9h0M53.4 284.8h0M64.2 292.1h0M66.4 278.5h0M60.3 297.5h0M56.4 286.3h0M72.3 285.2h0M61.2 289.2h0M56.2 287.6h0M54.3 285.8h0M69.5 303.7h0M53.7 293.4h0M59.7 289.7h0M54.8 269.4h0M54.7 285.9h0M66.8 291.7h0M56.2 292.6h0M58.7 286.9h0M56.1 289.3h0M65.4 290.0h0M60.2 267.0h0M58.8 283.7h0M53.7 279.0h0M59.9 289.7h0M56.3 276.0h0M58.8 266.6h0M51.7 273.1h0M51.6 269.2h0M55.6 292.5h0M60.7 274.9h0M63.9 267.6h0M57.7 269.7h0M66.2 270.5h0M61.2 266.8h0M59.9 291.4h0M56.9 278.3h0M55.2 258.7h0M55.8 288.4h0M83.5 258.2h0M56.6 292.0h0M59.0 280.3h0M61.9 277.7h0M61.5 298.2h0M64.7 280.2h0M57.4 272.8h0M58.1 299.9h0M56.5 279.6h0M66.1 266.2h0M65.8 291.0h0M53.5 263.5h0M60.2 255.3h0M54.5 291.7h0M66.3 276.0h0M50.3 274.1h0M54.4 278.1h0M49.5 291.8h0M64.5 278.7h0M55.4 282.2h0M73.3 295.0h0M55.7 294.0h0M67.9 271.3h0M64.5 274.8h0M59.9 271.1h0M77.1 262.8h0M68.1 268.2h0M52.9 273.3h0M48.6 294.9h0M57.8 296.0h0M91.3 259.2h0M56.7 280.9h0M72.0 269.3h0M58.8 267.0h0M61.4 296.2h0M53.4 295.7h0M60.8 280.9h0M55.3 292.0h0M63.4 279.2h0M60.2 292.2h0M86.9 259.7h0M62.7 289.4h0M58.7 293.3h0M49.7 292.7h0M52.3 286.8h0M54.2 294.3h0M66.3 286.7h0M62.9 267.5h0M49.7 270.8h0M65.6 271.7h0M53.0 286.0h0M53.6 289.3h0M56.4 259.2h0M58.0 284.6h0M58.4 279.3h0M44.8 270.3h0M58.6 272.0h0M80.7 255.3h0M58.1 258.5h0M54.8 299.3h0M68.9 270.7h0M59.6 279.7h0M63.6 266.8h0M61.5 278.7h0M59.7 292.0h0M56.5 285.7h0M55.7 285.5h0M73.3 287.1h0M61.9 267.3h0M60.9 300.0h0M71.3 258.6h0M63.3 274.3h0M60.8 266.5h0M62.5 297.2h0M59.9 265.9h0M56.1 283.4h0M55.3 276.7h0M65.5 280.2h0M57.0 267.0h0M57.9 277.3h0M75.9 264.2h0M59.1 286.1h0M59.4 280.5h0M59.7 271.6h0M84.7 259.5h0M65.3 291.2h0M73.3 271.9h0M56.0 276.3h0M69.6 275.3h0M69.4 273.1h0M53.6 279.2h0M77.4 257.7h0M53.1 291.5h0M55.6 262.9h0M63.6 287.6h0M63.7 263.1h0M48.5 267.0h0M54.1 268.7h0M56.4 293.2h0M49.8 282.5h0M50.2 271.6h0M68.0 274.4h0M57.4 290.2h0M59.0 297.0h0M53.8 261.6h0M62.1 284.5h0M63.4 296.1h0M66.2 288.7h0M56.5 267.2h0M54.9 275.2h0M87.6 259.3h0M64.0 285.8h0M73.4 285.4h0M70.0 262.7h0M59.0 298.9h0M51.4 287.0h0M58.6 272.8h0M67.9 299.3h0M69.8 276.7h0M50.8 285.9h0M66.2 276.2h0M55.8 282.5h0M58.3 283.4h0M57.6 271.4h0M64.2 279.2h0M69.5 271.5h0M56.6 286.4h0M64.8 275.9h0M63.2 271.4h0M63.4 263.0h0M71.5 267.9h0M60.2 292.9h0M53.1 272.6h0M62.8 272.9h0M66.7 295.8h0M58.6 274.1h0M81.9 255.2h0M56.7 271.8h0M57.3 267.8h0M55.8 269.6h0M56.6 280.2h0M57.4 273.5h0M66.3 295.7h0M64.7 278.6h0M61.0 278.0h0M58.7 271.8h0M60.7 281.1h0M77.5 287.8h0M60.9 284.0h0M61.3 285.6h0M67.4 269.3h0M62.8 282.6h0M60.4 273.1h0M58.8 272.1h0M56.2 283.5h0M58.6 261.4h0M61.5 282.9h0M55.9 278.4h0M66.8 271.5h0M48.5 291.7h0M74.4 263.9h0M50.1 272.2h0M71.7 261.5h0M69.2 277.5h0M67.4 295.7h0M59.4 300.9h0M56.8 282.5h0M63.5 274.7h0M53.5 278.3h0M53.4 290.3h0M64.2 292.8h0M68.0 263.0h0M70.9 259.7h0M68.4 258.0h0M51.6 285.1h0M63.4 296.1h0M80.2 259.6h0M62.0 292.6h0M57.6 282.1h0M63.4 266.5h0M53.2 272.7h0M70.6 276.0h0M50.5 278.7h0M70.7 286.2h0M60.9 268.4h0M87.9 256.4h0M62.6 288.3h0M61.3 295.4h0M56.1 257.3h0M63.1 291.0h0M54.3 276.8h0M49.5 273.9h0M59.0 276.4h0M58.8 268.2h0M63.7 283.7h0M71.8 297.4h0M50.7 280.9h0M53.7 289.8h0M57.9 284.0h0M58.0 268.1h0M52.8 269.5h0M89.3 262.3h0M60.4 292.0h0M49.8 292.8h0M65.3 274.6h0M58.4 274.0h0M57.0 289.4h0M64.5 287.8h0M47.4 280.6h0M59.5 290.4h0M62.0 284.3h0M68.8 282.8h0M66.8 297.7h0M67.6 275.4h0M61.9 274.8h0M61.0 292.8h0M62.1 280.0h0M65.4 283.8h0M47.2 287.8h0M59.6 292.8h0M63.9 267.7h0M65.5 287.3h0M61.0 299.2h0M68.8 287.0h0M65.1 286.6h0M61.8 269.5h0M52.8 285.0h0M58.2 273.6h0M61.8 275.4h0M72.9 257.3h0M53.4 270.5h0M67.4 273.5h0M55.3 293.3h0M59.9 290.9h0M69.9 255.1h0M63.7 296.4h0M56.9 289.5h0M64.3 288.3h0M56.3 270.6h0M65.9 281.0h0M69.3 288.5h0M55.6 263.4h0M61.5 273.9h0M63.7 293.2h0M68.6 276.6h0M73.3 289.7h0M81.8 258.1h0M74.4 301.0h0M62.6 295.6h0M63.2 267.5h0M66.8 291.2h0M61.8 269.9h0M60.1 267.0h0M60.4 278.4h0M58.0 279.9h0M68.3 290.7h0M58.9 295.2h0M59.7 294.7h0M63.5 294.2h0M66.6 294.1h0M56.2 287.5h0M59.3 270.9h0M64.2 268.1h0M60.8 290.0h0M62.6 272.4h0M65.9 296.8h0M57.8 258.3h0M53.3 296.6h0M53.1 284.3h0M63.2 286.2h0M53.7 282.3h0M54.7 267.7h0M60.5 274.7h0M61.1 283.6h0M55.1 278.3h0M59.0 275.9h0M62.3 304.0h0M55.5 285.1h0M58.4 276.6h0M56.9 283.6h0M52.2 271.6h0M56.6 284.7h0M70.5 287.9h0M54.0 265.2h0M62.2 272.9h0M72.3 281.8h0M69.5 269.3h0M62.7 262.9h0M54.6 283.0h0M58.2 287.3h0M82.3 263.6h0M74.8 287.6h0M56.8 289.6h0M58.9 285.3h0M74.6 284.4h0M61.4 280.3h0M73.3 273.3h0M57.3 270.3h0M61.7 267.5h0M69.1 270.6h0M71.2 273.4h0M57.4 282.0h0M59.8 269.6h0M59.9 280.2h0M63.9 261.4h0M60.9 291.3h0M64.0 282.2h0M63.3 280.0h0M68.5 284.0h0M53.7 264.4h0M67.2 269.6h0M60.3 284.4h0M68.8 265.7h0M76.0 273.8h0M63.0 277.2h0M59.0 296.6h0M60.3 265.7h0M64.2 260.1h0M67.5 275.7h0M66.3 294.2h0M61.3 287.6h0M68.6 291.6h0M59.4 267.6h0M63.1 272.8h0M47.9 267.0h0M61.4 290.5h0M70.8 299.0h0M76.6 277.9h0M65.0 288.4h0M68.1 289.7h0M65.0 272.5h0M62.1 286.3h0M58.2 295.7h0M57.7 291.3h0M59.7 270.2h0M62.0 267.0h0M63.4 282.8h0"/><path stroke="#0071bf" stroke-opacity="0.75" d="M60.8 276.6h0M57.8 304.7h0M59.9 277.6h0M79.1 257.1h0M61.7 259.3h0M49.8 279.8h0M63.4 289.4h0M55.6 267.5h0M63.0 287.4h0M61.6 289.4h0M51.5 289.8h0M50.6 289.1h0M59.8 287.7h0M54.1 295.5h0M59.5 284.8h0M58.0 267.4h0M65.4 283.2h0M54.9 297.1h0M62.1 276.0h0M56.7 282.5h0M55.2 273.5h0M63.0 279.8h0M62.3 280.0h0M63.0 263.6h0M58.1 294.2h0M65.6 287.1h0M67.4 267.5h0M52.6 282.9h0M56.8 296.7h0M62.4 266.3h0M60.9 282.2h0M61.9 265.2h0M67.2 295.4h0M64.9 293.4h0M54.3 290.5h0M49.8 266.3h0M57.3 268.7h0M50.4 301.7h0M62.6 280.9h0M68.1 285.7h0M45.9 288.1h0M54.7 288.2h0M68.5 291.2h0M66.2 265.3h0M59.4 296.7h0M53.1 304.0h0M71.3 276.5h0M60.7 282.0h0M58.3 270.5h0M63.7 290.6h0M61.6 284.4h0M57.5 295.9h0M63.0 274.6h0M55.3 280.5h0M58.9 266.0h0M60.8 293.0h0M46.9 291.3h0M58.4 282.7h0M57.9 270.9h0M64.2 263.4h0M56.7 269.6h0M62.2 274.7h0M53.0 276.3h0M59.5 291.3h0M57.3 293.6h0M64.9 279.4h0M58.0 299.5h0M63.7 277.4h0M64.7 278.9h0M60.5 272.8h0M59.3 263.0h0M72.2 292.6h0M71.5 266.4h0M52.3 266.9h0M58.0 260.4h0M55.8 281.9h0M56.7 290.1h0M61.2 264.4h0M56.2 295.6h0M80.5 255.9h0M65.5 291.4h0M67.7 268.1h0M55.8 298.8h0M59.9 294.0h0M51.1 288.6h0M58.4 272.0h0M62.6 275.2h0M62.6 276.5h0M56.2 273.8h0M58.0 280.0h0M60.3 271.0h0M55.7 293.6h0M62.9 278.7h0M68.7 270.7h0M55.1 279.9h0M61.5 267.2h0M69.9 269.0h0M62.1 299.4h0M60.3 275.9h0M57.2 279.5h0M54.1 285.4h0M60.9 280.9h0M62.9 259.9h0M50.5 267.4h0M76.6 263.0h0M52.2 293.3h0M74.0 259.8h0M58.8 300.3h0M67.0 264.6h0M57.3 289.2h0M50.8 272.5h0M55.7 287.2h0M68.1 261.9h0M61.9 284.9h0M62.4 254.9h0M58.3 265.3h0M70.0 292.0h0M64.7 283.1h0M55.4 265.7h0M51.3 285.8h0M53.2 274.9h0M63.0 272.7h0M63.5 276.8h0M62.8 286.5h0M69.1 283.2h0M70.1 279.3h0M63.7 291.2h0M58.9 306.1h0M58.8 279.9h0M58.6 289.1h0M72.1 292.2h0M60.8 294.2h0M55.3 282.1h0M74.1 274.5h0M70.2 273.2h0M65.5 266.3h0M53.8 294.4h0M60.9 261.4h0M60.2 267.9h0M85.6 260.8h0M59.9 281.2h0M71.0 295.6h0M56.3 278.9h0M53.4 284.1h0M53.8 289.5h0M63.0 280.9h0M71.8 286.4h0M60.3 279.4h0M62.0 292.5h0M52.1 284.9h0M56.7 274.5h0M72.6 261.5h0M92.1 254.2h0M64.3 292.0h0M57.7 289.7h0M56.8 270.3h0M74.8 255.2h0M62.2 274.8h0M63.7 272.6h0M63.4 291.3h0M58.3 263.6h0M52.6 288.0h0M56.1 271.8h0M55.2 292.2h0M64.0 290.6h0M76.1 261.9h0M53.4 281.6h0M77.7 273.0h0M70.0 286.7h0M58.5 293.1h0M62.8 273.8h0M52.3 274.8h0M61.8 266.9h0M68.2 285.7h0M61.0 274.8h0M52.2 296.9h0M57.4 294.4h0M60.9 290.8h0M69.5 267.5h0M64.5 273.3h0M53.1 284.4h0M61.1 292.5h0M53.4 287.0h0M63.0 303.4h0M65.2 271.8h0M56.9 293.5h0M59.3 274.0h0M58.4 287.8h0M59.6 274.6h0M80.2 259.2h0M64.2 276.0h0M50.5 292.1h0M56.7 257.6h0M54.3 288.3h0M70.9 268.5h0M59.3 258.7h0M59.3 277.4h0M69.9 274.6h0M70.0 278.8h0M76.5 293.3h0M71.5 265.7h0M78.9 261.3h0M53.1 280.8h0M61.0 279.3h0M62.0 286.2h0M61.7 289.0h0M62.8 284.2h0M65.5 258.6h0M57.5 258.3h0M66.5 296.6h0M53.2 285.2h0M58.8 275.4h0M61.2 285.8h0M49.9 267.6h0M70.3 277.4h0M65.0 274.7h0M63.0 294.7h0M69.1 284.0h0M55.8 293.6h0M53.1 266.0h0M69.4 279.5h0M45.1 286.9h0M48.0 279.1h0M50.8 297.6h0M66.7 293.0h0M60.4 285.7h0M55.5 267.8h0M57.3 280.6h0M62.0 270.9h0M55.8 272.0h0M59.8 275.1h0M60.9 270.3h0M68.9 276.8h0M62.3 263.2h0M78.8 256.2h0M59.0 282.2h0M65.1 287.4h0M55.6 275.8h0M60.3 267.1h0M68.5 275.5h0M90.3 258.1h0M60.8 279.8h0M51.9 289.7h0M63.4 255.9h0M70.2 256.3h0M62.9 288.1h0M57.7 274.0h0M74.4 283.2h0M57.2 266.4h0M64.4 270.7h0M83.4 255.5h0M62.7 282.4h0M70.1 286.0h0M71.5 267.3h0M58.0 274.8h0M58.8 263.1h0M65.5 273.2h0M56.3 264.6h0M55.1 288.3h0M71.3 274.1h0M60.7 293.1h0M60.2 290.4h0M53.3 281.1h0M60.0 268.1h0M54.9 272.9h0M50.5 281.5h0M57.0 279.0h0M61.7 266.2h0M62.5 262.9h0M59.5 285.8h0M63.1 273.5h0M76.4 267.9h0M52.2 294.0h0M63.3 287.4h0M68.3 270.2h0M50.0 264.3h0M60.6 276.7h0M48.4 289.6h0M60.2 278.8h0M60.4 290.1h0M67.0 277.2h0M62.6 265.2h0M66.0 275.2h0M58.4 283.4h0M66.6 297.1h0M67.2 282.3h0M64.2 290.6h0M63.9 296.8h0M61.5 273.4h0M66.0 271.6h0M64.2 279.9h0M68.6 266.0h0M68.6 258.3h0M53.9 277.1h0M51.1 281.4h0M55.3 287.8h0M57.7 284.5h0M64.0 267.0h0M86.1 256.0h0M56.5 295.2h0M60.9 290.9h0M61.4 270.1h0M69.9 270.5h0M59.3 280.9h0M66.9 283.0h0M57.1 264.7h0M79.9 257.5h0M55.6 270.5h0M52.2 281.4h0M62.9 274.6h0M59.4 294.2h0M52.0 268.2h0M59.7 267.6h0M61.9 285.9h0M58.8 282.2h0M68.6 255.5h0M69.9 274.7h0M59.2 295.3h0M59.2 281.2h0M69.2 278.7h0M51.9 282.6h0M54.8 275.8h0M67.8 276.1h0M56.0 296.9h0M60.6 283.2h0M61.2 295.1h0M57.8 274.1h0M57.2 285.5h0M72.9 261.2h0M54.8 289.6h0M72.1 288.5h0M65.7 273.5h0M60.1 265.7h0M54.9 272.5h0M67.4 283.6h0M64.5 288.3h0M69.4 294.0h0M61.6 294.9h0M58.8 293.3h0M53.6 267.2h0M67.5 281.2h0M66.5 296.0h0M54.8 284.7h0M64.2 276.1h0M65.5 302.7h0M54.2 288.2h0M55.3 273.1h0M56.4 271.8h0M83.6 257.1h0M55.5 271.3h0M58.9 270.4h0M61.1 281.0h0M57.1 286.3h0M64.4 284.7h0M56.3 267.4h0M60.1 302.2h0M66.8 279.6h0M54.5 275.6h0M62.7 275.4h0M61.7 290.3h0M59.6 298.4h0M67.9 270.9h0M62.7 296.7h0M53.8 277.0h0M50.2 277.1h0M56.3 276.0h0M55.6 281.4h0M66.3 265.7h0M59.2 291.5h0M55.4 292.3h0M62.6 281.8h0M52.5 269.7h0M56.7 287.5h0M61.0 273.0h0M47.6 297.7h0M50.4 279.1h0M66.7 270.4h0M90.3 261.3h0M52.5 270.9h0M62.3 291.1h0M54.0 272.3h0M56.7 302.6h0M60.0 297.0h0M68.4 255.0h0M57.4 290.6h0M62.4 282.4h0M61.4 278.1h0M51.9 290.1h0M51.4 285.5h0M63.6 256.0h0M69.4 276.8h0M51.2 273.3h0M63.5 300.5h0M59.2 267.6h0M50.5 289.6h0M56.0 291.5h0M63.8 275.1h0M57.3 274.2h0M59.2 273.8h0M64.6 266.2h0M63.2 282.1h0M59.3 287.2h0M57.7 288.2h0M55.0 293.1h0M56.2 292.1h0M62.5 284.4h0M62.2 287.7h0M57.0 281.1h0M52.6 291.7h0M59.1 302.0h0M72.6 275.8h0M65.2 291.4h0M65.6 270.5h0M56.8 279.1h0M57.6 281.1h0M60.9 293.4h0M55.5 285.9h0M59.1 282.4h0M68.3 267.5h0M61.1 257.8h0M54.1 270.9h0M83.0 258.4h0M59.5 275.9h0M53.4 276.8h0M62.4 277.4h0M62.7 274.3h0M50.5 278.1h0M55.3 276.8h0M69.0 274.9h0M56.8 281.1h0M67.8 273.2h0M57.7 273.2h0M93.0 260.1h0M67.6 273.7h0M58.8 295.0h0M66.2 279.3h0M57.4 287.7h0M62.5 299.2h0M57.7 292.4h0M62.1 287.6h0M55.5 297.5h0M66.8 303.5h0M45.5 294.3h0M69.8 299.4h0M60.8 277.3h0M60.1 272.8h0M59.9 262.8h0M65.3 296.9h0M50.6 283.8h0M71.6 293.5h0M59.8 275.1h0M72.3 280.7h0M64.2 292.9h0M52.6 268.3h0M59.4 294.0h0M64.5 287.7h0M52.6 277.9h0M57.0 259.5h0M59.6 264.8h0M60.2 292.0h0M68.2 297.7h0M58.0 296.6h0M80.5 259.3h0M79.6 261.3h0M56.6 279.4h0M67.9 272.5h0M60.9 275.1h0M46.5 279.1h0M65.0 268.6h0M59.8 270.2h0M69.8 279.6h0M49.6 280.9h0M56.8 298.9h0M54.1 297.5h0M79.9 260.3h0M84.1 261.1h0M56.7 293.1h0M52.5 279.9h0M58.4 273.7h0M68.6 274.1h0"/><path stroke="#0071bf" stroke-opacity="0.92" d="M52.4 262.0h0M89.0 261.4h0M74.2 263.1h0M55.6 287.5h0M60.2 261.5h0M83.5 261.4h0M61.1 271.0h0M60.1 284.6h0M56.5 282.9h0M60.8 273.8h0M56.3 278.7h0M69.2 284.7h0M58.4 289.7h0M63.0 296.1h0M59.5 272.8h0M56.6 290.6h0M64.0 295.2h0M55.0 292.0h0M57.9 282.8h0M54.4 294.2h0M65.3 294.7h0M65.3 270.0h0M58.6 285.3h0M72.2 253.9h0M73.7 287.1h0M59.3 294.4h0M59.1 271.5h0M63.5 273.4h0M61.1 301.2h0M61.1 280.6h0M63.4 267.5h0M54.6 287.8h0M65.1 270.0h0M66.5 271.9h0M68.1 256.4h0M59.3 283.0h0M61.7 286.3h0M66.0 271.3h0M61.1 280.9h0M56.1 279.6h0M89.0 258.9h0M61.0 285.3h0M66.3 296.9h0M60.5 282.0h0M53.9 273.8h0M76.0 268.1h0M68.8 279.4h0M62.9 267.4h0M63.0 285.5h0M60.6 264.5h0M54.8 284.2h0M60.8 280.1h0M56.3 277.7h0M51.1 293.1h0M66.6 294.1h0M63.1 271.9h0M54.8 288.1h0M60.0 283.2h0M70.8 259.4h0M58.2 285.7h0M62.9 278.5h0M62.6 290.5h0M66.5 270.6h0M62.8 299.1h0M57.5 279.1h0M62.7 281.8h0M68.2 296.8h0M49.2 272.5h0M66.5 271.3h0M67.5 274.3h0M75.4 279.4h0M84.0 257.6h0M81.8 252.2h0M58.0 269.6h0M55.3 269.5h0M52.8 298.2h0M59.9 299.1h0M60.9 273.3h0M58.2 266.9h0M62.5 278.0h0M53.4 273.0h0M59.0 290.8h0M51.2 301.0h0M62.8 274.1h0M62.0 265.7h0M51.3 270.7h0M61.0 270.3h0M60.5 262.3h0M58.8 269.2h0M62.3 261.8h0M59.2 292.3h0M62.0 265.4h0M67.1 279.5h0M64.1 282.5h0M65.5 275.9h0M57.6 276.0h0M63.8 272.4h0M62.5 270.8h0M60.9 283.4h0M66.5 266.7h0M56.8 275.5h0M59.3 260.7h0M56.1 303.0h0M62.0 286.5h0M63.4 276.6h0M56.6 291.2h0M60.8 266.5h0M69.3 285.1h0M52.8 263.5h0M54.5 264.6h0M65.5 274.5h0M65.7 273.5h0M59.6 278.3h0M71.0 278.5h0M66.2 287.2h0M64.7 294.2h0M58.5 282.3h0M57.4 284.9h0M57.2 286.9h0M60.8 283.8h0M61.9 278.2h0M49.1 285.7h0M54.4 276.7h0M61.8 275.6h0M62.3 277.2h0M60.2 275.4h0M56.4 271.7h0M56.8 270.9h0M68.3 270.7h0M61.5 297.2h0M58.9 269.2h0M47.5 291.3h0M62.3 291.8h0M63.7 296.6h0M69.4 278.4h0M58.1 285.5h0M51.2 296.2h0M61.8 281.8h0M59.7 257.7h0M60.1 280.5h0M66.9 291.7h0M75.5 293.0h0M62.3 283.6h0M52.3 275.9h0M61.1 263.4h0M63.1 276.4h0M52.6 282.2h0M77.7 256.2h0M51.3 274.3h0M48.9 281.9h0M50.9 282.6h0M68.1 271.7h0M79.5 263.3h0M58.4 294.6h0M60.2 274.5h0M61.5 285.4h0M56.9 286.3h0M67.3 269.8h0M67.7 268.5h0M55.8 289.4h0M66.8 275.2h0M66.9 281.2h0M85.1 256.4h0M61.4 272.7h0M57.3 272.4h0M46.5 267.9h0M56.7 277.5h0M68.5 290.4h0M65.0 282.3h0M49.5 278.4h0M61.6 269.0h0M53.4 286.2h0M49.9 272.2h0M64.2 289.4h0M62.3 292.0h0M62.6 268.5h0M72.3 271.8h0M63.9 277.2h0M59.6 297.3h0M66.4 272.9h0M73.9 272.8h0M71.5 269.4h0M61.6 275.9h0M57.2 284.7h0M48.4 299.4h0M63.5 277.2h0M57.5 292.1h0M53.0 285.6h0M61.3 292.3h0M83.3 263.1h0M65.5 278.8h0M69.9 271.4h0M62.3 281.8h0M58.3 265.1h0M63.8 289.2h0M60.0 279.4h0M62.5 298.8h0M67.1 271.6h0M70.3 295.7h0M58.4 279.9h0M51.3 296.6h0M67.1 289.0h0M57.0 289.3h0M54.8 284.3h0M59.3 275.0h0M49.5 267.6h0M58.3 296.0h0M65.7 294.5h0M50.2 277.2h0M60.2 271.1h0M53.3 296.2h0M69.6 286.9h0M58.1 297.9h0M54.4 299.6h0M59.6 285.7h0M74.2 301.8h0M49.4 279.7h0M55.2 300.9h0M65.4 270.0h0M61.4 278.0h0M57.8 271.5h0M64.5 291.6h0M57.3 279.0h0M48.8 264.6h0M57.9 279.4h0M62.1 287.6h0M57.2 290.6h0M53.6 268.3h0M80.1 260.9h0M55.9 273.6h0M67.1 265.0h0M54.4 294.0h0M73.9 262.0h0M61.2 278.7h0M74.8 257.7h0M65.4 264.3h0M52.0 289.2h0M60.8 274.3h0M63.1 274.0h0M60.8 283.8h0M61.1 289.7h0M56.2 278.6h0M55.3 262.5h0M53.3 286.6h0M55.0 277.6h0M57.3 264.2h0M50.7 285.5h0M57.3 275.7h0M61.0 279.5h0M54.8 275.5h0M54.0 283.8h0M62.5 268.4h0M62.1 301.5h0M74.6 288.6h0M58.9 284.6h0M64.8 261.8h0M64.8 268.9h0M52.7 264.8h0M64.9 260.9h0M54.7 274.8h0M54.5 265.9h0M60.4 287.1h0M65.5 275.1h0M60.8 270.0h0M57.4 295.9h0M49.9 268.4h0M59.8 270.2h0M61.9 287.4h0M67.0 282.9h0M61.1 285.6h0M57.2 293.6h0M60.8 272.2h0M60.7 267.6h0M53.6 281.5h0M66.4 276.9h0M59.4 270.2h0M81.5 258.9h0M68.4 262.9h0M60.7 273.6h0M66.1 292.3h0M57.1 276.8h0M57.0 277.0h0M60.9 293.0h0M58.7 281.7h0M63.8 297.6h0M60.7 260.2h0M60.3 289.4h0M70.1 285.4h0M59.5 291.9h0M57.8 288.7h0M53.9 262.7h0M74.0 286.0h0M48.5 263.7h0M47.7 281.3h0M60.9 297.9h0M69.4 287.2h0M60.6 278.6h0M66.1 269.6h0M67.5 274.4h0M55.3 296.8h0M64.7 274.6h0M59.4 264.4h0M53.2 294.6h0M71.1 271.9h0M61.2 265.6h0M65.4 266.2h0M72.5 257.8h0M61.1 294.6h0M69.6 294.5h0M65.8 294.0h0M54.8 267.1h0M64.7 286.9h0M60.0 282.1h0M54.8 268.2h0M63.8 283.5h0M54.2 279.4h0M54.5 273.7h0M70.3 263.4h0M62.3 285.6h0M59.9 274.7h0M65.4 259.4h0M53.5 290.7h0M65.8 256.5h0M62.4 280.1h0M53.9 287.5h0M54.4 296.0h0M71.0 299.0h0M60.8 275.0h0M50.6 288.3h0M55.5 260.1h0M62.4 297.8h0M53.1 282.3h0M62.5 273.7h0M58.0 290.2h0M67.0 297.6h0M60.1 273.5h0M61.2 276.5h0M58.0 292.6h0M59.5 264.0h0M61.7 271.7h0M66.6 274.0h0M53.5 292.9h0M60.8 278.6h0M60.5 289.1h0M57.0 272.4h0M50.5 263.5h0M60.7 284.2h0M59.2 277.4h0M60.8 279.3h0M66.5 266.0h0M62.0 297.8h0M63.6 278.1h0M61.7 278.6h0M65.8 265.9h0M68.9 263.9h0M71.7 260.6h0M59.7 275.5h0M58.5 289.5h0M49.4 286.1h0M66.0 273.8h0M84.6 258.4h0M51.5 304.1h0M53.0 296.3h0M61.7 273.0h0M58.8 297.4h0M66.5 267.1h0M59.7 292.6h0M62.7 277.5h0M63.0 275.2h0M91.1 259.3h0M60.5 285.9h0M59.3 265.9h0M56.6 272.9h0M56.9 262.9h0M66.6 281.2h0M62.1 262.8h0M60.4 259.3h0M57.6 274.4h0M54.7 271.3h0M61.1 294.7h0M63.8 279.7h0M83.8 258.0h0M63.7 270.1h0M83.6 256.9h0M54.0 293.2h0M68.3 287.3h0M61.3 275.1h0M73.0 267.5h0M73.7 284.0h0M60.9 284.9h0M52.5 290.5h0M64.9 284.8h0M59.8 283.7h0M59.8 271.8h0M69.4 292.5h0M59.0 298.7h0M52.4 286.6h0M61.4 266.4h0M77.1 254.1h0M61.8 265.3h0M72.3 296.0h0M65.2 298.6h0M49.4 286.3h0M59.3 290.7h0M65.5 268.6h0M51.1 266.7h0M74.3 272.7h0M56.0 268.9h0M63.2 293.1h0M71.6 273.5h0M53.1 276.7h0M59.1 288.5h0M53.7 280.5h0M49.6 296.8h0M68.2 285.7h0M65.3 272.0h0M89.9 256.2h0M49.9 280.0h0M55.1 286.0h0M59.6 273.1h0M61.2 275.9h0M72.4 285.3h0M84.9 261.1h0M63.9 280.0h0M51.8 271.2h0M77.8 256.2h0M73.6 266.5h0M68.8 279.2h0M49.4 265.7h0M58.7 282.0h0M53.6 273.9h0M56.7 301.0h0M63.6 268.9h0M59.3 282.4h0M68.4 282.3h0M65.4 281.0h0M54.1 298.4h0M68.9 269.5h0M57.0 277.1h0M67.5 273.2h0M52.8 276.9h0M58.9 268.4h0M68.9 271.1h0M61.0 280.9h0M63.5 275.1h0M56.5 272.7h0M60.9 266.2h0M60.2 294.4h0M66.4 285.5h0M61.0 263.1h0M50.2 271.6h0M59.4 275.2h0M60.6 278.5h0M71.3 269.2h0M58.7 277.6h0M67.1 292.5h0M56.3 271.5h0M65.0 292.7h0M55.3 276.4h0M68.0 266.2h0M66.1 272.1h0M76.5 268.9h0M57.3 271.7h0M55.2 285.1h0M64.0 293.4h0M70.3 262.5h0M54.8 289.6h0M48.1 273.0h0M64.4 280.9h0M65.9 282.2h0M57.8 282.6h0M65.8 278.2h0M64.6 288.5h0M60.8 284.4h0M58.9 281.3h0M63.2 288.9h0M62.3 292.9h0M59.4 279.9h0M66.8 290.0h0M62.4 280.6h0"/><path stroke="#ff7800" stroke-opacity="0.58" d="M65.6 295.5h0M107.5 285.6h0M82.2 278.3h0M99.3 287.3h0M84.3 268.4h0M72.7 279.8h0M82.8 284.6h0M87.4 272.5h0M81.8 283.2h0M89.9 281.7h0M84.3 274.0h0M88.4 287.0h0M64.7 289.4h0M105.2 292.7h0M85.4 285.6h0M103.2 271.4h0M74.4 289.5h0M88.1 291.5h0M83.0 301.3h0M84.6 277.6h0M76.0 292.4h0M93.9 284.5h0M88.2 277.7h0M80.1 280.9h0M91.9 287.3h0M87.3 275.7h0M84.0 282.5h0M84.5 296.7h0M92.0 285.2h0M75.4 293.6h0M87.2 291.7h0M83.2 267.0h0M83.6 280.6h0M90.9 284.6h0M81.4 298.4h0M87.0 297.6h0M77.0 273.7h0M83.3 290.5h0M97.4 296.2h0M83.6 290.9h0M78.0 275.5h0M105.3 266.6h0M84.0 267.3h0M108.7 292.1h0M84.8 282.9h0M67.0 276.6h0M88.7 286.5h0M67.9 270.2h0M93.4 292.1h0M74.7 276.1h0M82.6 267.4h0M82.4 283.7h0M77.6 266.4h0M79.6 287.3h0M76.1 291.8h0M85.3 295.1h0M83.2 288.5h0M90.8 283.5h0M82.1 272.9h0M74.9 288.9h0M77.2 292.2h0M68.4 277.9h0M68.9 267.7h0M100.5 259.0h0M90.3 296.0h0M74.1 292.6h0M87.0 290.1h0M84.2 278.0h0M84.1 276.3h0M82.9 267.2h0M88.7 283.0h0M92.3 285.1h0M84.7 267.7h0M95.0 280.6h0M82.5 277.5h0M95.0 277.2h0M77.5 274.6h0M82.3 272.3h0M87.2 281.7h0M88.6 278.8h0M96.3 292.2h0M76.0 269.8h0M73.3 280.3h0M96.3 281.6h0M71.3 276.5h0M85.8 294.8h0M82.0 273.3h0M94.5 281.0h0M74.2 277.3h0M85.7 288.8h0M93.2 294.9h0M88.2 294.9h0M75.9 300.5h0M99.5 282.9h0M84.2 268.3h0M84.3 290.0h0M83.4 285.0h0M97.6 296.5h0M87.2 276.9h0M81.7 293.0h0M72.8 268.8h0M84.3 292.5h0M71.9 270.5h0M89.0 294.2h0M86.8 286.3h0M78.2 286.0h0M89.6 291.0h0M87.8 282.8h0M86.3 273.4h0M86.3 281.8h0M66.8 276.1h0M90.8 289.2h0M76.2 272.5h0M81.4 273.8h0M78.4 294.9h0M80.7 265.6h0M90.9 287.3h0M88.4 271.8h0M83.4 275.7h0M80.0 292.1h0M80.9 287.0h0M69.7 290.8h0M92.4 295.7h0M84.5 278.0h0M92.8 287.9h0M87.3 271.7h0M97.8 291.5h0M83.5 284.3h0M80.8 282.4h0M76.1 302.3h0M89.7 284.5h0M82.3 270.7h0M83.5 279.3h0M87.5 300.2h0M95.3 276.7h0M85.6 276.0h0M85.0 273.8h0M93.2 287.6h0M84.1 284.2h0M73.8 294.7h0M94.0 299.3h0M86.2 288.0h0M88.7 273.0h0M78.8 288.1h0M77.5 280.2h0M93.6 280.1h0M87.2 297.4h0M89.4 291.8h0M79.2 276.2h0M78.6 268.6h0M87.2 272.0h0M84.2 274.8h0M90.6 296.3h0M94.9 290.1h0M84.7 276.8h0M79.6 278.6h0M87.3 293.5h0M89.9 301.1h0M94.7 292.0h0M82.0 278.4h0M80.8 281.4h0M81.8 274.5h0M87.0 298.8h0M73.2 275.8h0M68.7 277.8h0M83.8 289.3h0M73.6 282.6h0M98.5 265.0h0M88.0 282.0h0M84.0 276.8h0M89.3 289.7h0M86.5 282.7h0M74.8 285.8h0M89.7 268.8h0M82.4 299.4h0M91.0 294.4h0M78.0 281.2h0M83.6 290.5h0M91.3 288.8h0M79.1 290.4h0M78.8 284.4h0M82.4 276.1h0M78.9 277.1h0M69.9 297.8h0M76.8 287.1h0M85.6 288.4h0M80.5 289.9h0M73.3 274.4h0M77.0 283.7h0M80.8 300.3h0M87.3 283.8h0M73.2 289.0h0M96.7 279.3h0M82.0 268.7h0M106.6 276.2h0M103.6 296.2h0M80.5 286.9h0M91.3 277.8h0M85.3 282.8h0M82.0 280.6h0M70.1 283.4h0M69.3 273.4h0M81.4 283.4h0M100.1 291.7h0M88.2 272.0h0M82.8 305.2h0M85.1 273.3h0M84.2 285.1h0M86.4 284.5h0M75.5 283.6h0M83.9 296.7h0M77.2 270.5h0M81.1 302.5h0M84.6 273.6h0M78.1 276.6h0M90.6 278.1h0M81.9 277.0h0M89.3 283.8h0M85.2 289.7h0M81.2 278.1h0M83.2 280.1h0M82.2 279.5h0M91.1 290.0h0M90.0 279.5h0M85.9 276.7h0M99.5 291.3h0M82.4 264.8h0M80.2 294.4h0M89.2 296.6h0M69.8 281.5h0M72.9 269.9h0M87.7 269.8h0M96.3 297.7h0M80.2 271.5h0M95.8 291.4h0M81.4 274.0h0M81.2 274.8h0M82.0 297.1h0M87.3 294.6h0M88.1 275.9h0M73.5 282.7h0M82.1 274.4h0M89.3 283.8h0M79.8 276.8h0M78.5 276.7h0M98.2 290.9h0M97.5 263.7h0M70.8 292.0h0M94.8 278.9h0M84.3 287.7h0M93.9 259.2h0M88.9 277.9h0M81.5 273.3h0M89.2 299.3h0M81.7 281.0h0M79.5 268.4h0M92.4 270.2h0M79.1 293.5h0M93.3 279.4h0M66.0 286.1h0M84.7 278.8h0M93.3 303.9h0M79.0 281.4h0M78.5 298.3h0M80.9 294.1h0M95.9 292.5h0M80.7 272.3h0M72.0 278.6h0M100.5 279.7h0M87.9 270.5h0M90.9 283.1h0M112.2 293.2h0M78.9 276.4h0M69.9 292.8h0M84.6 288.9h0M78.6 295.1h0M82.1 268.7h0M90.2 294.3h0M91.4 274.8h0M71.1 272.2h0M88.9 288.5h0M73.5 276.9h0M79.0 278.4h0M83.5 271.6h0M82.3 274.5h0M81.8 295.7h0M88.7 290.2h0M77.8 295.2h0M75.9 269.9h0M73.4 281.5h0M72.7 283.5h0M88.6 270.1h0M70.7 287.2h0M107.7 291.2h0M86.8 288.6h0M91.6 299.6h0M85.4 283.0h0M77.9 284.2h0M74.3 272.5h0M69.3 279.2h0M96.3 292.6h0M100.0 270.1h0M81.4 272.9h0M90.5 274.4h0M82.5 294.5h0M83.6 280.6h0M76.1 277.4h0M77.4 271.7h0M92.3 303.7h0M83.5 278.2h0M85.2 291.3h0M73.8 286.5h0M80.4 274.5h0M82.2 296.1h0M77.4 282.4h0M87.1 269.1h0M94.7 297.1h0M75.2 295.8h0M79.5 290.6h0M101.8 293.9h0M93.4 283.9h0M79.8 300.2h0M82.8 279.1h0M95.5 277.2h0M74.3 272.7h0M86.1 280.6h0M84.2 270.9h0M86.8 298.6h0M86.6 268.6h0M77.7 267.7h0M95.4 273.4h0M95.9 277.9h0M84.5 281.9h0M80.6 285.3h0M99.7 292.7h0M91.8 283.7h0M81.3 287.9h0M81.2 274.7h0M81.0 281.5h0M77.6 269.9h0M72.1 294.7h0M85.7 289.7h0M96.3 294.1h0M81.5 280.1h0M81.2 282.1h0M69.3 286.3h0M68.1 298.5h0M87.7 271.2h0M94.2 266.3h0M99.9 264.2h0M86.3 295.3h0M92.9 287.8h0M91.7 290.2h0M75.2 283.4h0M85.7 291.5h0M90.5 291.1h0M77.0 297.2h0M91.0 290.8h0M93.7 288.0h0M97.0 290.8h0M85.7 276.9h0M74.9 283.6h0M85.0 286.0h0M103.8 293.9h0M99.4 299.1h0M78.8 288.8h0M83.9 296.1h0M77.2 273.9h0M75.9 293.7h0M86.9 274.5h0M102.1 260.4h0M92.9 284.6h0M88.1 268.1h0M78.2 296.8h0M83.2 276.1h0M81.1 287.7h0M81.7 275.4h0M80.9 269.4h0M76.0 273.2h0M83.3 270.1h0M75.4 291.9h0M84.1 271.0h0M78.3 272.6h0M86.6 279.9h0M90.7 274.9h0M94.7 294.6h0M79.7 274.7h0M93.6 298.1h0M75.3 279.7h0M81.0 270.6h0M80.5 296.3h0M79.8 262.7h0M72.0 274.8h0M81.5 280.7h0M88.8 286.7h0M82.4 297.0h0M87.3 286.0h0M90.5 283.3h0M99.6 278.0h0M105.0 285.4h0M81.9 291.8h0M71.1 269.0h0M79.1 283.7h0M75.1 292.7h0M81.5 293.9h0M88.8 281.5h0M75.0 272.9h0M77.0 283.8h0M84.5 277.4h0M85.8 293.4h0M82.9 278.2h0M78.7 270.1h0M83.1 280.8h0M80.1 288.1h0M77.5 273.6h0M86.6 291.9h0M82.4 284.0h0M88.2 297.1h0M82.8 286.2h0M97.2 288.6h0M87.1 297.9h0M99.4 298.8h0M79.6 279.7h0M87.6 296.3h0M75.1 289.1h0M81.9 269.0h0M94.3 276.9h0M74.3 280.3h0M87.9 264.6h0M85.5 294.0h0M69.5 273.1h0M90.8 276.1h0M68.2 290.2h0M86.3 278.1h0M89.9 288.8h0M92.0 296.6h0M85.7 296.0h0M89.3 279.7h0M71.1 288.4h0M84.4 277.0h0M83.7 269.4h0M78.4 287.9h0M73.4 283.0h0M80.4 301.6h0M80.3 273.6h0M78.2 290.1h0M114.2 287.5h0M90.9 296.4h0M79.8 269.9h0M84.0 271.4h0M76.1 282.1h0M83.5 268.2h0M86.7 286.8h0M78.9 267.0h0M91.1 292.4h0M79.4 292.9h0M80.9 282.4h0M81.3 289.5h0"/><path stroke="#ff7800" stroke-opacity="0.75" d="M72.6 275.9h0M83.2 293.9h0M81.0 287.3h0M85.2 284.3h0M78.7 282.1h0M86.3 269.4h0M86.4 276.0h0M85.0 281.3h0M81.5 273.3h0M90.0 297.7h0M77.8 278.2h0M72.7 277.6h0M84.4 281.8h0M85.3 288.1h0M86.3 300.0h0M82.4 283.2h0M79.3 285.3h0M85.9 274.6h0M92.3 294.9h0M94.7 283.2h0M93.1 276.1h0M83.1 289.5h0M80.6 298.3h0M84.7 291.3h0M93.8 278.3h0M75.6 275.6h0M91.0 280.3h0M93.1 269.7h0M87.9 292.5h0M75.0 280.9h0M108.5 276.9h0M88.0 277.6h0M80.9 293.3h0M104.6 259.8h0M92.1 287.2h0M100.3 293.1h0M78.4 289.7h0M92.9 292.5h0M78.7 290.8h0M80.3 288.0h0M77.4 265.2h0M80.3 277.8h0M86.0 273.0h0M86.9 275.3h0M80.4 278.5h0M73.1 272.2h0M86.0 279.4h0M77.0 281.9h0M85.7 294.7h0M88.8 290.9h0M93.1 294.8h0M103.2 307.8h0M80.2 279.9h0M78.3 274.4h0M85.6 289.4h0M79.8 278.3h0M86.6 288.3h0M95.0 292.9h0M73.9 290.9h0M75.4 296.0h0M72.0 275.2h0M74.8 278.0h0M75.9 290.5h0M79.8 281.1h0M78.0 265.5h0M84.0 295.2h0M80.8 268.9h0M92.3 268.7h0M76.5 275.7h0M89.1 289.9h0M83.1 283.0h0M78.1 278.0h0M76.9 287.8h0M83.1 275.2h0M79.6 267.1h0M83.2 282.0h0M86.9 274.1h0M81.1 274.5h0M78.9 272.2h0M87.8 285.1h0M93.2 298.5h0M92.6 295.7h0M77.9 275.4h0M80.5 295.3h0M73.4 290.6h0M75.7 271.8h0M90.1 296.5h0M86.4 297.9h0M86.2 280.7h0M82.1 281.5h0M89.9 286.8h0M82.4 281.0h0M72.6 280.8h0M96.3 284.3h0M74.1 286.3h0M99.0 278.9h0M79.5 294.9h0M90.3 278.9h0M71.4 271.8h0M86.3 294.6h0M79.7 273.3h0M99.4 285.7h0M97.8 285.4h0M84.8 283.2h0M83.9 293.3h0M96.9 281.4h0M88.5 270.6h0M86.3 277.8h0M76.1 292.3h0M102.3 297.7h0M80.4 284.4h0M81.2 273.7h0M87.1 278.5h0M102.2 283.6h0M80.4 287.0h0M73.4 281.2h0M86.1 285.6h0M93.1 267.4h0M84.5 267.1h0M66.1 271.5h0M82.6 295.1h0M91.1 276.5h0M82.3 293.6h0M90.6 281.1h0M86.1 273.6h0M84.0 282.8h0M78.7 276.2h0M94.7 290.4h0M86.5 273.9h0M87.6 294.6h0M78.7 268.2h0M76.7 277.9h0M90.9 289.6h0M73.8 273.1h0M87.8 276.8h0M75.4 291.6h0M74.8 274.7h0M77.4 285.9h0M84.7 275.2h0M78.2 304.3h0M82.4 280.6h0M91.1 290.7h0M75.6 272.9h0M76.6 267.0h0M93.5 273.1h0M83.6 291.3h0M82.4 292.5h0M93.5 294.6h0M79.0 280.4h0M97.8 282.1h0M75.9 293.0h0M80.8 281.2h0M78.8 292.6h0M85.8 294.2h0M91.3 301.2h0M85.6 289.0h0M79.9 281.1h0M70.8 284.5h0M94.8 289.7h0M92.7 271.5h0M77.4 301.9h0M91.3 282.8h0M90.5 277.6h0M87.1 290.5h0M74.5 295.0h0M83.5 288.5h0M104.3 276.3h0M80.5 272.4h0M86.3 290.0h0M75.2 287.8h0M83.5 296.0h0M81.2 270.6h0M90.4 293.4h0M82.4 288.5h0M77.7 271.8h0M85.1 273.1h0M77.2 273.5h0M100.1 293.3h0M80.5 289.3h0M82.0 277.0h0M91.5 287.4h0M86.9 290.0h0M87.4 276.0h0M86.0 278.6h0M92.0 275.6h0M76.4 276.6h0M94.2 288.8h0M83.6 275.1h0M87.1 289.1h0M91.0 293.0h0M80.7 284.1h0M103.3 262.6h0M78.4 271.8h0M84.2 275.5h0M82.2 269.1h0M85.1 289.4h0M79.4 301.1h0M86.8 274.2h0M71.6 284.6h0M101.9 294.1h0M86.7 295.3h0M73.2 278.6h0M87.2 287.9h0M88.9 292.5h0M99.9 288.7h0M66.5 274.2h0M90.8 287.2h0M89.3 274.8h0M78.8 289.1h0M71.0 283.7h0M98.1 268.5h0M83.3 267.4h0M95.4 304.2h0M78.4 295.1h0M79.4 298.7h0M70.6 290.1h0M92.9 279.0h0M81.9 302.3h0M95.7 291.3h0M74.4 289.5h0M79.5 273.2h0M74.8 281.9h0M71.5 295.0h0M70.8 273.8h0M81.3 272.7h0M72.2 293.0h0M80.0 271.4h0M81.3 285.5h0M89.5 277.6h0M91.2 281.2h0M80.6 276.5h0M88.9 291.3h0M75.6 288.3h0M83.5 292.1h0M94.3 306.4h0M80.4 289.3h0M82.4 293.3h0M76.8 273.5h0M109.6 289.7h0M84.7 284.3h0M81.0 270.3h0M81.7 280.4h0M84.1 271.6h0M91.9 277.3h0M79.4 269.2h0M93.3 292.9h0M82.1 289.8h0M85.6 267.2h0M79.8 286.6h0M79.6 279.1h0M100.0 277.2h0M90.5 286.4h0M79.9 266.2h0M79.3 299.1h0M86.1 264.3h0M69.6 279.6h0M87.4 294.7h0M80.4 285.6h0M86.0 297.3h0M93.9 275.4h0M93.0 286.2h0M87.6 285.5h0M76.7 278.5h0M90.5 274.5h0M83.7 298.4h0M90.6 281.1h0M101.4 277.6h0M93.7 296.8h0M85.5 274.0h0M92.3 284.7h0M91.3 276.0h0M73.0 280.6h0M87.4 273.4h0M70.6 274.1h0M93.2 275.4h0M98.4 291.3h0M90.0 293.1h0M77.2 283.2h0M91.6 284.1h0M79.7 280.1h0M81.5 273.8h0M86.0 275.6h0M87.8 274.5h0M77.1 277.5h0M90.7 293.7h0M89.6 277.0h0M92.7 296.4h0M72.6 295.3h0M79.9 289.5h0M90.3 281.6h0M91.0 297.4h0M82.8 264.6h0M79.8 277.7h0M86.0 285.8h0M83.8 276.2h0M95.1 295.0h0M74.4 270.6h0M78.7 270.9h0M76.1 294.3h0M81.9 296.4h0M84.0 277.0h0M68.7 278.5h0M74.1 279.9h0M93.3 291.0h0M77.6 290.8h0M74.6 276.1h0M84.6 270.9h0M82.6 292.0h0M86.2 282.8h0M95.1 293.5h0M80.1 274.5h0M77.0 279.8h0M68.2 275.0h0M81.8 294.3h0M77.5 282.7h0M73.5 281.4h0M100.8 265.0h0M83.3 289.7h0M77.2 275.3h0M81.0 279.5h0M83.7 279.1h0M85.6 278.6h0M75.5 292.8h0M76.6 271.6h0M85.8 286.4h0M89.2 291.9h0M88.6 290.3h0M92.5 288.0h0M99.4 296.1h0M74.8 268.7h0M81.0 278.0h0M72.6 293.5h0M97.7 264.7h0M80.2 278.2h0M77.7 293.9h0M80.3 283.3h0M81.4 301.9h0M70.4 274.0h0M87.4 287.3h0M81.8 294.1h0M95.1 287.2h0M81.8 292.1h0M87.9 280.4h0M88.1 273.0h0M78.9 290.3h0M85.3 263.0h0M87.2 291.5h0M80.3 289.4h0M85.5 293.7h0M90.8 273.5h0M87.0 286.0h0M85.9 281.5h0M84.1 276.7h0M87.8 298.9h0M73.3 289.4h0M79.6 294.8h0M84.1 277.6h0M73.7 267.8h0M83.0 289.9h0M72.5 271.4h0M83.3 271.4h0M90.5 281.1h0M86.0 298.5h0M74.1 293.6h0M72.2 278.3h0M73.9 277.2h0M84.1 277.3h0M96.6 277.5h0M95.2 288.4h0M90.9 291.1h0M80.4 285.6h0M86.7 278.2h0M85.3 293.5h0M77.2 296.1h0M85.7 286.5h0M87.9 282.9h0M79.2 295.5h0M89.3 289.2h0M87.5 286.7h0M76.1 294.8h0M77.2 269.6h0M116.2 279.8h0M79.3 274.2h0M85.7 303.7h0M91.6 291.9h0M75.3 299.2h0M86.3 267.8h0M79.0 270.4h0M89.5 273.0h0M101.7 295.7h0M74.5 293.6h0M80.9 290.0h0M86.1 292.2h0M93.7 285.6h0M102.0 280.1h0M84.5 270.9h0M80.2 278.8h0M92.6 270.6h0M77.2 299.5h0M91.7 300.4h0M80.1 299.1h0M80.0 268.8h0M96.0 298.2h0M74.8 283.4h0M75.6 274.9h0M85.8 274.9h0M78.5 277.5h0M81.9 267.5h0M78.3 267.6h0M82.4 283.5h0M77.8 289.2h0M80.8 289.0h0M87.0 292.9h0M77.5 273.8h0M90.3 281.0h0M93.0 287.0h0M76.4 287.1h0M73.9 282.5h0M86.0 277.0h0M83.8 282.5h0M95.9 282.0h0M85.7 280.2h0M90.1 276.7h0M77.9 298.9h0M89.6 274.5h0M93.1 295.7h0M85.6 299.6h0M84.1 272.7h0M81.5 271.9h0M96.0 283.3h0M75.7 296.5h0M76.0 300.5h0M74.2 274.5h0M92.3 281.9h0M89.6 286.0h0M89.1 273.7h0M88.5 268.9h0M86.5 270.8h0M83.0 277.1h0M90.8 290.7h0M89.6 299.7h0M65.5 272.2h0M88.8 289.7h0M79.4 289.1h0M89.6 287.1h0M90.5 271.7h0M83.1 293.4h0M83.5 298.8h0M98.4 282.2h0M78.0 282.8h0M80.2 278.5h0M81.8 282.8h0M82.7 274.2h0M103.6 267.5h0M71.5 271.7h0M84.0 280.4h0M83.1 282.6h0"/><path stroke="#ff7800" stroke-opacity="0.92" d="M73.7 268.6h0M71.9 280.8h0M79.1 280.3h0M83.4 290.1h0M85.8 272.3h0M85.3 282.6h0M79.6 272.0h0M89.2 272.0h0M90.2 284.9h0M74.9 276.5h0M72.1 283.6h0M83.7 300.5h0M81.1 281.7h0M93.8 269.5h0M80.3 275.0h0M85.6 298.0h0M85.1 288.2h0M95.8 300.0h0M81.6 290.7h0M86.7 271.8h0M78.4 276.4h0M80.5 274.8h0M105.2 293.2h0M99.3 272.9h0M88.6 290.3h0M74.5 277.8h0M76.6 275.1h0M75.8 286.0h0M73.8 275.8h0M94.8 289.9h0M80.0 277.5h0M91.3 292.6h0M81.9 277.7h0M71.6 288.7h0M78.4 271.2h0M75.9 288.4h0M86.3 294.6h0M69.9 289.5h0M84.1 272.3h0M88.9 280.8h0M94.3 274.0h0M86.6 268.6h0M89.1 286.5h0M84.9 273.0h0M73.6 273.2h0M84.5 274.7h0M78.8 277.2h0M83.6 281.9h0M93.9 296.0h0M92.2 278.6h0M91.8 270.7h0M84.5 273.6h0M83.0 277.8h0M82.4 290.3h0M92.1 266.4h0M82.5 286.2h0M91.5 267.5h0M80.4 291.9h0M87.2 269.3h0M82.0 281.9h0M90.4 274.9h0M79.8 290.6h0M77.2 278.0h0M95.7 270.3h0M82.6 276.9h0M87.1 296.0h0M79.3 302.3h0M78.2 281.1h0M70.1 271.1h0M75.7 290.4h0M91.3 291.6h0M82.3 276.4h0M74.6 289.2h0M73.7 294.3h0M87.2 273.5h0M72.9 280.5h0M76.1 268.7h0M77.0 296.4h0M111.2 294.9h0M69.9 293.9h0M85.7 285.6h0M76.7 286.4h0M69.9 272.2h0M69.9 282.7h0M87.3 283.9h0M90.2 282.7h0M83.2 281.9h0M83.1 286.6h0M84.4 289.4h0M77.9 275.1h0M69.7 292.8h0M85.0 294.3h0M88.7 282.7h0M88.9 274.4h0M93.8 293.1h0M83.9 271.1h0M85.4 281.0h0M83.6 285.9h0M71.1 287.0h0M86.2 285.7h0M82.4 284.5h0M82.2 301.0h0M98.0 276.5h0M85.8 290.0h0M84.6 291.0h0M81.8 270.5h0M77.4 288.5h0M88.7 283.9h0M85.1 282.0h0M69.2 290.9h0M75.0 266.7h0M95.2 295.4h0M81.3 298.4h0M88.8 295.7h0M84.8 268.0h0M80.2 273.8h0M76.3 283.2h0M75.9 273.0h0M72.0 266.9h0M87.2 279.6h0M76.9 271.6h0M93.5 291.7h0M93.0 284.3h0M106.1 270.3h0M71.5 291.5h0M75.3 270.8h0M78.3 303.4h0M87.2 279.7h0M86.7 272.1h0M83.4 282.8h0M82.5 284.1h0M68.0 289.1h0M87.8 283.4h0M79.2 288.1h0M77.8 302.1h0M81.4 297.3h0M82.0 274.2h0M90.0 284.2h0M68.3 275.8h0M80.6 277.2h0M80.6 270.1h0M78.2 276.9h0M75.6 289.8h0M88.7 275.7h0M83.8 291.8h0M88.2 299.4h0M97.4 287.3h0M83.0 272.5h0M87.6 291.6h0M79.9 294.8h0M96.5 279.0h0M89.5 293.9h0M91.0 273.5h0M70.7 280.3h0M97.8 268.2h0M91.2 282.1h0M90.3 273.9h0M96.0 289.7h0M82.9 300.4h0M110.0 271.4h0M90.0 280.5h0M83.8 294.3h0M87.3 276.7h0M75.6 298.1h0M73.1 289.1h0M80.1 274.7h0M74.4 273.5h0M111.1 280.7h0M77.9 274.9h0M70.0 286.7h0M79.7 270.4h0M94.9 269.5h0M78.2 285.1h0M69.7 289.5h0M81.3 284.1h0M87.7 271.4h0M82.8 270.4h0M83.0 286.2h0M86.4 278.6h0M93.8 286.8h0M91.1 277.6h0M96.6 281.5h0M69.4 272.5h0M77.3 274.4h0M86.9 291.3h0M101.5 285.2h0M90.5 278.6h0M81.3 302.6h0M73.1 267.5h0M86.1 267.6h0M85.8 293.6h0M85.5 277.9h0M91.2 277.5h0M78.6 290.6h0M88.4 270.7h0M98.1 291.1h0M103.7 279.7h0M75.0 277.9h0M76.8 297.1h0M85.4 279.1h0M99.2 275.0h0M87.4 285.9h0M75.6 278.7h0M88.4 292.1h0M105.1 277.4h0M94.7 271.7h0M83.3 273.7h0M89.5 293.4h0M86.2 284.4h0M99.9 272.8h0M88.3 289.0h0M80.4 275.1h0M78.1 295.4h0M69.2 276.7h0M86.1 294.9h0M80.3 287.7h0M108.1 282.6h0M81.2 283.9h0M92.2 293.5h0M79.3 278.8h0M84.7 264.0h0M95.2 293.8h0M87.2 281.8h0M77.4 278.5h0M86.0 287.5h0M77.8 277.1h0M86.4 285.0h0M84.3 286.6h0M83.1 269.3h0M90.6 282.2h0M81.5 295.6h0M97.7 276.2h0M86.5 296.0h0M80.1 277.2h0M101.3 283.0h0M68.0 293.0h0M76.3 278.4h0M82.9 290.8h0M85.6 283.5h0M98.7 287.2h0M83.8 300.0h0M83.8 279.0h0M71.1 267.2h0M82.4 268.6h0M86.2 297.4h0M71.7 273.3h0M95.9 297.9h0M106.5 301.7h0M81.0 294.5h0M86.9 290.8h0M82.3 282.5h0M85.3 304.9h0M83.1 295.8h0M91.4 296.8h0M84.9 288.0h0M85.9 271.3h0M86.5 284.8h0M89.6 301.8h0M81.1 279.5h0M79.7 279.9h0M83.4 282.5h0M87.6 276.4h0M87.6 290.3h0M95.0 271.1h0M89.7 290.0h0M88.8 274.3h0M77.2 278.4h0M109.4 297.5h0M85.3 267.4h0M79.2 290.4h0M72.8 273.6h0M93.1 287.4h0M76.8 281.3h0M87.4 273.2h0M86.7 281.7h0M85.5 298.0h0M76.4 277.4h0M82.1 296.5h0M74.3 292.3h0M92.2 279.2h0M76.9 284.9h0M103.5 295.6h0M75.2 272.9h0M68.8 274.1h0M64.3 279.1h0M87.1 286.4h0M85.9 284.9h0M78.8 272.9h0M75.1 278.9h0M85.8 291.2h0M78.3 270.8h0M92.9 296.8h0M77.9 276.3h0M83.7 279.6h0M65.6 276.4h0M89.8 274.4h0M83.6 282.7h0M78.1 278.9h0M74.0 273.1h0M84.3 271.7h0M81.1 279.0h0M92.5 287.3h0M85.1 279.2h0M85.1 269.1h0M84.8 287.8h0M87.0 292.9h0M98.6 260.7h0M101.0 278.2h0M82.3 276.5h0M85.0 283.7h0M80.9 282.9h0M72.3 278.8h0M77.1 282.6h0M81.8 288.6h0M96.5 278.7h0M84.5 270.4h0M68.9 273.7h0M71.2 281.3h0M81.2 284.9h0M82.6 278.9h0M92.9 270.4h0M93.5 291.0h0M74.2 291.5h0M86.8 284.9h0M90.8 297.4h0M94.9 284.6h0M87.9 294.2h0M87.1 292.8h0M87.3 281.4h0M77.4 284.9h0M70.2 284.4h0M88.4 287.8h0M81.0 274.1h0M88.1 293.2h0M74.8 272.9h0M68.2 299.5h0M87.2 287.4h0M88.3 272.4h0M83.8 268.5h0M85.3 297.1h0M91.7 292.3h0M86.1 265.8h0M86.5 284.9h0M88.3 291.3h0M83.4 292.1h0M103.9 281.1h0M84.6 288.9h0M76.6 285.6h0M81.2 282.3h0M99.6 283.9h0M85.3 287.8h0M87.2 276.3h0M79.5 293.3h0M79.4 290.7h0M73.3 279.2h0M69.1 271.3h0M81.3 289.2h0M91.6 297.1h0M89.5 272.1h0M79.7 274.5h0M78.4 280.5h0M90.2 283.6h0M83.9 279.9h0M81.5 272.0h0M85.4 270.5h0M87.3 272.8h0M87.3 297.5h0M90.6 276.9h0M79.0 283.4h0M77.2 279.2h0M90.1 285.8h0M87.6 283.1h0M78.4 271.0h0M74.5 288.2h0M88.8 298.7h0M82.8 279.3h0M85.8 289.8h0M111.4 287.3h0M76.2 271.9h0M76.2 295.8h0M84.8 277.0h0M82.8 302.0h0M96.3 286.5h0M90.5 278.7h0M88.4 276.4h0M91.7 265.1h0M96.1 286.2h0M79.2 285.8h0M94.5 275.1h0M96.5 289.0h0M83.5 298.2h0M75.4 289.0h0M80.9 283.9h0M84.9 278.0h0M75.6 296.8h0M86.3 277.6h0M84.2 279.0h0M81.2 291.0h0M75.8 274.5h0M88.1 279.2h0M91.8 272.6h0M89.5 270.7h0M77.6 284.6h0M81.8 284.2h0M91.2 297.1h0M68.8 282.0h0M93.6 288.4h0M88.8 293.9h0M86.4 289.9h0M85.1 286.1h0M82.4 271.0h0M82.5 275.9h0M78.9 270.5h0M75.2 274.9h0M78.9 279.1h0M81.0 263.4h0M79.4 293.6h0M89.4 293.0h0M86.1 290.0h0M92.2 290.4h0M89.2 273.5h0M102.1 264.1h0M88.0 294.7h0M82.8 292.7h0M68.7 280.3h0M91.4 289.9h0M96.3 288.1h0M98.7 288.8h0M70.9 279.8h0M86.6 292.3h0M73.7 303.6h0M70.7 277.7h0M94.5 275.5h0M86.0 273.9h0M73.8 275.8h0M79.0 287.0h0M83.6 282.5h0M76.0 279.5h0M88.4 274.2h0M82.0 296.9h0M77.9 291.9h0M72.6 273.1h0M82.7 267.8h0M93.7 272.5h0M75.0 295.0h0M90.2 271.5h0M80.0 270.0h0M79.5 292.0h0M85.0 289.0h0M98.2 300.2h0M79.4 301.5h0M73.3 290.6h0M94.1 299.9h0M94.5 295.2h0M83.1 282.7h0M82.1 273.7h0M80.3 277.4h0"/></g>
<g stroke-width="2.60" stroke-linecap="round"><path stroke="#0071bf" stroke-opacity="0.58" d="M234.3 301.9h0M270.5 303.4h0M231.2 306.0h0M232.6 303.3h0M231.7 304.9h0M235.2 304.1h0M237.6 299.9h0M260.1 271.2h0M241.6 302.7h0M251.5 281.7h0M234.5 306.1h0M236.2 300.7h0M258.2 296.5h0M236.0 302.9h0M253.0 298.0h0M235.3 305.4h0M237.3 304.3h0M255.4 304.2h0M234.9 304.0h0M249.6 283.5h0M252.0 302.3h0M250.3 299.9h0M250.3 295.8h0M245.0 300.7h0M243.0 300.2h0M250.8 282.5h0M262.1 302.7h0M260.9 270.1h0M241.9 298.7h0M265.9 294.0h0M251.7 301.3h0M255.1 305.2h0M235.1 304.1h0M232.8 304.9h0M240.9 303.1h0M248.9 306.3h0M231.8 304.2h0M253.6 296.5h0M269.9 301.1h0M261.4 295.5h0M249.0 298.6h0M245.5 289.1h0M244.2 297.5h0M246.4 301.3h0M233.6 303.5h0M259.7 295.9h0M245.2 299.2h0M246.8 299.1h0M261.8 269.3h0M253.4 301.6h0M230.9 305.8h0M237.7 303.8h0M232.3 303.7h0M248.8 303.9h0M255.1 291.1h0M237.8 298.4h0M251.6 293.2h0M234.0 303.2h0M247.1 296.2h0M255.0 291.2h0M243.4 297.7h0M243.2 301.5h0M232.2 303.8h0M232.0 306.1h0M267.5 303.9h0M248.2 296.6h0M254.9 296.6h0M248.5 285.5h0M249.7 303.0h0M248.3 284.8h0M239.9 299.3h0M259.7 297.4h0M233.8 302.4h0M237.8 302.6h0M234.1 302.9h0M261.1 270.0h0M243.2 301.7h0M246.3 294.7h0M233.3 303.6h0M231.4 305.1h0M257.9 273.4h0M244.6 298.0h0M240.5 301.8h0M232.8 302.2h0M245.1 297.8h0M231.2 305.2h0M231.8 306.1h0M233.5 302.1h0M267.7 297.2h0M237.0 304.3h0M265.2 298.8h0M253.8 279.3h0M236.1 305.3h0M262.2 294.9h0M242.0 299.8h0M234.8 306.6h0M257.7 298.3h0M248.3 284.5h0M269.5 297.1h0M238.9 303.4h0M243.4 297.9h0M242.1 303.2h0M261.2 293.6h0M246.3 298.1h0M234.0 304.4h0M232.8 305.3h0M266.6 292.8h0M240.9 297.6h0M261.4 303.7h0M247.8 305.7h0M232.4 305.3h0M237.3 298.0h0M231.5 305.8h0M247.0 299.2h0M249.6 304.5h0M266.2 299.0h0M252.1 292.0h0M253.4 300.5h0M264.9 305.4h0M260.4 298.7h0M263.2 267.1h0M257.8 303.3h0M256.0 302.1h0M252.2 280.3h0M259.5 294.7h0M263.3 298.7h0M240.5 299.8h0M252.9 295.7h0M246.2 301.3h0M257.7 303.1h0M230.8 304.9h0M233.9 304.5h0M234.1 303.1h0M255.8 276.3h0M258.4 292.9h0M237.6 300.6h0M242.4 300.6h0M267.2 292.8h0M260.8 292.5h0M259.0 293.5h0M242.6 294.2h0M238.7 296.0h0M239.1 301.0h0M269.2 293.7h0M257.3 302.1h0M256.2 275.9h0M248.4 291.7h0M250.2 294.5h0M234.5 304.5h0M231.0 305.8h0M241.4 303.8h0M233.5 302.7h0M268.7 293.8h0M236.3 304.3h0M251.8 290.6h0M245.3 298.4h0M270.7 295.5h0M263.0 291.7h0M241.9 297.2h0M230.9 305.5h0M244.9 295.1h0M236.6 303.8h0M266.5 291.2h0M232.7 303.7h0M256.0 293.7h0M256.8 302.7h0M242.3 295.0h0M240.1 296.1h0M251.6 302.5h0M232.6 304.9h0M268.3 299.0h0M245.6 301.5h0M245.2 298.8h0M253.6 301.2h0M264.2 298.5h0M245.2 293.5h0M245.5 289.0h0M257.0 301.0h0M244.9 306.9h0M231.3 306.2h0M261.6 299.2h0M254.4 296.5h0M241.8 300.5h0M242.5 302.7h0M266.2 301.4h0M239.8 301.3h0M259.6 300.9h0M261.2 292.2h0M258.5 301.6h0M270.9 297.3h0M233.0 305.5h0M239.6 300.0h0M236.1 301.6h0M268.1 292.5h0M252.6 296.4h0M269.0 296.8h0M241.7 297.2h0M250.9 281.6h0M243.0 296.3h0M252.6 292.9h0M235.0 302.5h0M234.2 300.7h0M256.5 303.4h0M255.8 303.2h0M250.5 282.3h0M231.9 304.9h0M247.5 295.7h0M241.8 304.1h0M262.5 293.4h0M250.5 304.6h0M252.5 293.0h0M264.9 289.9h0M254.6 294.1h0M257.5 274.2h0M231.4 305.7h0M256.3 290.2h0M262.8 292.7h0M233.5 301.8h0M234.3 302.2h0M256.7 295.2h0M259.4 271.7h0M262.6 300.5h0M252.5 291.9h0M233.2 303.9h0M236.9 303.8h0M270.0 298.6h0M263.6 267.0h0M260.1 293.9h0M270.1 300.8h0M247.2 287.0h0M238.8 302.0h0M241.2 304.1h0M237.6 300.8h0M248.9 297.1h0M241.3 303.1h0M250.0 299.4h0M238.9 301.3h0M239.8 301.9h0M269.7 291.4h0M243.7 302.6h0M231.6 303.7h0M251.4 281.9h0M260.0 300.6h0M246.7 287.1h0M260.1 270.6h0M268.8 302.2h0M231.9 305.2h0M240.3 302.9h0M253.0 279.6h0M231.0 306.1h0M256.8 298.8h0M267.6 295.9h0M250.8 293.9h0M240.0 299.3h0M234.9 305.6h0M270.7 293.1h0M246.7 302.1h0M260.6 295.9h0M252.1 304.7h0M239.0 300.7h0M243.3 298.6h0M256.0 291.4h0M265.9 301.8h0M237.2 304.6h0M261.5 302.3h0M245.3 298.8h0M252.1 294.5h0M253.9 278.4h0M236.8 305.6h0M236.4 297.7h0M231.5 304.7h0M246.3 287.2h0M236.4 303.9h0M250.8 290.9h0M253.5 304.2h0M238.6 297.6h0M240.4 299.6h0M232.5 303.2h0M244.3 301.3h0M259.4 291.0h0M231.3 305.4h0M260.1 292.5h0M235.5 300.1h0M268.2 299.3h0M239.8 300.6h0M232.6 304.7h0M266.4 303.9h0M235.9 303.0h0M259.6 295.5h0M257.2 296.8h0M240.1 304.2h0M238.8 298.9h0M260.6 298.5h0M261.6 290.0h0M248.0 291.0h0M247.3 295.0h0M234.9 300.3h0M270.2 303.7h0M230.3 306.6h0M259.0 294.6h0M259.8 303.2h0M242.7 305.0h0M261.1 300.9h0M249.0 303.2h0M236.1 300.5h0M249.8 301.4h0M253.7 291.4h0M256.1 302.4h0M262.3 268.4h0M235.1 301.5h0M266.5 302.7h0M247.8 304.1h0M251.6 299.5h0M238.7 304.3h0M242.2 301.3h0M233.0 305.0h0M245.6 296.9h0M232.8 305.1h0M245.0 294.2h0M258.7 273.3h0M233.9 305.3h0M255.7 300.1h0M231.1 305.1h0M245.5 306.4h0M260.0 296.3h0M243.9 303.7h0M243.6 305.1h0M256.5 295.9h0M262.3 301.3h0M253.0 303.8h0M258.7 298.2h0M263.8 300.1h0M237.1 301.5h0M259.3 271.8h0M246.1 294.2h0M244.1 299.3h0M263.1 301.6h0M260.5 303.0h0M235.9 304.2h0M241.6 300.8h0M237.1 303.9h0M266.4 294.7h0M267.0 291.0h0M232.0 304.7h0M253.6 291.4h0M231.6 304.8h0M249.5 294.5h0M262.7 303.1h0M262.5 294.5h0M263.0 267.4h0M232.8 306.5h0M256.1 292.9h0M250.6 293.1h0M234.9 305.1h0M259.4 300.8h0M258.1 293.4h0M247.6 298.7h0M230.9 306.0h0M241.4 298.3h0M242.2 302.2h0M251.9 303.1h0M233.7 303.2h0M249.7 293.5h0M262.7 293.9h0M263.4 295.4h0M252.1 297.6h0M250.5 283.3h0M242.3 302.1h0M246.7 298.9h0M232.4 302.9h0M241.6 297.9h0M232.9 305.3h0M262.1 268.6h0M262.6 298.2h0M255.2 304.7h0M252.1 292.8h0M235.0 305.4h0"/><path stroke="#0071bf" stroke-opacity="0.75" d="M236.8 298.5h0M243.6 306.3h0M263.3 302.0h0M270.5 300.0h0M237.6 298.3h0M246.0 300.3h0M237.0 301.3h0M263.7 291.3h0M257.1 302.1h0M233.5 306.2h0M260.7 302.1h0M251.3 303.7h0M240.2 298.5h0M258.3 273.2h0M247.3 296.8h0M257.2 290.8h0M234.5 306.2h0M231.8 306.0h0M267.0 295.0h0M265.5 291.3h0M231.0 305.2h0M243.1 303.4h0M254.9 301.3h0M261.1 290.1h0M231.4 304.4h0M244.9 301.6h0M247.5 292.6h0M261.5 302.0h0M246.7 287.4h0M230.7 305.7h0M242.2 299.0h0M248.8 285.1h0M248.5 296.6h0M258.3 295.0h0M248.1 300.0h0M233.7 302.0h0M237.8 299.6h0M269.1 298.0h0M256.5 303.2h0M253.7 303.5h0M259.6 304.7h0M248.7 292.0h0M238.4 304.2h0M258.1 300.9h0M263.9 305.2h0M263.6 291.8h0M257.7 299.8h0M258.0 299.1h0M247.9 306.4h0M253.3 300.9h0M236.0 299.8h0M239.8 306.0h0M245.7 292.9h0M246.8 303.7h0M261.6 269.1h0M250.6 292.8h0M262.7 304.5h0M268.8 290.7h0M246.0 302.6h0M257.5 303.4h0M239.8 306.9h0M243.5 293.1h0M255.8 298.3h0M234.2 303.6h0M268.9 301.4h0M259.2 299.6h0M251.4 304.5h0M241.2 295.6h0M247.4 306.1h0M231.7 305.5h0M242.6 306.4h0M248.7 305.6h0M263.3 290.0h0M235.5 304.9h0M233.3 305.6h0M260.1 297.7h0M240.4 301.7h0M236.6 306.4h0M235.8 305.8h0M261.0 270.2h0M255.6 292.0h0M253.1 298.7h0M231.0 305.8h0M249.0 294.3h0M266.5 295.1h0M242.7 295.4h0M237.4 300.0h0M268.8 299.1h0M260.0 297.2h0M240.7 297.2h0M245.7 304.4h0M232.2 303.5h0M240.5 305.5h0M256.4 275.6h0M270.5 296.0h0M270.9 294.5h0M233.0 305.4h0M232.0 305.2h0M253.8 293.8h0M238.1 303.9h0M239.3 297.9h0M252.7 280.3h0M252.2 280.9h0M235.6 301.8h0M269.2 300.0h0M260.3 301.2h0M238.3 298.6h0M267.8 299.1h0M260.9 304.6h0M255.7 294.4h0M236.4 305.3h0M237.6 301.3h0M256.1 276.0h0M261.2 269.7h0M234.4 306.0h0M266.8 296.6h0M252.5 280.3h0M269.0 297.3h0M231.1 306.0h0M237.7 299.8h0M263.5 298.5h0M239.6 304.1h0M261.0 290.5h0M265.1 302.7h0M237.0 304.1h0M248.9 306.4h0M256.4 298.3h0M257.9 302.4h0M250.3 296.7h0M243.2 304.6h0M247.3 292.9h0M253.7 294.7h0M235.6 304.5h0M244.8 294.3h0M246.5 301.1h0M255.8 294.7h0M243.4 298.7h0M251.4 305.6h0M255.3 302.0h0M240.4 295.4h0M244.7 297.5h0M254.9 301.6h0M248.6 294.5h0M247.8 306.6h0M247.3 295.2h0M242.3 295.8h0M263.6 267.0h0M240.8 305.7h0M261.6 289.8h0M270.2 293.8h0M265.2 296.7h0M261.0 289.8h0M250.3 294.7h0M242.5 297.5h0M232.6 304.4h0M259.8 296.1h0M265.9 302.0h0M255.6 277.1h0M237.2 305.9h0M239.1 297.4h0M269.4 298.4h0M240.4 300.2h0M237.9 300.6h0M241.7 306.3h0M242.2 299.8h0M267.5 297.6h0M250.1 302.4h0M232.7 304.0h0M242.5 295.5h0M267.7 293.4h0M234.9 301.3h0M233.0 304.5h0M242.4 305.5h0M248.5 285.1h0M259.4 294.3h0M264.5 294.5h0M255.9 303.8h0M235.8 299.0h0M250.3 303.6h0M233.9 306.7h0M265.3 300.7h0M251.2 297.4h0M231.9 303.8h0M268.4 300.8h0M231.1 305.8h0M265.2 301.2h0M237.4 302.7h0M235.0 306.3h0M255.9 276.3h0M238.8 298.5h0M270.0 290.4h0M246.5 287.4h0M234.2 303.0h0M264.3 304.2h0M263.5 291.1h0M234.4 301.8h0M251.7 302.3h0M231.2 305.3h0M258.4 303.6h0M259.8 271.5h0M263.7 291.4h0M231.1 306.6h0M258.0 304.6h0M268.7 298.3h0M266.2 293.8h0M260.3 270.8h0M263.3 267.2h0M267.2 299.2h0M237.4 297.7h0M265.8 301.6h0M258.7 294.0h0M265.7 292.7h0M268.2 301.2h0M231.7 305.0h0M240.0 303.7h0M234.2 302.5h0M250.9 282.8h0M245.2 300.6h0M237.1 305.6h0M234.1 300.8h0M232.4 304.6h0M234.1 304.8h0M233.9 303.9h0M266.3 293.1h0M260.1 294.4h0M261.9 299.8h0M259.3 303.6h0M264.1 303.2h0M246.2 288.0h0M230.1 305.3h0M243.2 302.6h0M236.3 301.4h0M243.3 296.0h0M232.6 303.4h0M256.2 302.6h0M237.1 299.9h0M232.7 302.9h0M249.1 283.9h0M269.7 300.7h0M253.0 279.1h0M231.4 304.6h0M262.2 294.2h0M241.7 305.8h0M233.9 302.4h0M241.9 295.1h0M231.3 306.1h0M253.1 303.8h0M237.0 300.9h0M237.1 297.6h0M238.8 302.9h0M266.7 298.5h0M260.6 303.3h0M235.8 305.3h0M251.3 294.2h0M233.4 302.7h0M267.9 292.2h0M262.5 299.1h0M260.6 291.9h0M231.8 304.6h0M231.8 305.6h0M262.1 268.7h0M254.8 277.6h0M239.8 300.1h0M254.1 290.8h0M244.7 296.3h0M234.6 305.4h0M240.1 301.4h0M237.3 299.9h0M243.6 296.2h0M248.9 292.6h0M250.9 300.3h0M231.2 305.3h0M256.8 301.2h0M266.5 290.6h0M265.9 304.2h0M261.3 269.5h0M262.4 300.8h0M266.9 303.6h0M243.1 301.2h0M259.9 271.5h0M235.9 300.5h0M231.3 305.7h0M231.9 305.7h0M251.5 304.8h0M263.1 267.6h0M238.9 306.7h0M241.1 304.7h0M253.4 305.7h0M267.5 292.6h0M261.5 269.1h0M231.7 305.8h0M264.3 302.6h0M247.7 301.5h0M260.4 292.5h0M262.4 299.5h0M237.5 302.0h0M264.4 302.3h0M256.1 290.1h0M270.2 298.8h0M252.3 294.5h0M266.8 291.4h0M253.0 293.1h0M242.9 306.5h0M266.2 298.7h0M253.6 298.4h0M269.6 290.8h0M260.2 300.5h0M239.2 302.3h0M265.6 292.8h0M242.6 297.5h0M264.4 298.2h0M241.3 299.3h0M262.2 268.1h0M234.1 301.7h0M242.9 293.9h0M247.8 303.1h0M248.9 284.4h0M232.7 302.4h0M244.2 306.4h0M235.5 305.3h0M258.4 295.9h0M256.3 275.6h0M259.4 290.8h0M260.8 293.6h0M266.6 299.9h0M263.3 303.5h0M231.2 306.4h0M258.5 295.2h0M244.5 295.3h0M260.8 290.0h0M251.6 297.1h0M231.0 306.1h0M251.9 298.3h0M266.7 294.3h0M231.4 305.6h0M231.5 305.8h0M247.5 306.5h0M259.6 292.5h0M244.2 304.3h0M239.4 304.8h0M235.4 300.2h0M255.3 302.2h0M245.6 288.2h0M253.7 298.3h0M256.0 275.9h0M230.9 306.0h0M234.7 305.1h0M232.8 302.4h0M258.0 296.6h0M247.9 297.3h0M242.2 302.6h0M258.9 302.4h0M250.4 300.6h0M254.9 298.8h0M252.7 300.9h0M260.7 303.6h0M234.5 301.3h0M248.7 285.7h0M270.1 290.0h0M256.3 275.9h0M255.7 298.9h0M268.0 298.2h0M246.0 305.7h0M230.9 305.3h0M260.8 294.4h0M256.8 299.8h0M263.2 294.4h0M253.3 279.6h0M251.1 295.5h0M255.0 296.0h0M236.8 306.7h0M234.2 299.8h0M262.7 267.9h0M266.2 298.3h0M261.4 269.2h0M255.9 296.8h0M258.2 273.4h0"/><path stroke="#0071bf" stroke-opacity="0.92" d="M264.2 301.4h0M262.4 268.0h0M249.4 294.8h0M244.9 293.5h0M233.2 303.7h0M238.3 301.6h0M260.0 296.2h0M237.8 301.5h0M256.9 295.3h0M239.4 303.3h0M235.6 300.6h0M237.4 305.3h0M247.8 303.7h0M252.7 303.0h0M259.0 304.0h0M260.6 269.9h0M237.8 305.3h0M239.3 299.5h0M249.4 296.2h0M249.7 284.2h0M241.5 295.1h0M232.4 305.0h0M269.0 302.5h0M262.8 295.3h0M236.0 298.9h0M244.6 300.0h0M240.1 300.4h0M256.1 297.5h0M257.1 274.8h0M248.2 300.4h0M251.7 303.9h0M251.5 293.0h0M235.1 299.8h0M249.5 292.8h0M265.0 299.9h0M231.3 305.8h0M255.9 293.6h0M230.9 304.7h0M251.8 296.8h0M234.3 301.3h0M257.3 274.5h0M239.0 300.3h0M256.0 289.9h0M233.4 303.4h0M244.0 301.1h0M258.9 301.9h0M265.9 300.9h0M256.4 290.9h0M251.0 299.2h0M236.2 303.7h0M232.1 304.6h0M259.9 293.5h0M257.3 301.4h0M253.0 296.4h0M263.8 295.8h0M257.6 274.5h0M258.2 294.2h0M246.5 293.7h0M237.3 304.5h0M247.4 286.5h0M248.9 284.5h0M268.6 295.4h0M253.5 300.3h0M234.3 304.5h0M231.6 305.1h0M232.6 301.9h0M239.0 296.1h0M257.0 295.9h0M255.9 276.7h0M264.7 299.4h0M247.9 286.7h0M242.5 301.2h0M245.4 293.8h0M267.5 291.0h0M250.5 281.9h0M250.1 295.4h0M250.5 293.0h0M232.8 303.6h0M253.7 294.3h0M243.5 298.5h0M236.6 301.1h0M250.9 303.5h0M243.4 305.8h0M235.9 305.3h0M250.2 300.2h0M248.3 283.7h0M238.4 299.7h0M237.2 304.9h0M258.5 297.5h0M238.8 302.8h0M258.3 290.7h0M248.1 284.4h0M264.6 302.8h0M249.9 294.7h0M247.1 287.4h0M235.7 300.0h0M241.3 296.1h0M248.2 294.1h0M248.9 285.0h0M233.0 302.8h0M237.4 304.1h0M243.8 293.8h0M241.8 306.5h0M235.1 300.8h0M268.3 290.0h0M241.0 298.7h0M268.4 291.1h0M242.2 301.5h0M261.5 294.8h0M232.1 305.8h0M240.0 303.5h0M233.3 303.9h0M260.1 296.8h0M246.7 301.1h0M253.7 279.3h0M234.4 302.4h0M259.8 301.0h0M263.8 299.7h0M263.8 304.5h0M242.8 298.0h0M247.3 306.0h0M243.8 293.5h0M249.2 300.0h0M246.5 294.6h0M260.7 270.2h0M263.1 290.5h0M250.8 297.8h0M244.4 304.7h0M262.9 267.8h0M237.9 301.8h0M251.7 282.3h0M261.7 293.7h0M268.7 297.8h0M258.1 302.8h0M260.5 293.2h0M255.0 299.5h0M246.1 304.6h0M241.5 302.4h0M241.4 295.1h0M244.8 300.6h0M260.0 295.9h0M239.8 301.9h0M238.6 304.8h0M251.9 297.1h0M253.8 279.0h0M261.7 294.1h0M257.8 295.4h0M242.1 304.1h0M249.0 305.5h0M262.1 268.4h0M251.7 291.3h0M261.7 268.9h0M266.0 301.6h0M236.4 305.5h0M245.1 296.8h0M247.3 286.4h0M234.5 300.7h0M248.1 296.0h0M260.8 300.2h0M232.5 304.7h0M266.0 294.4h0M270.1 299.8h0M239.5 300.4h0M258.1 304.6h0M248.0 296.5h0M240.9 306.2h0M256.8 302.0h0M246.7 299.6h0M249.7 291.3h0M254.4 291.4h0M238.6 304.4h0M255.7 276.3h0M263.0 299.1h0M269.4 302.8h0M234.1 300.9h0M248.1 296.7h0M234.1 300.9h0M237.0 297.7h0M244.7 294.4h0M234.1 304.6h0M239.7 298.1h0M262.4 268.7h0M255.6 294.3h0M231.6 304.9h0M232.4 301.7h0M236.5 298.9h0M268.6 296.5h0M256.1 304.5h0M261.7 294.3h0M265.4 295.0h0M233.7 301.0h0M265.5 302.6h0M235.1 304.5h0M258.6 305.4h0M240.6 306.6h0M233.7 305.8h0M255.5 277.1h0M258.2 300.6h0M268.0 295.4h0M231.5 305.6h0M239.7 299.7h0M265.3 303.7h0M232.2 302.5h0M253.9 296.5h0M231.0 306.0h0M253.3 302.2h0M268.1 303.0h0M254.1 305.8h0M249.6 296.3h0M244.2 306.1h0M256.4 275.4h0M269.8 296.2h0M265.0 302.4h0M255.6 275.9h0M267.7 294.6h0M237.7 301.1h0M269.2 296.2h0M238.4 298.9h0M262.9 305.3h0M242.2 295.9h0M233.4 303.6h0M252.9 279.2h0M263.2 267.7h0M244.2 304.3h0M257.3 305.7h0M242.2 293.5h0M244.7 306.7h0M249.3 295.7h0M262.3 292.4h0M247.2 299.6h0M247.0 296.8h0M249.2 297.3h0M258.2 273.4h0M244.2 298.6h0M253.4 305.3h0M255.1 299.5h0M258.6 294.4h0M242.4 302.7h0M244.5 299.2h0M236.1 300.4h0M252.7 279.7h0M246.8 286.6h0M260.3 295.2h0M257.5 291.9h0M231.5 305.0h0M237.5 305.3h0M240.2 302.7h0M233.4 303.4h0M261.8 302.0h0M254.5 293.0h0M267.7 294.0h0M252.7 300.4h0M247.2 287.5h0M243.6 305.8h0M237.4 304.8h0M242.2 293.7h0M248.7 301.5h0M254.7 298.0h0M231.8 304.0h0M238.6 300.5h0M234.9 303.9h0M247.8 298.3h0M233.8 302.4h0M243.4 295.5h0M251.9 281.2h0M269.1 298.0h0M239.6 298.3h0M231.4 304.9h0M238.2 298.1h0M238.5 305.1h0M237.0 301.9h0M247.0 293.8h0M231.8 305.3h0M255.9 295.7h0M254.9 304.7h0M260.4 292.8h0M231.7 305.8h0M262.8 267.4h0M244.9 293.5h0M231.4 306.2h0M233.2 304.5h0M256.6 305.2h0M270.2 303.1h0M251.6 299.7h0M246.7 298.6h0M232.6 302.1h0M232.8 304.2h0M252.3 300.0h0M231.4 305.4h0M241.2 294.9h0M255.3 276.8h0M261.5 298.6h0M235.9 304.4h0M246.3 305.2h0M256.9 290.6h0M253.6 293.7h0M248.5 284.8h0M259.8 298.5h0M258.5 272.9h0M248.4 295.0h0M252.7 280.6h0M233.8 303.8h0M264.0 296.4h0M255.7 276.3h0M231.4 305.0h0M247.2 297.4h0M234.5 306.6h0M243.2 303.4h0M256.9 301.3h0M237.4 303.0h0M261.6 300.7h0M257.1 274.8h0M251.5 281.7h0M255.6 295.1h0M255.6 301.1h0M251.9 280.5h0M231.2 305.6h0M250.6 302.1h0M254.8 290.9h0M260.7 295.5h0M232.8 302.8h0M245.5 303.1h0M258.2 301.8h0M231.6 304.1h0M243.7 299.7h0M232.8 305.9h0M259.8 303.7h0M254.9 278.1h0M232.9 306.1h0M234.5 301.6h0M260.2 290.3h0M253.2 304.9h0M255.2 302.5h0M258.7 272.6h0M250.2 282.9h0M259.3 292.3h0M245.9 296.0h0M235.5 300.1h0M261.1 269.4h0M267.3 304.3h0M266.0 295.5h0M250.3 304.1h0M251.4 300.3h0M253.2 279.0h0M260.4 270.3h0M241.5 305.3h0M241.4 295.8h0M248.8 284.5h0M266.7 293.2h0M241.2 299.7h0M251.1 297.0h0M258.8 297.8h0M250.5 299.9h0M235.1 303.8h0M260.3 302.0h0M245.6 287.9h0M267.9 295.6h0M231.6 305.6h0M237.1 300.4h0M243.2 299.4h0M258.6 292.5h0M256.5 303.8h0M237.7 299.6h0M261.0 301.2h0M266.3 294.9h0M233.7 304.0h0M252.9 293.8h0M244.5 300.8h0M251.7 281.5h0M252.0 294.4h0M244.8 302.1h0M257.6 274.5h0M233.4 303.2h0M243.1 304.0h0M250.2 302.9h0M255.2 302.4h0"/><path stroke="#ff7800" stroke-opacity="0.58" d="M259.4 297.9h0M268.6 292.5h0M262.5 291.8h0M268.9 291.0h0M276.9 295.0h0M260.2 298.4h0M268.2 295.1h0M281.9 295.5h0M263.7 303.7h0M268.8 287.8h0M272.2 289.7h0M268.6 300.6h0M281.2 305.8h0M274.0 297.6h0M277.7 301.2h0M275.2 298.7h0M270.4 291.7h0M300.8 296.3h0M267.0 291.5h0M264.9 296.0h0M262.2 294.7h0M259.0 303.8h0M274.7 299.4h0M291.4 289.8h0M275.5 294.8h0M269.4 294.9h0M263.3 289.8h0M261.2 300.4h0M261.5 302.7h0M262.8 304.2h0M273.3 298.6h0M266.4 302.1h0M273.8 288.8h0M297.0 294.9h0M270.1 299.3h0M274.5 305.5h0M258.3 291.1h0M243.0 299.8h0M258.1 295.6h0M264.8 289.0h0M251.8 296.1h0M248.6 298.7h0M264.3 297.4h0M267.0 287.7h0M261.4 307.7h0M272.9 296.7h0M261.7 294.1h0M268.6 291.6h0M257.0 295.2h0M273.5 290.5h0M284.3 296.7h0M264.9 292.0h0M253.0 293.3h0M247.9 303.9h0M261.8 291.7h0M291.3 293.0h0M252.5 299.3h0M253.6 300.0h0M300.1 295.7h0M267.0 294.0h0M260.1 290.2h0M245.1 296.6h0M267.5 296.5h0M267.7 294.8h0M268.7 302.9h0M267.7 290.8h0M281.9 290.6h0M261.8 295.9h0M285.0 292.9h0M261.1 290.2h0M286.2 295.6h0M263.8 302.1h0M259.5 295.8h0M256.5 291.9h0M241.3 302.4h0M285.6 296.5h0M261.3 297.0h0M261.4 294.3h0M272.7 299.2h0M288.7 294.2h0M253.9 293.2h0M261.4 291.4h0M299.6 294.6h0M258.1 289.5h0M264.5 295.2h0M263.0 288.4h0M266.9 296.7h0M259.4 293.6h0M263.9 301.5h0M274.7 289.6h0M259.8 296.0h0M276.6 301.0h0M261.6 297.8h0M288.5 291.0h0M257.8 296.5h0M250.4 294.7h0M290.0 287.4h0M263.0 303.1h0M264.1 291.9h0M273.5 298.0h0M270.9 297.7h0M248.1 294.5h0M278.1 294.5h0M293.7 288.4h0M269.8 290.5h0M273.5 299.3h0M248.0 301.9h0M269.6 302.4h0M276.2 291.1h0M259.7 292.1h0M267.9 293.7h0M267.9 290.1h0M273.8 292.8h0M257.8 301.7h0M266.0 289.6h0M288.1 289.4h0M269.3 295.9h0M276.2 289.6h0M257.0 291.3h0M257.3 298.3h0M280.6 297.2h0M273.1 289.3h0M289.1 294.1h0M263.2 297.7h0M268.6 288.1h0M266.4 291.5h0M263.8 299.9h0M262.1 292.9h0M257.2 291.3h0M262.1 296.8h0M265.0 297.8h0M267.3 298.5h0M261.3 298.1h0M282.6 292.7h0M262.7 293.1h0"/><path stroke="#ff7800" stroke-opacity="0.75" d="M259.4 299.2h0M272.6 293.8h0M286.7 287.9h0M264.1 293.4h0M252.2 300.8h0M261.3 294.1h0M258.3 296.0h0M275.4 290.0h0M288.4 296.5h0M258.0 296.3h0M269.0 292.6h0M263.8 302.6h0M276.2 300.2h0M271.5 288.8h0M269.4 309.9h0M264.5 288.8h0M259.3 303.1h0M267.3 297.5h0M272.1 290.3h0M257.7 299.2h0M271.4 294.5h0M263.8 290.2h0M274.6 291.6h0M263.0 301.4h0M262.5 302.7h0M263.2 300.3h0M268.5 300.5h0M246.2 305.0h0M265.7 296.5h0M276.2 310.0h0M264.2 292.1h0M266.2 290.0h0M297.9 288.8h0M249.3 301.6h0M270.7 292.1h0M264.0 300.8h0M261.3 292.1h0M258.1 290.0h0M260.8 302.6h0M272.5 295.0h0M255.2 302.4h0M242.4 297.3h0M300.5 290.7h0M281.9 299.3h0M261.3 301.6h0M271.9 290.2h0M260.6 298.9h0M271.3 291.0h0M253.8 291.4h0M272.1 289.2h0M266.3 299.4h0M245.5 299.1h0M279.9 294.1h0M267.4 289.2h0M262.0 298.4h0M261.1 301.9h0M271.4 293.5h0M262.2 303.3h0M250.9 302.2h0M277.1 294.0h0M268.3 303.0h0M256.7 300.9h0M278.9 296.5h0M285.2 296.5h0M269.2 290.0h0M267.5 296.5h0M280.7 309.1h0M242.2 295.7h0M256.9 290.0h0M276.6 300.5h0M255.1 295.1h0M273.1 295.6h0M268.0 293.6h0M296.9 292.8h0M271.2 288.2h0M265.3 295.6h0M298.4 287.9h0M260.3 303.7h0M268.0 309.5h0M263.8 294.7h0M265.2 292.1h0M277.2 290.5h0M267.3 297.9h0M275.2 296.2h0M276.4 298.4h0M259.2 296.5h0M257.8 288.2h0M269.0 300.6h0M261.2 301.4h0M243.8 303.7h0M265.7 289.3h0M275.5 300.3h0M243.6 296.4h0M270.8 295.2h0M277.7 308.2h0M273.3 292.8h0M276.8 297.7h0M255.7 302.8h0M265.8 297.5h0M259.5 294.4h0M275.4 294.0h0M273.7 294.7h0M271.8 304.9h0M269.6 297.8h0M250.8 291.1h0M268.3 298.8h0M252.0 292.6h0M257.2 293.7h0M265.7 292.9h0M263.5 300.6h0M274.0 290.3h0M278.6 295.3h0M265.3 294.4h0M271.0 289.9h0M265.3 290.0h0M268.2 291.9h0M254.7 301.7h0M270.1 291.4h0M290.2 296.0h0M255.3 291.7h0M257.4 300.5h0M257.4 297.4h0M275.2 304.8h0M262.7 301.2h0M280.8 307.9h0M253.3 289.8h0M257.3 293.7h0M273.8 292.2h0M249.0 300.1h0M274.7 292.6h0M260.6 289.4h0M266.2 299.7h0M283.7 289.1h0M260.1 290.8h0M260.7 296.4h0"/><path stroke="#ff7800" stroke-opacity="0.92" d="M261.6 294.5h0M258.0 293.7h0M258.6 291.7h0M275.0 294.7h0M262.3 302.8h0M261.8 298.4h0M273.5 299.2h0M269.2 301.7h0M266.4 302.1h0M294.4 285.9h0M243.1 295.3h0M244.1 295.5h0M262.0 298.9h0M251.1 304.6h0M266.4 294.2h0M251.9 297.6h0M272.7 292.2h0M265.3 291.5h0M268.1 294.6h0M251.4 295.6h0M267.9 294.2h0M266.8 300.6h0M264.4 300.8h0M263.9 301.4h0M275.3 297.1h0M259.2 292.3h0M270.5 290.8h0M254.1 294.8h0M244.4 292.3h0M297.2 292.3h0M255.5 291.0h0M253.5 291.9h0M299.4 290.7h0M267.4 297.0h0M270.3 292.3h0M258.5 291.4h0M273.3 291.6h0M260.6 294.8h0M262.2 288.8h0M255.6 301.6h0M297.0 289.1h0M254.7 290.3h0M269.2 294.9h0M258.5 291.9h0M253.4 293.8h0M270.7 301.4h0M273.2 288.2h0M254.4 298.3h0M258.7 303.4h0M275.7 294.8h0M258.9 300.3h0M282.5 288.9h0M284.5 286.2h0M262.1 292.8h0M281.5 294.7h0M265.4 303.8h0M263.9 306.2h0M273.5 299.6h0M266.8 300.1h0M270.7 288.3h0M277.6 293.3h0M257.2 293.8h0M277.5 299.8h0M296.9 290.1h0M265.4 293.6h0M274.1 300.5h0M253.7 293.5h0M259.4 298.4h0M265.2 299.2h0M262.3 296.5h0M268.1 301.1h0M271.6 295.1h0M274.9 294.2h0M282.3 293.6h0M254.6 293.6h0M261.6 301.7h0M263.2 290.5h0M269.4 288.6h0M253.0 303.1h0M274.9 298.6h0M266.9 298.8h0M264.6 293.7h0M278.4 292.8h0M252.1 302.9h0M260.1 293.8h0M249.4 302.4h0M258.0 299.7h0M272.2 301.7h0M301.6 294.1h0M275.9 297.3h0M275.0 296.8h0M255.8 294.0h0M258.4 299.8h0M274.1 296.7h0M253.8 291.4h0M270.3 290.8h0M256.0 302.0h0M257.5 301.3h0M276.4 296.7h0M262.0 300.3h0M297.8 293.9h0M254.4 300.9h0M275.7 290.8h0M263.3 301.6h0M261.8 289.0h0M256.5 292.6h0M281.2 294.3h0M267.3 291.9h0M273.3 294.5h0M265.7 294.6h0M254.1 303.7h0M273.4 291.3h0M282.5 292.1h0M276.5 288.5h0M264.6 294.0h0M265.2 304.1h0M275.1 292.8h0M277.3 292.3h0M278.4 295.7h0M299.0 288.2h0M258.6 289.1h0M265.5 295.7h0M259.5 304.1h0M259.8 294.2h0M255.7 290.7h0M274.1 289.9h0M281.7 291.0h0M276.5 295.5h0M259.4 297.1h0M277.6 296.4h0M275.8 291.4h0M244.9 294.1h0M260.6 303.3h0M267.3 287.2h0M261.1 301.3h0"/><path stroke="#0071bf" stroke-opacity="0.80" d="M289.8 228.4h0"/><path stroke="#0071bf" stroke-opacity="0.80" d="M287.0 231.4h0"/><path stroke="#0071bf" stroke-opacity="0.80" d="M285.6 234.0h0"/><path stroke="#0071bf" stroke-opacity="0.80" d="M278.0 247.3h0"/><path stroke="#ff7800" stroke-opacity="0.80" d="M271.2 255.7h0"/></g>
<g stroke-width="3.00" stroke-linecap="round"><path stroke="#6478e0" stroke-opacity="0.31" d="M54.6 460.4h0M64.6 468.0h0M59.6 463.2h0M59.9 466.4h0M64.9 467.7h0M61.6 464.6h0M69.4 454.8h0M51.4 466.2h0M63.5 472.2h0M66.6 464.3h0M68.9 463.3h0M66.2 454.9h0M63.0 476.9h0M68.0 462.6h0M61.6 463.1h0M66.2 466.7h0M58.7 463.0h0M57.6 455.4h0M64.2 464.3h0M58.3 474.5h0M65.8 455.9h0M56.1 471.8h0M64.8 465.7h0M57.0 459.3h0M67.8 471.7h0M61.3 456.9h0M59.7 463.3h0M60.1 462.4h0M57.5 456.4h0M64.1 465.3h0M59.6 468.9h0M65.3 465.4h0M61.8 457.7h0M52.7 457.1h0M57.3 459.7h0M61.1 454.4h0M59.2 451.6h0M59.7 457.4h0M68.8 468.3h0M62.8 481.0h0M52.3 464.5h0M61.0 461.1h0M72.2 465.6h0M66.5 450.1h0M61.3 465.1h0M62.0 474.8h0M64.7 469.1h0M73.5 461.8h0M60.6 475.9h0M62.1 462.2h0M63.8 456.8h0M58.4 466.6h0M66.4 474.1h0M65.0 467.4h0M56.4 465.4h0M54.3 476.6h0M55.3 461.9h0M59.0 460.9h0M62.0 469.1h0M63.5 467.7h0M64.0 459.5h0M63.8 468.9h0M62.9 465.7h0M66.9 460.4h0M69.4 462.2h0M59.2 468.2h0M57.0 478.9h0M55.4 464.7h0M61.1 453.9h0M64.9 474.1h0M64.5 458.1h0M59.5 467.4h0M54.5 463.2h0M59.2 466.9h0M58.1 469.2h0M61.5 472.5h0M57.5 464.2h0M65.8 459.8h0M61.1 460.4h0M70.2 471.8h0M59.8 448.5h0M63.2 469.3h0M63.4 459.7h0M60.1 467.5h0M65.1 450.8h0M64.8 468.3h0M64.8 465.8h0M66.0 467.8h0M65.4 453.6h0M60.8 458.5h0M53.3 454.6h0M65.1 464.1h0M60.1 458.4h0M62.0 464.9h0M55.5 460.0h0M64.8 474.9h0M65.6 461.2h0M62.7 458.6h0M68.9 458.0h0M62.5 464.0h0M66.8 453.6h0M67.6 465.5h0M57.3 461.9h0M55.9 461.1h0M68.0 463.1h0M57.3 461.1h0M54.3 454.0h0M58.7 459.1h0M62.7 450.3h0M56.5 466.6h0M66.5 465.4h0M72.1 472.6h0M61.3 459.8h0M62.4 468.0h0M52.6 467.0h0M69.8 471.7h0M54.5 458.7h0M63.8 465.8h0M58.7 450.4h0M58.0 472.4h0M63.3 468.9h0M57.0 451.6h0M56.5 457.8h0M66.2 467.8h0M54.5 464.0h0M57.3 451.7h0M65.7 456.7h0M62.8 468.1h0M61.1 465.5h0M67.7 464.1h0M64.3 460.6h0M54.4 456.4h0M68.2 466.9h0M62.2 458.4h0M68.6 453.8h0M65.4 473.1h0M64.6 459.1h0M56.4 470.5h0M59.3 467.2h0M57.7 469.3h0M52.4 466.6h0M65.3 471.1h0M55.0 463.5h0M62.4 457.2h0M63.6 469.6h0M59.2 462.7h0M59.1 475.8h0M57.4 453.2h0M59.2 471.7h0M64.4 464.0h0"/><path stroke="#6478e0" stroke-opacity="0.49" d="M52.3 474.3h0M60.1 470.5h0M61.7 470.9h0M53.6 467.6h0M63.0 463.4h0M55.2 471.5h0M49.4 469.2h0M59.3 465.7h0M63.1 456.1h0M65.8 453.1h0M61.2 468.5h0M67.0 465.9h0M60.3 465.4h0M53.3 461.2h0M67.9 470.1h0M60.3 468.1h0M66.2 456.7h0M64.7 464.9h0M63.3 455.4h0M56.1 468.9h0M70.1 454.2h0M70.8 456.1h0M66.3 457.3h0M60.2 446.4h0M63.2 462.1h0M60.8 464.4h0M60.6 468.0h0M61.1 461.8h0M58.2 463.2h0M65.0 460.5h0M57.1 469.5h0M56.7 459.9h0M59.1 467.1h0M66.6 456.7h0M59.0 463.2h0M60.9 464.3h0M64.6 456.0h0M73.0 458.9h0M60.4 470.1h0M58.5 457.9h0M67.3 466.2h0M63.1 466.4h0M58.5 462.7h0M56.1 468.2h0M65.9 459.2h0M63.0 461.0h0M60.6 462.4h0M57.3 470.6h0M53.0 460.6h0M59.6 468.5h0M58.3 468.9h0M64.1 469.3h0M65.8 462.3h0M60.7 454.0h0M59.4 472.4h0M67.2 462.3h0M62.6 466.8h0M60.9 456.0h0M54.7 460.8h0M63.2 452.3h0M59.7 468.5h0M58.2 465.4h0M63.2 465.6h0M61.7 463.6h0M56.9 460.9h0M71.3 470.6h0M63.3 475.8h0M67.6 471.5h0M60.5 461.3h0M61.1 459.6h0M57.2 471.1h0M66.2 466.9h0M68.6 461.8h0M59.6 462.1h0M69.8 457.1h0M63.4 465.3h0M69.3 464.9h0M72.0 464.6h0M60.5 466.1h0M67.2 454.9h0M66.2 458.5h0M68.1 467.7h0M62.3 458.3h0M61.9 471.5h0M57.2 456.0h0M61.7 479.6h0M67.7 458.4h0M52.5 469.8h0M62.3 454.2h0M60.4 460.6h0M57.6 457.2h0M58.9 468.0h0M68.9 467.6h0M59.2 448.0h0M53.5 471.7h0M58.7 474.2h0M69.1 473.5h0M58.6 460.8h0M67.1 457.0h0M61.4 454.0h0M58.9 452.5h0M60.1 467.0h0M61.9 467.5h0M55.1 475.9h0M65.0 458.5h0M60.7 471.6h0M60.8 461.2h0M51.1 462.7h0M66.7 474.0h0M60.4 459.5h0M66.5 463.2h0M66.8 463.0h0M61.5 457.0h0M59.7 473.7h0M53.5 455.8h0M59.8 453.3h0M61.8 454.3h0M62.3 448.9h0M59.2 457.0h0M66.0 454.9h0M64.8 466.2h0M56.2 461.7h0M57.8 462.4h0M66.9 449.5h0M51.5 472.6h0M56.9 460.5h0M59.5 456.3h0M65.1 470.0h0M62.5 460.2h0M64.2 454.3h0M49.8 463.0h0M65.5 469.8h0M62.9 473.8h0M57.2 471.5h0M62.6 461.8h0M55.8 464.6h0M62.8 454.5h0M65.2 460.5h0M62.0 472.8h0M66.4 473.7h0M65.4 471.7h0M56.5 462.9h0M55.9 461.6h0M60.0 449.9h0M66.2 478.9h0M66.0 461.2h0M62.9 471.5h0M67.3 454.1h0M59.7 464.3h0"/><path stroke="#6478e0" stroke-opacity="0.66" d="M66.0 459.4h0M70.2 469.1h0M70.7 466.6h0M63.9 458.1h0M53.4 466.7h0M70.5 469.0h0M62.1 470.6h0M64.8 467.9h0M62.3 462.7h0M53.7 467.7h0M58.1 454.3h0M61.1 468.5h0M62.9 471.9h0M66.0 462.5h0M59.6 460.4h0M61.9 465.1h0M57.9 468.1h0M59.9 451.2h0M60.5 465.5h0M56.4 449.4h0M61.8 452.2h0M61.9 474.4h0M68.3 459.6h0M64.3 462.0h0M63.8 464.6h0M65.0 469.6h0M62.3 464.6h0M63.2 457.3h0M66.0 476.4h0M66.7 461.4h0M61.3 471.0h0M64.7 458.7h0M65.2 467.2h0M57.3 456.5h0M58.6 463.1h0M60.3 461.2h0M62.3 469.5h0M63.0 457.3h0M61.6 466.2h0M62.7 469.9h0M65.0 464.6h0M60.7 473.8h0M66.7 459.1h0M62.8 459.5h0M63.3 469.1h0M55.8 457.5h0M63.8 474.0h0M63.1 467.2h0M53.6 471.8h0M54.7 472.5h0M64.1 466.9h0M61.3 462.6h0M61.6 459.4h0M56.0 459.8h0M65.2 462.5h0M69.2 469.6h0M61.6 467.3h0M58.7 464.5h0M62.7 457.1h0M68.1 465.5h0M59.5 462.4h0M72.1 464.6h0M56.9 471.2h0M57.6 468.3h0M59.2 455.4h0M63.4 466.8h0M60.2 453.8h0M63.3 471.6h0M57.3 465.2h0M64.3 466.9h0M64.0 477.1h0M67.3 457.7h0M59.7 456.8h0M58.0 470.4h0M55.9 464.1h0M70.6 470.7h0M50.8 466.2h0M59.4 460.0h0M53.4 453.3h0M55.0 468.0h0M56.5 452.8h0M60.0 458.3h0M55.4 479.0h0M64.7 467.9h0M58.6 449.7h0M60.0 476.4h0M51.6 456.2h0M62.2 470.9h0M54.4 464.5h0M55.8 465.0h0M58.7 464.5h0M61.5 456.0h0M70.2 470.6h0M59.4 460.8h0M60.6 457.4h0M60.0 477.9h0M65.4 457.8h0M57.4 465.6h0M64.7 459.3h0M64.2 459.3h0M60.0 464.2h0M58.9 466.9h0M58.9 457.0h0M55.1 471.1h0M69.0 461.5h0M62.7 475.2h0M64.4 460.8h0M55.9 460.8h0M65.5 464.3h0M58.0 473.3h0M68.0 457.4h0M60.0 454.5h0M57.0 466.4h0M54.4 467.0h0M67.3 462.8h0M66.4 472.1h0M53.7 457.4h0M58.3 469.1h0M63.4 466.2h0M62.7 472.3h0M61.2 455.5h0M61.3 470.8h0M60.6 465.0h0M56.7 473.1h0M61.4 470.8h0M65.9 467.4h0M58.2 460.7h0M62.0 460.4h0M57.4 467.8h0M61.4 467.0h0M61.3 469.3h0M57.6 464.7h0M67.9 460.7h0M65.6 465.2h0M49.0 461.8h0M63.1 470.2h0M70.2 461.6h0M63.4 460.7h0M65.4 472.1h0M63.7 458.6h0M59.3 457.1h0M58.8 472.0h0M65.9 472.7h0M55.2 460.7h0M57.1 473.8h0M66.9 478.3h0M64.1 467.1h0M63.4 470.4h0M62.1 470.5h0"/><path stroke="#a0a293" stroke-opacity="0.31" d="M73.3 462.1h0M73.2 463.4h0M66.4 471.0h0M68.1 467.8h0M72.1 471.7h0M68.4 462.7h0M69.6 469.4h0M72.5 476.4h0M76.0 463.4h0M61.9 459.5h0M77.2 464.6h0M67.4 469.1h0M80.4 468.2h0M67.6 471.3h0M67.3 473.4h0M74.0 460.3h0M67.4 475.4h0M70.9 472.5h0M66.0 462.5h0M75.7 472.3h0M74.2 470.6h0M70.6 467.9h0M70.7 466.1h0M70.4 471.5h0M60.6 477.5h0M66.6 471.6h0M78.3 475.9h0M63.7 462.6h0M74.5 470.1h0M72.2 462.2h0M78.7 462.5h0M67.6 468.1h0M68.5 463.4h0M62.9 473.6h0M63.6 467.5h0M65.0 476.1h0M70.4 470.9h0M70.1 463.6h0M73.9 461.6h0M67.9 465.5h0M69.1 466.3h0M66.6 469.7h0"/><path stroke="#a0a293" stroke-opacity="0.49" d="M63.6 466.9h0M66.9 469.6h0M62.7 468.2h0M78.5 463.5h0M67.7 472.5h0M71.8 474.2h0M73.1 459.6h0M69.4 477.6h0M63.6 464.6h0M65.2 470.3h0M78.5 459.3h0M67.1 466.6h0M60.8 468.4h0M73.4 478.6h0M64.8 472.8h0M70.5 472.0h0M71.1 470.3h0M60.8 469.4h0M70.5 469.0h0M71.5 466.7h0M67.3 471.0h0M75.7 461.3h0M78.1 476.7h0M63.5 473.3h0M60.5 466.9h0M69.2 471.8h0M70.8 466.6h0M64.2 472.4h0M59.9 471.8h0M61.8 458.9h0M64.3 465.0h0M72.4 465.3h0M72.1 460.6h0M73.3 468.9h0M76.2 470.9h0M69.4 466.3h0M81.4 462.7h0M63.8 466.3h0M69.3 477.4h0M68.6 469.1h0M67.3 471.0h0M79.4 467.9h0"/><path stroke="#a0a293" stroke-opacity="0.66" d="M58.1 463.1h0M70.0 467.2h0M74.0 460.9h0M73.9 466.9h0M66.0 474.3h0M72.4 458.9h0M58.3 470.9h0M74.9 473.9h0M65.0 469.5h0M67.6 466.1h0M69.7 468.9h0M70.7 478.4h0M76.0 467.1h0M66.9 471.0h0M69.7 465.9h0M70.1 462.1h0M71.0 467.4h0M67.9 468.3h0M67.3 464.3h0M62.8 470.1h0M75.5 468.4h0M74.9 470.5h0M63.9 471.9h0M68.1 467.0h0M72.4 466.1h0M76.2 460.1h0M74.7 473.9h0M68.8 459.7h0M77.2 469.9h0M61.3 465.5h0M67.1 463.8h0M66.3 472.7h0M66.5 470.5h0M73.7 474.3h0M70.7 472.6h0M73.5 469.4h0M68.4 466.5h0M76.1 467.5h0M65.6 463.9h0M73.3 467.4h0M77.9 460.9h0"/><path stroke="#8c5a8c" stroke-opacity="0.31" d="M68.4 463.2h0M75.9 430.4h0M66.5 455.8h0M66.9 438.5h0M64.7 448.7h0M71.7 448.1h0M76.5 436.4h0M52.7 439.5h0M69.0 444.9h0M72.3 457.2h0M56.8 448.2h0M64.9 438.0h0M62.2 445.4h0M70.4 442.0h0M87.4 436.3h0M63.4 438.9h0M57.5 442.1h0M66.4 448.6h0M70.9 457.8h0M69.9 446.5h0M72.2 445.6h0M62.9 450.8h0M64.0 455.4h0M56.3 436.9h0M64.8 450.0h0M54.4 453.0h0M66.0 450.9h0M86.4 436.9h0M54.7 441.4h0M62.1 455.0h0M62.5 447.7h0M64.9 447.9h0M60.0 446.7h0M63.2 435.6h0M68.9 449.6h0M72.7 454.1h0M63.9 457.0h0M68.1 451.0h0M62.8 440.9h0M87.7 432.9h0M56.2 441.8h0M69.3 434.3h0M55.0 441.6h0M66.2 466.0h0M51.3 455.5h0M74.8 443.4h0M59.6 455.0h0M62.8 445.3h0M58.5 446.4h0M61.9 444.5h0M80.5 437.9h0M73.8 430.0h0M92.9 436.3h0M83.4 438.2h0M69.8 455.9h0M64.8 457.1h0M96.0 429.1h0M53.9 439.2h0M57.5 443.2h0M67.7 447.3h0M67.9 457.1h0M68.4 448.2h0M69.4 449.4h0M66.8 442.3h0M63.3 439.3h0M60.2 450.9h0M69.1 446.7h0M84.1 434.5h0M75.2 449.0h0M69.3 438.9h0M62.5 446.9h0M69.2 446.9h0M65.6 453.5h0M61.6 444.6h0M88.6 434.4h0M59.9 443.8h0M70.8 457.9h0M68.5 441.1h0M64.0 447.7h0M67.8 442.6h0M64.9 454.4h0M64.5 453.5h0M65.8 452.6h0M76.5 450.7h0M61.9 442.3h0M67.5 430.9h0M64.1 453.7h0M63.1 452.3h0M64.1 441.9h0M91.5 434.2h0M69.7 453.1h0M70.7 454.5h0M62.6 452.5h0M69.5 446.6h0M80.4 443.8h0M87.3 430.4h0M58.6 446.2h0M61.9 443.0h0M61.0 461.2h0M65.1 451.4h0M67.4 452.1h0M70.3 460.4h0M58.4 439.5h0M53.3 461.0h0M80.5 452.8h0M68.9 443.5h0M64.9 449.7h0M56.4 454.8h0M59.4 446.2h0M63.7 450.0h0M65.1 440.5h0M60.2 452.6h0M70.9 439.5h0M72.9 453.6h0M50.4 442.8h0M96.3 435.0h0M63.5 453.2h0M76.3 460.2h0M67.1 442.4h0M62.1 448.5h0M74.2 438.3h0M65.9 461.4h0M70.4 446.2h0M61.9 454.8h0M66.4 445.7h0M71.8 445.8h0M63.1 448.7h0M70.0 447.0h0M71.9 441.1h0M66.0 437.7h0M61.7 457.5h0M57.9 458.7h0M67.4 448.3h0M77.6 462.0h0M67.7 454.6h0M72.4 450.4h0M62.9 455.2h0M63.2 457.9h0M60.7 445.2h0M62.7 443.1h0M70.4 440.9h0M65.6 434.2h0M60.8 453.2h0M66.1 462.6h0M58.7 459.6h0M74.1 448.1h0M75.4 444.3h0M57.7 464.4h0M63.7 444.5h0M71.3 458.5h0M62.7 454.8h0M57.8 448.7h0M53.8 442.5h0M63.0 446.4h0M59.0 453.2h0M54.1 446.5h0M68.8 435.8h0M61.1 441.3h0M71.8 446.2h0M77.2 462.0h0M77.3 460.3h0M55.9 443.1h0M52.0 447.9h0M59.2 444.4h0M67.5 442.4h0M76.4 432.7h0M73.9 437.6h0M70.1 440.2h0M60.7 445.8h0M73.4 446.4h0M56.3 461.5h0M58.7 444.3h0M59.1 448.4h0M61.2 447.3h0M75.9 444.2h0M96.9 435.0h0M65.0 455.5h0M66.3 455.0h0M65.1 443.8h0M64.1 448.8h0M67.0 447.7h0M66.4 443.3h0M64.8 443.3h0M59.1 455.2h0M62.1 441.8h0M72.5 440.9h0M57.3 445.4h0M69.4 443.5h0M67.0 451.3h0M60.6 452.4h0M63.3 447.9h0M69.0 462.3h0M65.6 445.3h0M62.0 433.4h0M64.9 454.2h0M64.4 447.7h0M68.6 458.0h0M73.4 444.2h0M67.4 450.0h0M68.9 447.4h0M61.2 449.1h0M56.9 451.2h0M57.8 437.6h0M70.4 441.6h0M56.7 451.8h0M65.0 455.9h0M65.4 448.8h0M70.6 445.3h0M67.8 452.1h0M69.7 464.6h0M90.0 430.9h0M62.1 442.9h0M64.1 430.2h0M73.3 448.0h0M63.3 454.8h0M73.7 454.5h0M64.3 453.3h0M60.4 457.8h0M62.2 458.3h0M88.0 436.0h0M65.7 450.5h0M63.2 448.9h0M66.1 449.6h0M50.4 446.7h0M58.0 445.8h0M69.3 455.9h0M54.1 452.1h0M63.2 449.9h0M78.3 458.1h0M72.3 429.9h0M59.5 442.4h0M74.6 461.1h0M62.3 448.6h0M69.9 448.7h0M67.1 446.3h0M62.6 456.6h0M67.6 445.0h0M62.7 444.1h0M68.4 449.7h0M64.7 452.2h0M54.7 447.4h0M62.8 444.1h0M60.9 453.9h0M72.3 432.9h0M64.6 448.5h0M67.5 462.5h0M73.3 453.3h0M60.9 451.9h0M72.7 457.7h0M65.4 442.1h0M65.3 445.0h0M66.9 455.8h0M71.1 457.2h0M87.4 433.1h0M59.4 442.7h0M54.6 455.8h0M65.9 467.5h0M65.7 450.3h0M66.3 452.3h0M95.0 434.2h0M57.4 438.4h0M68.4 453.6h0M66.3 444.2h0M64.1 467.8h0M70.1 445.4h0M70.9 452.1h0M60.2 442.1h0M64.4 456.9h0M64.7 451.5h0M58.0 443.6h0M63.5 454.6h0M68.1 438.3h0M64.8 441.1h0M56.2 450.8h0M69.4 450.0h0M56.1 446.5h0M64.5 439.4h0M59.3 440.6h0M82.8 436.2h0M62.6 468.2h0M61.9 449.7h0M64.0 440.6h0M67.6 448.3h0M53.4 442.5h0M63.8 456.1h0M61.8 445.8h0M79.3 454.3h0M63.3 450.1h0M56.7 444.4h0M67.3 441.4h0"/><path stroke="#8c5a8c" stroke-opacity="0.49" d="M72.7 440.6h0M67.5 441.7h0M57.6 453.9h0M53.8 443.3h0M63.4 447.7h0M77.8 436.9h0M59.7 444.5h0M66.7 447.8h0M69.4 450.8h0M56.1 443.1h0M64.5 451.6h0M61.6 448.9h0M65.4 460.3h0M65.6 442.4h0M68.3 445.6h0M58.1 446.4h0M60.7 460.0h0M66.5 451.4h0M63.8 440.8h0M72.5 433.2h0M83.8 435.2h0M74.2 437.4h0M58.2 451.7h0M88.8 432.8h0M58.4 456.4h0M77.9 434.7h0M69.3 444.9h0M76.1 428.8h0M64.1 449.4h0M66.5 447.3h0M66.7 457.5h0M64.4 437.2h0M64.8 455.8h0M70.3 451.8h0M70.9 448.5h0M67.6 438.0h0M65.8 442.2h0M72.9 449.8h0M61.3 448.4h0M59.2 451.3h0M61.5 450.9h0M78.2 447.6h0M63.6 432.6h0M67.4 453.8h0M71.5 450.3h0M74.2 440.1h0M64.1 450.3h0M71.7 451.0h0M75.2 451.4h0M71.0 463.9h0M67.2 449.2h0M55.7 446.1h0M61.5 449.3h0M65.8 440.1h0M70.1 451.1h0M60.5 454.3h0M59.1 433.6h0M61.5 446.3h0M59.1 460.0h0M65.5 443.9h0M77.5 441.4h0M68.7 450.8h0M73.1 452.4h0M64.7 455.8h0M60.9 441.9h0M90.7 432.5h0M64.3 434.2h0M71.9 452.9h0M65.1 453.6h0M60.7 456.0h0M93.8 431.1h0M70.2 440.6h0M70.7 464.9h0M71.3 442.4h0M64.8 459.8h0M73.4 442.4h0M64.9 460.2h0M55.2 445.6h0M56.2 449.7h0M61.2 439.1h0M74.0 454.2h0M62.2 440.2h0M71.0 439.9h0M58.6 442.6h0M60.4 454.5h0M68.1 443.0h0M68.1 435.0h0M77.2 448.2h0M63.6 442.5h0M64.6 435.1h0M54.4 438.4h0M64.7 453.5h0M70.0 441.1h0M72.3 437.8h0M64.1 442.8h0M63.7 454.5h0M60.6 434.4h0M88.8 436.0h0M84.1 434.1h0M57.9 440.1h0M67.6 458.6h0M60.7 450.4h0M74.2 452.3h0M63.7 450.0h0M57.3 447.9h0M52.4 441.9h0M79.9 443.0h0M64.8 445.2h0M72.8 446.0h0M54.4 453.6h0M77.8 447.7h0M64.3 448.0h0M65.9 441.9h0M72.5 451.5h0M92.9 433.8h0M54.1 446.5h0M70.4 445.5h0M62.5 447.5h0M75.4 442.2h0M66.4 452.9h0M68.0 443.0h0M66.6 452.4h0M71.4 456.1h0M53.3 440.6h0M65.8 449.7h0M65.9 445.8h0M74.5 450.9h0M64.1 436.4h0M69.7 431.4h0M73.0 452.9h0M64.5 453.4h0M75.4 440.6h0M60.7 464.5h0M57.0 455.7h0M64.7 441.4h0M66.6 457.3h0M65.9 440.6h0M63.2 455.8h0M61.7 449.0h0M61.2 453.9h0M95.2 434.1h0M62.8 460.2h0M87.2 438.0h0M69.4 433.5h0M70.3 447.8h0M63.7 445.1h0M81.0 429.0h0M66.4 437.8h0M87.9 432.5h0M63.8 446.0h0M72.0 443.1h0M73.5 450.2h0M64.3 446.9h0M69.2 449.5h0M65.3 455.2h0M52.8 456.8h0M69.5 462.0h0M62.5 449.0h0M78.0 449.4h0M51.8 441.9h0M65.3 452.9h0M78.7 430.1h0M85.4 433.8h0M60.6 449.4h0M66.7 448.7h0M58.7 450.7h0M69.4 448.1h0M64.9 452.9h0M71.6 443.0h0M87.5 432.0h0M50.4 454.0h0M66.8 434.8h0M68.1 450.9h0M67.8 436.3h0M65.7 441.8h0M75.0 446.8h0M68.6 453.5h0M62.1 454.8h0M66.9 462.3h0M62.2 438.5h0M57.2 452.5h0M60.9 447.3h0M60.2 450.9h0M70.7 450.1h0M57.0 447.5h0M93.2 437.2h0M61.6 448.1h0M65.1 439.3h0M72.5 466.5h0M54.2 449.0h0M61.2 450.6h0M64.8 456.5h0M73.3 454.4h0M75.1 448.3h0M68.3 451.9h0M65.5 459.3h0M62.7 441.5h0M62.0 449.0h0M62.3 451.5h0M61.9 456.1h0M73.8 445.4h0M75.2 433.5h0M63.2 437.9h0M61.9 435.3h0M57.0 459.2h0M63.5 439.7h0M64.6 442.5h0M59.5 450.7h0M53.4 448.8h0M60.9 434.4h0M64.6 449.8h0M62.4 464.4h0M54.8 457.5h0M62.1 460.6h0M71.9 449.3h0M71.2 444.7h0M67.1 468.0h0M66.6 449.2h0M57.3 459.0h0M84.6 430.2h0M66.9 452.1h0M62.6 446.7h0M64.4 449.6h0M57.1 447.6h0M61.7 433.2h0M65.3 453.0h0M63.6 446.5h0M74.1 431.2h0M53.7 454.7h0M60.3 434.1h0M65.4 448.3h0M83.0 432.0h0M66.6 437.8h0M61.2 442.7h0M69.3 439.2h0M76.9 442.4h0M71.4 450.6h0M68.7 443.8h0M60.4 447.6h0M58.3 451.6h0M66.9 454.7h0M59.7 446.9h0M73.8 446.3h0M76.2 456.7h0M54.4 442.3h0M67.3 430.8h0M59.5 437.8h0M55.0 456.3h0M62.9 451.3h0M60.2 445.5h0M67.7 450.0h0M68.3 442.5h0M71.3 442.1h0M72.8 451.7h0M74.4 462.8h0M59.0 454.8h0M65.0 445.9h0M60.1 448.7h0M69.2 466.1h0M68.6 455.1h0M60.1 462.5h0M55.2 449.2h0M67.8 454.9h0M63.8 455.1h0M74.7 434.3h0M62.6 456.9h0M72.5 430.4h0M60.2 453.6h0M76.2 455.6h0M69.6 448.4h0M59.2 451.7h0M67.1 455.1h0M69.4 441.2h0M52.4 438.6h0M66.8 442.4h0M79.9 448.7h0M69.3 458.1h0M64.9 455.8h0M81.7 431.1h0M58.7 443.1h0M72.0 446.6h0M71.0 454.4h0M76.8 436.1h0M75.2 444.1h0M61.9 454.9h0M63.2 445.8h0M64.7 454.7h0M61.2 443.6h0M69.0 448.4h0"/><path stroke="#8c5a8c" stroke-opacity="0.66" d="M55.1 448.2h0M60.6 432.5h0M73.0 458.1h0M60.6 444.5h0M73.8 449.5h0M61.0 451.7h0M53.6 445.7h0M64.2 445.9h0M78.1 438.0h0M68.8 454.3h0M71.5 448.6h0M70.5 456.1h0M69.3 458.7h0M63.5 448.0h0M66.8 453.4h0M65.0 455.8h0M63.7 446.7h0M57.2 435.4h0M65.9 440.3h0M94.2 436.2h0M57.7 451.9h0M76.2 446.7h0M67.3 442.4h0M80.3 442.8h0M64.8 436.3h0M59.4 435.0h0M57.5 448.8h0M64.2 442.0h0M74.8 434.6h0M72.7 454.3h0M74.5 444.1h0M57.0 457.2h0M85.7 433.0h0M60.6 446.7h0M68.6 449.5h0M65.1 441.7h0M64.0 441.9h0M60.0 432.2h0M70.0 444.5h0M72.2 445.1h0M81.6 431.1h0M67.6 452.3h0M58.8 450.1h0M88.5 433.3h0M58.8 447.8h0M70.2 450.9h0M67.4 449.6h0M71.4 449.2h0M71.0 446.5h0M64.7 447.1h0M78.7 432.6h0M63.8 452.5h0M73.0 445.5h0M69.9 446.2h0M63.6 445.1h0M68.9 457.2h0M62.8 443.3h0M61.4 433.2h0M84.4 434.2h0M71.6 443.4h0M58.8 447.4h0M60.7 457.4h0M73.3 451.7h0M60.6 455.8h0M66.2 438.1h0M56.5 443.2h0M85.7 427.1h0M66.9 450.1h0M55.6 448.0h0M64.7 458.7h0M72.0 460.6h0M67.0 448.9h0M61.0 439.6h0M59.5 455.8h0M71.4 449.3h0M57.5 454.1h0M90.8 434.6h0M65.5 449.6h0M66.8 442.8h0M78.3 438.8h0M72.0 431.3h0M69.5 445.4h0M62.2 440.0h0M67.5 453.0h0M56.7 438.4h0M64.8 458.3h0M63.3 442.5h0M71.3 448.4h0M57.7 436.5h0M73.8 443.9h0M57.0 440.9h0M62.9 457.1h0M68.3 455.8h0M63.3 445.1h0M63.2 440.8h0M95.1 431.9h0M65.6 446.6h0M66.2 452.1h0M72.8 444.4h0M67.6 447.5h0M72.2 442.4h0M58.4 450.5h0M71.3 444.2h0M65.6 447.9h0M64.2 440.6h0M64.8 442.5h0M63.2 433.6h0M69.4 453.7h0M66.3 441.2h0M59.2 437.4h0M56.4 444.6h0M60.3 446.6h0M72.7 461.9h0M80.0 436.8h0M53.1 447.4h0M65.2 450.0h0M64.7 449.9h0M85.8 430.1h0M77.2 446.8h0M54.0 447.1h0M73.2 460.0h0M66.9 447.6h0M67.1 461.1h0M82.7 431.1h0M67.7 446.9h0M73.8 449.6h0M64.7 454.2h0M67.8 442.5h0M89.0 431.3h0M69.3 441.1h0M60.4 442.1h0M63.8 437.7h0M64.1 446.0h0M64.7 441.4h0M71.4 448.1h0M66.2 436.7h0M70.5 448.9h0M72.8 438.8h0M61.7 446.4h0M61.2 464.1h0M61.2 445.2h0M58.7 459.2h0M56.5 457.1h0M60.5 455.1h0M73.9 453.7h0M75.5 448.4h0M66.4 459.3h0M55.3 460.4h0M73.1 453.6h0M57.1 449.8h0M64.8 450.0h0M79.8 439.1h0M77.6 458.9h0M74.9 453.4h0M83.5 436.2h0M67.5 443.8h0M53.7 441.2h0M66.1 447.8h0M51.9 454.0h0M75.4 442.8h0M69.2 452.4h0M64.5 443.8h0M70.3 453.4h0M69.9 450.1h0M86.2 438.5h0M69.7 440.8h0M64.2 450.8h0M66.3 455.5h0M48.7 445.2h0M65.7 444.4h0M59.5 438.3h0M69.2 444.9h0M65.5 450.8h0M63.4 450.8h0M65.7 444.8h0M62.5 436.3h0M63.1 442.5h0M81.6 447.9h0M73.7 451.6h0M71.9 437.9h0M64.6 456.9h0M94.2 433.0h0M65.3 447.6h0M84.0 435.8h0M68.7 436.7h0M61.2 446.6h0M62.7 441.9h0M66.5 440.1h0M66.5 443.4h0M53.8 447.1h0M63.9 454.3h0M57.2 461.5h0M68.4 462.6h0M86.9 433.3h0M60.2 439.5h0M66.1 449.7h0M70.4 446.8h0M66.2 460.5h0M62.3 457.6h0M72.0 436.8h0M66.7 449.0h0M60.9 464.2h0M84.4 430.8h0M61.3 447.7h0M67.3 437.9h0M60.3 446.7h0M72.6 445.6h0M66.5 456.7h0M72.1 460.6h0M67.0 446.8h0M66.6 450.3h0M89.5 435.7h0M62.7 438.0h0M63.9 443.0h0M69.4 455.1h0M75.6 436.4h0M55.5 444.1h0M76.8 432.2h0M62.8 456.2h0M64.7 449.2h0M58.4 448.6h0M64.9 445.2h0M68.1 464.3h0M65.6 441.1h0M58.0 460.3h0M71.8 447.4h0M67.4 451.7h0M67.3 451.5h0M56.1 456.3h0M60.1 453.5h0M64.8 448.2h0M65.8 460.8h0M60.8 437.8h0M53.8 454.9h0M57.9 447.2h0M65.0 432.7h0M54.1 452.0h0M65.3 441.3h0M64.7 455.0h0M68.1 454.1h0M81.3 432.6h0M62.3 454.8h0M58.3 453.0h0M56.6 439.7h0M60.9 452.0h0M65.0 438.3h0M71.1 444.5h0M63.7 445.1h0M67.9 441.9h0M68.1 454.8h0M60.2 442.3h0M57.1 460.1h0M65.9 461.1h0M66.8 449.5h0M75.4 441.3h0M81.0 437.7h0M63.8 449.6h0M60.5 459.6h0M72.5 449.0h0M67.0 448.4h0M63.6 450.4h0M63.5 460.6h0M75.6 435.5h0M62.3 446.9h0M69.6 448.4h0M58.4 440.8h0M65.1 460.7h0M60.5 447.8h0M85.0 430.3h0M87.5 431.8h0M64.7 444.9h0M64.0 448.4h0M66.1 447.8h0M62.7 447.0h0M65.7 440.2h0M58.7 442.0h0M57.8 452.0h0M70.7 446.4h0M63.5 449.5h0M57.6 439.3h0M66.3 429.8h0M56.4 445.8h0M91.8 431.3h0M83.8 432.4h0M66.8 438.6h0M59.5 445.4h0M68.2 463.2h0M64.8 458.9h0M72.8 445.6h0"/><path stroke="#f5a20a" stroke-opacity="0.31" d="M106.0 435.3h0M85.9 451.9h0M81.2 449.3h0M86.3 439.7h0M81.9 450.4h0M85.1 448.6h0M84.8 457.8h0M94.4 453.6h0M98.7 453.8h0M89.5 464.3h0M73.3 447.4h0M86.7 445.3h0M83.5 446.9h0M87.9 442.2h0M87.9 446.3h0M96.8 459.5h0M76.9 455.5h0M81.6 446.7h0M72.6 453.4h0M83.6 448.2h0M95.1 456.1h0M97.0 444.6h0M81.1 450.2h0M86.9 452.7h0M90.6 453.1h0M75.0 443.9h0M88.6 442.6h0M94.5 456.0h0M90.1 459.3h0M85.2 447.6h0M84.7 457.3h0M85.1 458.8h0M76.5 455.7h0M89.0 448.0h0M88.0 451.6h0M77.7 450.7h0M88.1 453.9h0M84.1 453.7h0M77.5 448.1h0M86.4 450.8h0M92.7 449.2h0M91.2 460.9h0M90.0 455.5h0M103.2 447.8h0M81.9 456.1h0M93.2 458.7h0M89.0 444.0h0M88.7 451.9h0M73.2 448.3h0M82.7 459.3h0M88.8 452.9h0M91.0 444.0h0M87.1 451.0h0M81.9 440.4h0M87.7 451.1h0M78.7 458.3h0M77.3 456.1h0M91.3 447.4h0M82.0 451.5h0M86.0 456.4h0M93.2 449.7h0M90.2 453.0h0M87.6 444.3h0M94.4 446.6h0M82.9 458.3h0M80.6 453.4h0M75.8 455.7h0M72.6 455.2h0M95.7 458.6h0M80.0 443.6h0M81.1 448.8h0M101.9 451.4h0M81.3 453.4h0M86.1 453.2h0M80.7 456.2h0M80.3 451.5h0M101.6 439.6h0M81.4 455.1h0M90.2 442.7h0M87.6 454.0h0M87.2 448.6h0M79.9 454.4h0M86.6 442.7h0M91.7 451.7h0M86.2 451.4h0M86.2 457.4h0M89.9 448.8h0M76.6 454.7h0M91.6 446.1h0M92.5 453.7h0M92.0 443.0h0M89.9 451.9h0M91.8 455.3h0M79.9 444.7h0M98.4 450.0h0M86.1 444.0h0M88.2 448.9h0M79.0 453.8h0M78.3 448.4h0M74.7 448.7h0M94.5 456.0h0M88.8 447.9h0M73.1 451.6h0M86.5 442.3h0M87.9 451.9h0M86.2 447.2h0M91.2 446.6h0M82.0 452.9h0M88.1 452.9h0M83.6 445.3h0M82.8 441.9h0M76.5 448.0h0M104.7 439.9h0M69.5 451.3h0M86.0 448.6h0M75.5 459.5h0M82.3 446.1h0M76.5 450.8h0M81.5 444.8h0M89.7 461.3h0M83.7 453.2h0M81.8 449.8h0M88.0 447.2h0M86.4 452.4h0M87.9 451.7h0M93.2 458.7h0M80.9 458.7h0M89.5 450.9h0M85.9 448.2h0M92.0 454.1h0M82.6 457.0h0M80.5 446.5h0M100.4 453.6h0M85.1 449.6h0M84.8 444.3h0M82.4 452.4h0M97.0 442.3h0M98.9 446.0h0M81.1 452.9h0M91.3 448.3h0M88.2 446.6h0M98.9 455.5h0M88.1 443.2h0M103.5 452.9h0M95.3 449.7h0M94.9 448.4h0M95.6 440.0h0M85.3 448.7h0M89.8 456.4h0M82.3 451.3h0M84.6 440.5h0M89.5 458.4h0M91.5 451.3h0M88.6 438.9h0M88.8 462.9h0M79.5 449.8h0M83.9 444.9h0M87.4 446.5h0M96.6 446.4h0M78.7 447.8h0M85.6 450.3h0M86.3 458.6h0M94.4 449.4h0M80.8 446.5h0M84.1 453.4h0M79.5 450.5h0M88.9 456.2h0M83.4 443.3h0M73.4 448.0h0M102.5 435.6h0M76.7 443.7h0M90.2 452.5h0M85.8 442.4h0M90.0 440.7h0M73.0 446.2h0M91.1 446.9h0M81.4 449.5h0M75.6 448.2h0M78.5 451.0h0M94.8 458.0h0M91.5 458.0h0M90.7 461.2h0M85.6 455.9h0M82.2 442.5h0M94.8 462.2h0M78.4 452.7h0M79.2 454.6h0M101.7 460.3h0M92.3 449.1h0M82.3 455.4h0M92.3 446.7h0M87.4 454.2h0M98.6 446.6h0M87.3 450.6h0M84.5 445.0h0M75.0 442.1h0M90.3 450.9h0M88.4 452.9h0M81.1 454.1h0M90.7 449.1h0M87.1 455.0h0M88.9 460.9h0M94.4 456.0h0M72.2 450.7h0M82.7 447.8h0M94.8 459.5h0M77.4 451.8h0M89.6 451.8h0M96.8 445.3h0M72.7 456.9h0M85.8 443.9h0M74.3 448.9h0M85.1 459.8h0M82.9 445.3h0M81.8 451.2h0M83.5 442.0h0M84.7 456.1h0M82.5 443.5h0M89.0 448.2h0M84.9 454.4h0M84.1 454.8h0M77.6 442.7h0M97.3 458.8h0M79.4 458.5h0M82.8 451.3h0M95.1 452.4h0M92.3 445.6h0M95.7 445.6h0M83.8 456.0h0M95.4 442.4h0M76.1 453.2h0M83.7 451.7h0M87.1 456.9h0M88.5 445.8h0M93.1 448.4h0M80.8 459.8h0M89.7 449.8h0M95.9 450.5h0M94.2 456.5h0M80.3 452.3h0"/><path stroke="#f5a20a" stroke-opacity="0.49" d="M86.3 445.9h0M84.0 455.8h0M100.2 456.5h0M87.3 459.9h0M97.8 434.1h0M84.9 456.4h0M84.3 449.4h0M91.8 439.5h0M84.6 447.2h0M75.9 450.1h0M88.0 459.1h0M77.1 453.5h0M76.8 455.4h0M85.4 455.6h0M92.3 451.3h0M90.4 457.6h0M94.7 458.4h0M87.2 442.3h0M97.5 455.0h0M81.1 445.4h0M103.1 449.9h0M86.9 447.4h0M99.4 452.1h0M79.7 449.4h0M89.3 455.9h0M92.4 443.8h0M91.1 451.8h0M88.0 452.5h0M87.7 443.4h0M86.7 439.5h0M90.3 459.4h0M85.7 457.7h0M83.8 441.1h0M87.8 454.8h0M82.6 443.1h0M79.8 447.9h0M107.1 446.3h0M91.3 448.1h0M89.3 445.4h0M85.9 453.3h0M84.1 448.7h0M89.4 452.8h0M91.6 446.3h0M93.6 443.7h0M102.9 453.8h0M80.0 457.0h0M81.4 457.6h0M98.1 441.2h0M72.3 452.8h0M87.5 450.0h0M92.0 450.8h0M72.8 448.6h0M87.4 453.1h0M85.1 457.2h0M80.2 458.1h0M80.2 453.3h0M98.8 444.4h0M78.9 447.8h0M81.8 450.3h0M85.4 448.2h0M99.2 451.6h0M91.7 458.3h0M79.5 447.8h0M99.6 445.2h0M107.2 437.5h0M89.8 449.5h0M90.6 447.0h0M92.6 450.6h0M86.1 454.4h0M94.7 451.0h0M95.2 450.9h0M85.4 455.0h0M82.1 456.0h0M90.2 448.3h0M81.7 452.0h0M88.1 445.8h0M82.3 445.9h0M79.7 460.9h0M89.0 454.1h0M70.0 446.4h0M97.8 450.3h0M77.2 449.3h0M78.6 451.0h0M103.8 447.7h0M110.5 451.1h0M107.5 442.4h0M97.4 448.0h0M84.8 457.3h0M81.5 459.5h0M73.8 457.6h0M93.4 452.5h0M77.1 463.9h0M84.5 451.4h0M75.9 441.8h0M87.6 454.5h0M89.2 437.9h0M82.2 445.7h0M82.9 456.3h0M88.4 448.5h0M75.5 463.6h0M76.6 458.4h0M86.0 443.6h0M88.7 442.9h0M100.4 453.9h0M80.7 448.4h0M90.0 439.2h0M82.6 445.0h0M78.9 452.8h0M85.1 453.0h0M77.2 455.2h0M80.5 460.5h0M88.1 450.4h0M97.0 451.0h0M88.5 452.5h0M90.8 450.2h0M91.3 450.9h0M78.8 451.4h0M83.7 456.0h0M78.7 456.8h0M101.7 443.1h0M89.0 456.9h0M96.5 445.5h0M84.9 438.3h0M87.5 455.5h0M86.8 453.1h0M96.3 445.1h0M99.3 448.3h0M87.7 453.9h0M98.2 451.8h0M96.8 453.9h0M94.1 446.4h0M78.3 445.5h0M71.8 445.1h0M85.7 449.4h0M88.4 442.0h0M86.6 449.1h0M81.9 457.7h0M85.0 454.4h0M89.9 447.9h0M79.1 447.8h0M87.9 455.3h0M80.0 452.3h0M93.5 451.9h0M90.5 454.8h0M84.9 445.2h0M86.0 447.8h0M83.6 449.4h0M90.5 443.5h0M75.3 446.7h0M82.8 447.1h0M87.9 457.4h0M73.5 454.5h0M91.8 457.8h0M106.0 439.0h0M90.2 444.3h0M95.0 452.5h0M88.1 449.7h0M69.4 447.1h0M85.1 449.7h0M89.3 457.9h0M91.7 449.4h0M88.6 450.1h0M75.2 451.4h0M88.5 448.5h0M91.1 448.4h0M83.2 460.2h0M75.8 445.4h0M97.1 450.3h0M95.7 447.5h0M85.8 452.6h0M85.7 445.4h0M90.6 456.6h0M87.3 457.7h0M78.9 455.8h0M68.2 454.0h0M82.7 452.1h0M87.8 446.0h0M100.5 456.4h0M77.4 456.3h0M85.8 451.9h0M72.6 452.7h0M86.3 455.9h0M89.0 463.1h0M98.9 452.1h0M86.8 442.1h0M88.0 445.9h0M100.2 459.2h0M83.4 448.1h0M88.0 447.6h0M80.9 456.8h0M97.7 444.4h0M84.3 453.4h0M86.9 452.0h0M89.8 451.6h0M88.0 452.2h0M89.3 454.0h0M82.8 454.0h0M95.8 452.2h0M80.9 454.7h0M95.0 451.4h0M81.3 460.8h0M85.4 446.8h0M98.2 448.9h0M78.7 443.6h0M82.2 447.5h0M102.0 443.4h0M74.0 458.3h0M97.7 453.2h0M75.0 447.1h0M99.9 458.2h0M81.5 441.3h0M93.4 447.9h0M92.8 452.8h0M85.4 448.2h0M86.3 443.5h0M94.0 451.6h0M84.0 452.1h0M77.6 443.5h0M84.9 445.5h0M93.4 447.0h0M84.9 449.0h0M93.8 456.6h0M88.4 445.3h0M78.2 447.4h0M95.8 462.2h0M87.1 441.9h0M92.6 447.9h0M88.4 456.8h0M90.4 445.7h0M87.3 457.4h0M82.1 451.8h0M84.2 458.2h0M91.7 457.7h0M78.7 452.9h0M91.2 451.6h0M87.0 444.2h0M96.0 441.3h0M80.1 446.8h0M85.6 455.3h0"/><path stroke="#f5a20a" stroke-opacity="0.66" d="M104.4 433.9h0M86.2 445.6h0M84.9 452.9h0M94.6 449.8h0M86.3 458.1h0M81.7 453.1h0M79.9 448.1h0M79.1 449.8h0M86.3 463.4h0M86.2 451.3h0M96.2 443.6h0M72.8 442.6h0M92.6 461.4h0M90.0 448.5h0M75.4 446.6h0M77.7 450.7h0M84.2 449.9h0M93.7 449.3h0M77.8 452.1h0M85.0 449.4h0M87.4 463.4h0M109.2 441.5h0M85.9 449.1h0M91.1 454.6h0M80.1 447.4h0M84.0 449.6h0M84.2 452.7h0M89.5 442.1h0M84.8 458.8h0M78.1 449.4h0M87.2 445.0h0M77.1 450.7h0M94.3 449.8h0M87.0 457.9h0M92.8 455.7h0M87.2 446.3h0M78.2 455.2h0M84.7 443.8h0M88.0 451.2h0M97.6 447.4h0M77.8 457.4h0M94.9 455.2h0M83.7 452.6h0M77.7 448.0h0M79.5 453.6h0M84.5 460.2h0M83.6 455.0h0M76.4 446.3h0M84.2 448.5h0M92.6 457.9h0M85.0 456.6h0M100.5 452.4h0M73.8 447.1h0M80.5 450.0h0M90.4 448.8h0M91.6 444.7h0M88.1 460.0h0M82.8 445.4h0M82.0 453.8h0M83.2 449.1h0M94.2 455.9h0M94.4 458.2h0M86.7 454.0h0M93.4 445.6h0M91.1 444.2h0M92.8 449.3h0M93.1 446.9h0M94.1 457.6h0M83.3 444.1h0M74.5 449.0h0M87.0 457.6h0M81.4 448.7h0M81.3 440.1h0M88.4 452.3h0M80.6 452.8h0M89.9 453.5h0M84.7 456.3h0M84.2 462.9h0M72.7 449.0h0M108.5 434.7h0M81.1 448.4h0M82.3 446.7h0M76.6 452.5h0M89.9 450.5h0M73.2 461.2h0M77.0 447.1h0M88.6 459.2h0M88.9 448.7h0M89.2 457.5h0M90.8 449.0h0M90.3 453.5h0M74.6 452.6h0M89.5 453.5h0M91.2 450.6h0M77.2 454.1h0M92.1 452.6h0M86.3 451.0h0M82.6 451.1h0M95.2 452.7h0M85.0 462.6h0M78.2 447.6h0M92.4 445.5h0M83.9 443.7h0M94.2 453.8h0M81.1 453.3h0M82.9 453.3h0M87.0 457.5h0M94.4 449.3h0M82.4 451.6h0M80.9 448.6h0M83.5 453.5h0M102.3 457.1h0M81.0 452.4h0M94.5 451.8h0M78.1 452.2h0M86.3 458.9h0M86.5 453.8h0M92.0 447.9h0M83.9 446.3h0M88.0 446.5h0M88.4 449.6h0M93.9 454.4h0M85.1 445.5h0M75.9 453.5h0M84.0 449.4h0M88.4 445.8h0M82.6 445.8h0M77.0 442.4h0M94.5 453.0h0M83.7 437.6h0M94.2 448.8h0M81.6 442.6h0M73.2 454.1h0M91.2 447.7h0M94.7 448.4h0M76.0 458.5h0M81.8 450.0h0M78.7 449.6h0M82.9 455.3h0M91.2 456.3h0M74.9 458.6h0M85.9 455.5h0M76.8 444.8h0M74.6 455.2h0M92.1 446.9h0M96.1 454.1h0M79.2 445.7h0M80.4 450.6h0M94.4 452.5h0M86.2 449.4h0M76.2 453.7h0M91.8 445.4h0M91.5 460.4h0M92.5 445.0h0M77.9 448.0h0M83.1 451.1h0M90.0 442.5h0M91.9 452.5h0M86.0 449.3h0M93.9 455.4h0M90.2 452.7h0M93.5 449.4h0M79.8 444.8h0M96.1 453.5h0M70.4 449.1h0M94.4 453.5h0M89.4 448.9h0M90.5 443.5h0M84.2 452.3h0M87.0 450.1h0M88.6 453.7h0M76.7 448.5h0M81.1 444.5h0M82.2 449.3h0M85.2 459.0h0M91.1 451.2h0M72.1 449.9h0M78.9 441.6h0M85.9 443.6h0M90.6 446.7h0M83.9 452.4h0M84.1 446.4h0M86.7 454.2h0M103.9 452.1h0M78.8 458.5h0M87.4 443.1h0M113.9 446.3h0M89.2 442.3h0M99.8 452.8h0M82.8 452.0h0M87.5 455.5h0M83.6 449.6h0M87.0 455.7h0M89.9 460.7h0M83.0 455.2h0M98.4 450.4h0M101.4 438.6h0M92.7 461.6h0M86.5 451.8h0M84.3 450.0h0M78.0 454.8h0M92.2 447.3h0M89.8 446.2h0M83.5 454.0h0M87.9 457.7h0M85.3 447.8h0M70.9 451.5h0M104.4 454.6h0M85.4 448.7h0M79.6 446.7h0M83.7 444.8h0M84.4 447.3h0M81.8 459.1h0M90.2 456.7h0M86.7 461.1h0M88.2 443.3h0M70.7 451.0h0M74.0 446.0h0M81.3 446.6h0M75.9 449.7h0M73.7 456.4h0M80.5 441.9h0M86.4 459.0h0M81.4 448.5h0M88.3 451.9h0M85.3 448.9h0M93.0 448.6h0M84.4 449.7h0M88.6 451.7h0M74.8 454.7h0M85.4 446.9h0M83.2 453.7h0M101.6 451.1h0M84.1 453.1h0M102.4 439.9h0M89.7 447.2h0M90.8 449.4h0M103.8 439.1h0M84.5 452.1h0"/><path stroke="#c4101c" stroke-opacity="0.31" d="M77.6 469.2h0M91.2 468.4h0M86.3 459.4h0M90.7 459.8h0M92.2 466.2h0M85.3 473.3h0M89.9 454.3h0M105.8 469.0h0M97.4 469.5h0M74.7 459.4h0M90.9 473.7h0M97.9 474.2h0M89.7 469.1h0M96.7 462.8h0M89.7 468.3h0M101.1 463.5h0M90.5 467.2h0M78.0 468.5h0M90.8 465.7h0M88.5 465.9h0M84.6 459.0h0M82.9 461.9h0M110.4 476.6h0M89.4 472.9h0M98.6 472.0h0M99.0 469.9h0M83.7 461.5h0M100.8 456.3h0M87.2 465.4h0M89.6 469.6h0M92.1 469.8h0M79.8 465.4h0M106.1 458.5h0M96.4 462.9h0M89.7 464.9h0M84.8 469.0h0M86.7 480.1h0M103.3 473.7h0M85.1 457.0h0M89.5 463.3h0M93.2 464.6h0M88.3 464.3h0M86.3 465.2h0M85.4 468.8h0M92.8 467.4h0M94.1 458.5h0M85.0 453.9h0M80.7 462.0h0M112.6 467.0h0M97.4 466.6h0M87.5 465.8h0M77.7 461.4h0M78.9 469.9h0M83.0 458.6h0M87.5 466.2h0M91.1 472.3h0M82.3 462.8h0M97.7 468.0h0M83.3 464.0h0M88.5 463.8h0M116.1 468.1h0M90.9 465.0h0M82.5 470.0h0M92.7 468.8h0M79.3 468.5h0M94.9 467.9h0M83.3 468.5h0M85.2 477.5h0M80.9 472.1h0M95.0 464.9h0M94.5 471.2h0M95.1 472.0h0M85.7 459.1h0M77.7 469.6h0M83.1 460.7h0M94.8 464.5h0M81.3 476.8h0M89.4 468.9h0M96.1 468.4h0M94.0 471.4h0M97.8 470.9h0M82.1 471.7h0M99.7 466.3h0M79.6 465.3h0M86.2 468.5h0M97.6 460.5h0M86.3 468.2h0M94.2 470.9h0M112.0 457.5h0M86.9 461.1h0M97.3 467.0h0M92.6 465.1h0M73.8 468.8h0M92.6 458.8h0M77.4 457.6h0M87.5 460.8h0M95.3 464.8h0M80.9 471.3h0M93.2 454.6h0M78.4 469.9h0M83.7 475.1h0M91.3 462.2h0M81.1 474.4h0M87.1 463.4h0M89.2 462.7h0M93.3 466.7h0M92.5 465.2h0M89.1 464.6h0M82.1 460.9h0M75.4 466.4h0M71.9 467.9h0M85.9 456.8h0M100.2 461.4h0M95.4 462.3h0M79.6 471.4h0M98.0 474.8h0M87.5 457.4h0M91.5 466.5h0M94.7 464.1h0M81.6 468.8h0M79.2 474.1h0M90.2 469.5h0M87.4 473.1h0M87.3 465.0h0M108.9 460.3h0M87.7 466.7h0M83.3 467.8h0M85.3 472.2h0M81.7 464.1h0M82.3 469.8h0M100.9 465.7h0M79.3 466.5h0M86.7 476.9h0M102.6 462.1h0M75.4 469.9h0M92.7 465.8h0M96.4 462.2h0M92.6 457.6h0M82.7 463.7h0M95.5 474.5h0M95.0 467.3h0M102.1 465.8h0M102.6 463.7h0M95.2 476.1h0M87.0 468.3h0M86.3 471.9h0M98.6 458.1h0M87.5 456.8h0M81.5 465.7h0M83.5 462.2h0M78.2 467.2h0M90.9 467.8h0M84.4 471.2h0M79.8 475.4h0M89.6 463.7h0M87.7 469.2h0M96.9 459.2h0M99.0 468.4h0M83.3 465.6h0M95.5 459.0h0M86.8 465.7h0M96.2 456.8h0M80.0 477.2h0M80.1 470.7h0M89.3 460.5h0M89.7 468.5h0M91.4 461.6h0M89.6 470.9h0M96.3 470.6h0M77.8 465.8h0M81.7 477.0h0M88.2 462.6h0M87.5 465.4h0M79.1 458.3h0M85.2 473.3h0M88.2 467.4h0M101.3 471.1h0M91.1 466.4h0M94.7 472.3h0M103.3 471.0h0M91.8 469.1h0M96.8 467.4h0M79.5 463.2h0M90.0 460.5h0M90.1 462.9h0M94.7 465.6h0M87.0 461.5h0M86.0 471.4h0M92.3 461.9h0M89.5 463.9h0M103.3 474.0h0M93.5 462.0h0M79.8 468.6h0M102.1 475.1h0M111.4 460.5h0M84.3 464.2h0M95.9 471.5h0M85.7 469.2h0M95.2 457.7h0M83.5 454.6h0M93.0 461.4h0M96.5 470.6h0M84.4 470.2h0M83.1 470.4h0M94.6 468.6h0M88.4 471.6h0M91.5 469.5h0M79.1 462.7h0M97.5 473.0h0M94.8 466.0h0M95.2 466.5h0M83.6 454.8h0M87.7 474.9h0M84.3 459.3h0M85.4 470.5h0M90.3 459.9h0M93.5 465.9h0M88.9 463.9h0"/><path stroke="#c4101c" stroke-opacity="0.49" d="M113.3 472.4h0M87.1 456.8h0M84.2 462.6h0M89.9 473.4h0M115.3 462.2h0M98.7 464.8h0M89.9 472.2h0M97.4 465.9h0M79.3 463.9h0M82.0 470.3h0M76.5 468.4h0M99.8 456.9h0M74.1 459.3h0M115.1 469.8h0M96.1 465.3h0M82.2 478.3h0M84.5 473.2h0M87.8 468.2h0M99.1 470.3h0M79.0 464.0h0M107.8 456.0h0M101.5 471.4h0M96.8 471.7h0M78.8 463.8h0M98.9 467.8h0M86.4 469.4h0M82.7 464.0h0M84.7 463.9h0M100.2 467.1h0M90.7 463.5h0M94.1 469.2h0M104.0 466.6h0M100.6 454.2h0M82.8 465.2h0M92.8 466.2h0M91.1 462.8h0M88.9 469.2h0M73.6 464.4h0M86.3 455.5h0M97.1 473.4h0M89.1 459.2h0M104.0 468.2h0M85.5 465.6h0M85.2 462.8h0M96.2 460.0h0M87.9 470.1h0M90.1 472.3h0M86.3 474.3h0M82.5 465.5h0M112.4 451.8h0M84.0 463.0h0M89.7 464.7h0M86.7 459.5h0M92.7 470.6h0M98.8 459.5h0M84.8 464.9h0M84.3 476.5h0M89.7 469.7h0M77.3 456.4h0M86.5 466.9h0M105.2 457.9h0M85.8 471.3h0M72.1 465.1h0M83.2 477.2h0M93.0 464.8h0M94.5 457.1h0M88.6 466.2h0M81.1 458.1h0M97.7 461.7h0M87.7 464.2h0M91.2 469.5h0M98.4 470.1h0M75.1 456.2h0M93.8 461.7h0M95.6 475.3h0M91.0 470.9h0M81.3 457.3h0M95.5 466.8h0M85.7 470.6h0M92.3 467.0h0M69.5 470.4h0M96.2 459.6h0M83.7 465.5h0M90.3 464.8h0M86.9 476.2h0M77.2 464.3h0M76.0 469.6h0M94.1 459.8h0M79.5 464.7h0M95.5 472.0h0M89.6 466.4h0M91.0 467.7h0M91.3 469.6h0M84.9 469.4h0M89.4 468.6h0M77.3 457.9h0M97.5 463.3h0M84.3 460.5h0M85.7 467.0h0M105.6 470.6h0M100.2 467.5h0M93.4 468.8h0M87.4 473.7h0M74.6 462.1h0M78.0 467.5h0M97.6 462.9h0M82.1 465.0h0M93.1 474.2h0M103.8 463.6h0M92.0 468.1h0M106.2 472.6h0M78.1 466.4h0M90.1 455.6h0M85.6 467.9h0M91.7 460.0h0M103.2 462.2h0M68.6 464.3h0M79.8 463.3h0M107.1 482.7h0M92.3 462.7h0M76.5 470.2h0M98.6 466.9h0M87.3 467.0h0M98.1 463.7h0M83.0 468.4h0M99.1 463.3h0M73.1 465.8h0M89.0 464.3h0M91.5 465.2h0M90.9 472.5h0M96.0 462.1h0M88.9 458.6h0M95.1 457.0h0M94.7 462.1h0M96.6 471.3h0M83.5 469.7h0M83.4 468.2h0M97.2 454.3h0M100.2 469.0h0M96.2 478.6h0M87.2 464.6h0M90.4 459.7h0M85.0 477.4h0M83.2 474.0h0M88.7 458.1h0M81.1 467.1h0M91.1 454.5h0M94.4 461.3h0M86.8 475.3h0M87.8 471.0h0M73.8 467.7h0M74.7 466.9h0M83.4 469.8h0M78.4 468.5h0M99.1 468.7h0M111.6 466.1h0M89.6 464.6h0M103.4 466.2h0M99.0 462.1h0M91.0 465.4h0M83.3 476.0h0M84.3 466.8h0M81.0 457.5h0M78.5 464.1h0M80.6 461.3h0M115.0 455.6h0M101.7 466.4h0M79.3 470.9h0M118.1 462.4h0M94.9 472.3h0M83.9 467.0h0M84.0 474.0h0M84.9 462.2h0M99.7 474.9h0M75.0 463.3h0M96.9 461.1h0M91.4 475.1h0M90.4 459.8h0M96.8 462.7h0M95.6 467.2h0M80.9 458.6h0M85.9 472.0h0M91.1 466.6h0M91.0 461.3h0M75.0 461.9h0M96.2 469.8h0M86.1 471.0h0M83.3 473.6h0M84.3 460.5h0M91.2 472.4h0M79.9 475.4h0M73.9 461.6h0M79.5 471.7h0M99.3 479.1h0M104.2 468.0h0M97.2 478.8h0M85.2 464.4h0M87.0 464.4h0M91.8 467.4h0M92.7 456.4h0M72.0 473.4h0M93.8 463.7h0M85.2 464.1h0M83.8 464.4h0M95.6 465.1h0M90.3 472.8h0M80.3 462.0h0M94.0 460.7h0M86.7 467.6h0M79.1 470.7h0M92.7 464.6h0M107.7 468.8h0M103.3 460.6h0M72.1 474.4h0M91.1 456.6h0M87.6 475.4h0M90.8 466.2h0M104.9 453.1h0"/><path stroke="#c4101c" stroke-opacity="0.66" d="M93.8 476.0h0M89.6 460.5h0M80.0 466.7h0M105.3 452.5h0M102.3 466.2h0M93.1 471.5h0M78.3 464.4h0M86.3 467.4h0M84.8 461.9h0M89.0 461.0h0M89.6 455.1h0M83.1 465.3h0M97.2 465.9h0M98.6 469.5h0M97.2 467.8h0M82.3 464.6h0M73.6 467.7h0M73.8 464.4h0M84.4 461.8h0M80.0 469.7h0M90.6 461.7h0M89.2 468.4h0M96.9 461.9h0M89.7 466.1h0M103.5 458.8h0M100.4 463.9h0M84.1 469.3h0M93.1 466.8h0M82.6 465.7h0M87.6 473.3h0M90.9 467.8h0M89.8 459.8h0M87.8 471.6h0M89.2 479.8h0M110.0 445.2h0M91.9 469.6h0M91.0 472.8h0M99.8 472.8h0M84.7 475.2h0M98.8 465.0h0M95.0 465.6h0M93.9 459.1h0M86.1 475.9h0M84.2 464.3h0M85.7 469.0h0M103.9 445.0h0M92.9 469.1h0M92.1 472.0h0M87.4 467.0h0M90.5 466.8h0M73.6 465.7h0M85.3 476.8h0M86.3 458.4h0M85.2 460.4h0M108.2 451.2h0M89.5 472.9h0M90.7 473.5h0M120.1 454.7h0M82.1 479.2h0M74.5 465.0h0M99.9 473.1h0M99.6 466.2h0M81.8 473.8h0M91.0 464.0h0M83.4 466.9h0M81.3 463.4h0M98.7 464.6h0M91.1 462.3h0M98.6 465.3h0M98.2 481.3h0M95.3 471.7h0M90.2 474.9h0M80.7 472.0h0M73.8 472.7h0M76.1 467.9h0M79.4 467.7h0M83.8 469.7h0M92.0 466.4h0M88.7 457.8h0M90.6 470.2h0M95.9 460.1h0M79.3 466.8h0M91.9 456.9h0M79.0 467.6h0M82.7 463.0h0M80.8 462.7h0M85.1 465.9h0M100.2 472.6h0M103.4 457.8h0M93.9 468.0h0M91.5 471.2h0M82.4 473.2h0M90.8 464.9h0M93.5 476.7h0M89.5 474.5h0M89.2 463.0h0M90.2 469.5h0M97.1 462.5h0M84.4 464.8h0M94.9 469.3h0M83.0 465.3h0M87.7 457.4h0M87.4 459.2h0M85.3 458.3h0M93.5 460.9h0M86.0 464.7h0M90.4 470.9h0M97.0 462.3h0M77.5 457.5h0M86.9 464.8h0M77.2 465.5h0M94.8 471.3h0M93.5 474.6h0M87.4 470.9h0M105.4 460.1h0M92.8 463.4h0M78.7 460.7h0M77.3 465.5h0M90.0 464.9h0M80.0 469.2h0M81.1 471.0h0M103.6 467.6h0M101.3 462.2h0M88.3 456.7h0M78.4 463.1h0M85.8 477.2h0M105.9 455.0h0M105.7 468.8h0M90.1 457.7h0M93.3 467.9h0M94.4 466.0h0M113.5 464.6h0M107.6 454.6h0M88.2 461.5h0M93.6 464.9h0M89.2 470.0h0M90.9 460.9h0M100.0 461.1h0M91.2 458.8h0M99.9 464.6h0M83.3 476.4h0M94.9 465.7h0M84.4 464.2h0M71.9 464.0h0M69.9 461.0h0M90.0 467.1h0M89.9 462.4h0M88.2 464.9h0M97.8 459.4h0M97.6 471.7h0M79.9 467.3h0M87.5 457.6h0M85.9 471.8h0M81.3 459.8h0M102.0 466.0h0M77.0 464.0h0M78.0 461.2h0M86.4 461.1h0M86.5 470.0h0M81.7 470.1h0M87.1 468.8h0M89.1 466.2h0M77.6 478.5h0M97.0 469.7h0M84.3 461.9h0M85.7 463.5h0M95.2 467.5h0M95.2 463.7h0M93.6 459.4h0M82.7 467.5h0M91.3 460.8h0M81.8 466.8h0M89.6 461.4h0M89.2 472.0h0M91.7 473.8h0M92.1 474.3h0M107.4 470.5h0M90.0 469.8h0M93.2 464.1h0M78.3 464.4h0M93.9 472.6h0M91.2 458.7h0M91.1 456.7h0M82.3 470.0h0M90.5 463.2h0M90.1 460.6h0M84.8 468.2h0M90.2 464.9h0M92.7 473.6h0M85.8 466.7h0M109.1 467.6h0M89.6 478.6h0M92.2 463.9h0M109.0 452.3h0M82.1 460.0h0M94.3 468.3h0M109.1 468.1h0M97.1 469.8h0M80.0 467.2h0M93.4 468.3h0M89.2 457.7h0M88.5 463.8h0M85.7 458.1h0M99.8 467.4h0M79.5 473.0h0M83.4 465.5h0M83.1 463.0h0M92.5 465.2h0M98.4 455.9h0M101.7 457.0h0M107.5 471.1h0M100.2 463.0h0M90.2 470.2h0M97.0 470.6h0M91.0 453.4h0M87.0 470.7h0M79.8 467.9h0M88.7 462.7h0"/></g>
<g stroke-width="2.60" stroke-linecap="round"><path stroke="#6478e0" stroke-opacity="0.31" d="M245.3 469.7h0M243.6 468.5h0M238.0 477.5h0M256.5 465.8h0M260.0 473.0h0M258.7 473.1h0M256.6 448.1h0M264.5 477.4h0M240.6 471.5h0M252.1 477.0h0M258.4 475.5h0M258.6 468.8h0M240.7 468.3h0M253.3 451.9h0M264.2 439.2h0M242.4 472.7h0M254.4 466.0h0M248.8 472.6h0M232.7 476.8h0M245.1 473.0h0M266.0 467.2h0M250.4 473.6h0M242.8 471.2h0M247.3 474.3h0M261.3 442.4h0M256.4 475.4h0M263.0 440.2h0M233.4 477.1h0M239.1 477.3h0M265.6 474.6h0M257.8 469.0h0M256.2 449.3h0M231.6 478.2h0M270.1 469.3h0M255.4 449.8h0M252.2 469.3h0M263.9 475.7h0M251.1 476.8h0M267.3 465.4h0M248.5 469.5h0M231.8 478.2h0M258.8 445.6h0M249.4 476.1h0M249.5 464.8h0M250.1 466.7h0M257.9 446.7h0M246.9 477.4h0M235.0 474.6h0M240.5 471.5h0M267.3 466.5h0M237.8 478.1h0M261.2 475.5h0M237.4 478.9h0M237.7 477.8h0M262.7 440.9h0M237.6 476.5h0M249.4 456.7h0M246.9 470.3h0M253.3 473.1h0M260.7 443.4h0M256.7 476.7h0M245.0 476.9h0M233.4 475.0h0M256.1 449.3h0M231.7 478.8h0M252.1 453.9h0M259.1 467.4h0M260.0 443.9h0M231.5 478.2h0M246.2 460.1h0M258.3 470.5h0M261.7 441.6h0M269.2 468.7h0M257.0 447.8h0M231.6 478.0h0M246.9 466.9h0M243.8 475.6h0M254.0 477.9h0M247.8 471.8h0M248.9 457.0h0M256.3 471.1h0M258.3 475.3h0M261.5 442.3h0M240.6 475.9h0M251.5 475.7h0M246.9 459.4h0M255.0 463.6h0M253.3 452.5h0M267.9 476.5h0M258.1 446.4h0M243.8 473.7h0M259.1 473.8h0M231.3 477.9h0M270.8 475.9h0M243.4 470.2h0M252.1 465.2h0M237.6 473.1h0M256.8 448.1h0M251.1 455.5h0M249.1 457.3h0M260.8 472.7h0M233.2 474.1h0M233.4 478.7h0M240.7 472.6h0M236.7 472.6h0M243.6 472.4h0M270.7 472.0h0M233.4 477.5h0M232.6 477.4h0M232.5 477.4h0M244.2 478.0h0M253.9 451.8h0M245.5 479.1h0M247.6 469.0h0M238.0 475.2h0M249.6 470.8h0M252.1 453.9h0M248.1 478.7h0M258.7 475.0h0M250.8 455.1h0M260.6 468.5h0M251.1 454.5h0M261.3 467.7h0M259.8 471.8h0M241.1 477.7h0M248.9 455.9h0M255.9 474.4h0M254.3 475.7h0M247.4 458.8h0M242.9 467.2h0M252.5 452.7h0M261.9 441.7h0M256.8 474.8h0M246.1 461.3h0M262.0 441.4h0M245.5 473.8h0M242.8 474.8h0M253.2 468.6h0M244.8 478.6h0M244.6 473.3h0M266.5 466.2h0M252.7 466.7h0M242.1 467.3h0M242.3 469.4h0M231.7 478.2h0M266.8 470.5h0M235.5 472.5h0"/><path stroke="#6478e0" stroke-opacity="0.49" d="M266.9 467.1h0M258.5 445.6h0M251.0 472.8h0M251.5 472.5h0M271.5 469.5h0M233.6 477.2h0M249.3 457.9h0M255.8 474.7h0M254.4 451.2h0M258.8 474.0h0M239.0 471.1h0M234.5 476.1h0M268.9 471.2h0M235.9 477.6h0M239.4 474.2h0M249.1 457.0h0M233.2 475.5h0M256.3 472.3h0M241.4 477.9h0M264.2 439.2h0M238.4 474.8h0M231.8 477.5h0M250.9 472.1h0M236.5 477.5h0M257.1 476.0h0M254.5 450.6h0M238.2 472.8h0M237.6 469.9h0M249.5 457.2h0M242.1 477.5h0M269.4 471.3h0M257.7 447.0h0M235.7 473.0h0M255.5 473.8h0M259.9 444.0h0M268.7 475.2h0M247.3 459.3h0M257.4 472.0h0M242.3 478.5h0M251.5 453.8h0M261.7 442.2h0M237.0 477.5h0M249.6 477.7h0M231.5 478.2h0M246.8 473.5h0M260.4 470.7h0M264.3 463.6h0M252.7 469.8h0M234.9 473.5h0M253.7 470.9h0M243.1 467.7h0M262.3 441.1h0M239.2 476.6h0M256.3 448.5h0M261.0 470.9h0M248.6 468.7h0M269.0 463.3h0M259.2 466.6h0M253.8 451.2h0M258.2 446.7h0M238.0 469.9h0M232.4 477.5h0M237.8 477.1h0M263.4 467.5h0M263.5 440.0h0M255.5 450.3h0M245.2 472.2h0M254.3 451.5h0M234.3 475.4h0M252.0 454.1h0M235.1 478.8h0M253.6 451.8h0M254.2 465.9h0M256.9 448.1h0M249.5 469.3h0M232.1 477.8h0M261.1 465.4h0M239.9 471.7h0M261.6 442.4h0M247.8 459.2h0M245.4 474.3h0M262.7 440.6h0M252.8 452.5h0M250.6 471.6h0M232.4 476.8h0M269.5 473.6h0M248.4 478.8h0M233.1 475.4h0M236.1 477.5h0M242.0 470.5h0M263.0 471.7h0M235.7 476.3h0M237.7 473.7h0M239.0 476.4h0M256.5 448.9h0M240.0 475.5h0M232.6 478.3h0M249.5 456.7h0M232.0 477.3h0M265.7 474.9h0M266.8 470.9h0M259.6 476.2h0M243.0 474.9h0M231.7 478.0h0M237.0 476.1h0M248.5 458.9h0M252.3 453.7h0M260.9 443.0h0M267.0 476.1h0M230.9 478.8h0M262.9 440.6h0M236.8 472.9h0M261.2 442.1h0M266.8 471.2h0M255.8 474.6h0M257.8 463.0h0M264.8 473.6h0M257.0 447.6h0M257.1 468.1h0M262.1 441.3h0M265.8 468.9h0M248.9 456.7h0M263.5 477.5h0M250.9 468.0h0M264.4 472.3h0M251.1 454.1h0M238.4 473.7h0M258.6 471.3h0M269.0 473.0h0M263.8 439.3h0M241.8 476.3h0M241.1 474.0h0M247.8 459.7h0M235.3 477.3h0M268.3 465.6h0M259.3 444.8h0M243.7 475.6h0M262.4 441.5h0M258.8 472.8h0M235.1 478.4h0M240.0 477.0h0M231.6 478.3h0M256.9 447.8h0M231.8 477.8h0M235.5 477.8h0M247.1 473.3h0M247.9 458.6h0"/><path stroke="#6478e0" stroke-opacity="0.66" d="M262.1 474.2h0M270.5 473.3h0M238.7 476.1h0M271.3 467.7h0M252.5 453.4h0M258.2 446.7h0M251.5 455.0h0M260.7 442.8h0M234.8 474.7h0M246.2 460.4h0M268.7 464.7h0M265.8 473.4h0M250.7 467.6h0M243.1 473.4h0M255.5 471.0h0M262.2 471.4h0M253.3 452.8h0M259.0 475.8h0M236.4 477.5h0M259.1 445.1h0M264.7 475.4h0M254.1 472.5h0M267.2 465.0h0M265.2 475.0h0M249.5 456.6h0M259.5 474.6h0M233.5 477.5h0M242.4 478.7h0M236.4 478.0h0M233.0 473.9h0M250.2 455.7h0M258.8 445.6h0M263.8 439.9h0M270.4 468.4h0M232.0 478.4h0M246.8 460.2h0M235.7 472.0h0M237.9 476.7h0M261.7 473.1h0M260.4 443.7h0M246.1 478.6h0M263.4 439.6h0M263.9 439.4h0M248.7 456.6h0M244.2 468.4h0M264.4 471.9h0M244.3 474.8h0M243.3 477.2h0M243.8 471.6h0M262.2 441.3h0M262.7 440.8h0M249.7 456.1h0M240.2 476.3h0M267.1 462.8h0M232.7 478.0h0M271.1 472.2h0M255.3 470.2h0M240.4 478.2h0M253.1 452.5h0M243.7 476.2h0M251.4 454.7h0M262.3 466.5h0M261.0 442.5h0M263.0 440.9h0M238.0 476.3h0M240.4 472.8h0M231.9 477.9h0M271.5 466.7h0M241.8 467.1h0M247.3 459.6h0M256.4 448.5h0M242.2 473.0h0M250.3 456.4h0M258.1 475.6h0M244.8 469.7h0M248.0 458.7h0M248.5 478.6h0M253.6 451.3h0M263.3 440.1h0M254.7 478.0h0M243.1 474.9h0M232.8 475.7h0M259.3 445.5h0M263.6 439.6h0M252.3 454.5h0M248.4 470.5h0M246.1 475.3h0M256.3 448.5h0M239.4 475.0h0M255.9 449.0h0M254.4 451.5h0M262.4 474.2h0M260.5 443.7h0M239.5 473.5h0M256.2 448.1h0M232.3 478.0h0M266.8 466.0h0M264.0 467.6h0M242.8 473.7h0M251.9 466.4h0M232.0 477.9h0M249.4 457.3h0M261.4 465.8h0M261.8 441.9h0M242.5 470.9h0M232.3 478.0h0M268.6 470.4h0M262.8 440.3h0M246.1 461.2h0M233.6 477.6h0M245.1 471.4h0M257.7 447.0h0M243.0 477.7h0M248.4 475.9h0M251.6 471.4h0M236.5 476.4h0M264.1 463.3h0M265.0 470.4h0M231.6 478.3h0M258.9 445.4h0M240.4 479.1h0M263.7 439.8h0M247.1 459.6h0M249.1 457.7h0M260.6 468.1h0M233.0 477.5h0M253.5 451.4h0M256.5 448.5h0M234.5 474.6h0M252.8 453.1h0M266.1 463.5h0M233.3 476.2h0M258.3 472.0h0M253.9 473.1h0M232.0 477.6h0M259.2 464.7h0M253.6 476.0h0M256.7 448.2h0M260.4 475.9h0M262.2 472.9h0M263.1 466.7h0M257.6 468.1h0M247.7 459.6h0M267.0 466.9h0M235.4 478.8h0M233.6 475.0h0"/><path stroke="#a0a293" stroke-opacity="0.31" d="M241.0 467.6h0M262.8 467.1h0M241.0 472.4h0M266.6 466.6h0M258.7 476.8h0M233.0 475.1h0M257.6 473.2h0M255.7 463.3h0M262.1 474.5h0M233.9 475.8h0M261.7 462.3h0M236.1 472.3h0M245.1 467.5h0M236.3 472.2h0M268.8 473.4h0M255.7 471.7h0M235.6 478.5h0"/><path stroke="#a0a293" stroke-opacity="0.49" d="M260.0 466.5h0M253.3 472.6h0M266.2 465.0h0M238.0 477.0h0M241.5 475.3h0M248.1 467.9h0M235.5 476.1h0M239.5 475.6h0M250.2 468.5h0M269.3 466.0h0M254.7 463.0h0M266.5 473.1h0M242.2 474.9h0M269.6 469.5h0M240.3 471.9h0M245.8 471.4h0M248.7 468.9h0"/><path stroke="#a0a293" stroke-opacity="0.66" d="M268.1 476.1h0M236.2 476.7h0M267.1 467.3h0M240.3 470.3h0M264.3 463.5h0M242.0 468.0h0M252.5 469.3h0M255.8 476.9h0M252.3 463.5h0M232.4 477.8h0M257.1 475.6h0M270.6 462.6h0M254.2 473.4h0M268.1 469.8h0M242.8 474.4h0M269.7 470.2h0"/><path stroke="#8c5a8c" stroke-opacity="0.31" d="M264.4 468.0h0M251.9 475.9h0M237.0 477.7h0M268.3 466.8h0M260.5 465.7h0M245.3 478.9h0M234.3 474.2h0M250.1 465.0h0M256.2 467.3h0M256.2 466.5h0M268.3 469.4h0M248.7 472.2h0M243.8 473.9h0M269.6 474.7h0M232.0 477.2h0M247.4 471.3h0M261.2 470.7h0M257.2 477.4h0M249.9 467.9h0M234.0 475.4h0M270.7 473.0h0M266.4 473.8h0M261.5 476.8h0M234.4 474.6h0M248.4 477.9h0M250.5 466.9h0M262.2 462.0h0M234.7 473.0h0M234.9 476.7h0M237.8 476.8h0M239.4 470.7h0M241.7 476.9h0M237.0 469.9h0M245.7 469.0h0M236.1 477.1h0M239.2 472.7h0M231.6 477.4h0M240.1 472.6h0M244.3 471.9h0M236.9 473.6h0M263.2 472.7h0M266.6 473.8h0M261.6 462.7h0M256.6 474.3h0M237.6 476.3h0M254.5 468.7h0M270.6 470.8h0M239.6 472.9h0M238.1 474.2h0M253.2 465.1h0M234.6 476.6h0M263.9 474.2h0M242.9 474.3h0M241.5 478.4h0M231.5 478.0h0M270.0 475.0h0M268.8 471.5h0M260.2 473.1h0M233.9 476.1h0M233.4 474.6h0M246.7 476.8h0M235.1 473.5h0M240.7 473.6h0M264.9 474.8h0M253.3 475.2h0M239.3 468.2h0M254.0 473.8h0M267.3 470.7h0M270.0 470.6h0M237.5 476.0h0M242.8 465.9h0M248.8 466.3h0M250.0 467.0h0M241.9 475.3h0M248.0 478.3h0M256.5 467.9h0M249.3 464.2h0M264.1 470.7h0M249.8 469.5h0M251.4 463.1h0M236.2 472.8h0M233.8 475.9h0M237.9 470.2h0M242.1 474.6h0M266.5 474.2h0M232.4 476.2h0M235.5 473.5h0M252.9 472.2h0M260.0 463.2h0M261.4 472.4h0M236.2 474.0h0M234.8 475.8h0M270.7 462.2h0M251.2 465.3h0M250.3 465.7h0M249.0 463.9h0M242.8 472.0h0M245.5 465.7h0M264.8 470.7h0M257.9 473.6h0M258.9 467.2h0M252.9 466.7h0M235.2 477.6h0M260.1 466.9h0M260.9 467.4h0M246.6 474.8h0M245.6 466.4h0M258.1 464.1h0M253.5 467.9h0M251.2 474.3h0M260.7 466.6h0M262.9 464.6h0M262.8 466.4h0M239.7 473.2h0M234.2 475.7h0M268.6 467.6h0M235.1 472.9h0M269.4 462.9h0M238.0 474.9h0M256.2 464.2h0M249.1 468.8h0M261.8 464.4h0M235.8 476.3h0M256.0 476.4h0M263.7 473.8h0M237.1 471.1h0M232.8 476.0h0M234.7 473.1h0M242.8 468.1h0M232.2 477.1h0M268.5 464.4h0M242.5 467.3h0M255.5 476.9h0M260.6 469.4h0M235.6 477.6h0M257.9 477.9h0M246.6 472.5h0M262.0 467.7h0M263.7 462.7h0M254.3 466.9h0M268.2 468.1h0M252.5 470.5h0M237.2 476.0h0M249.2 466.7h0M266.3 464.9h0M252.2 471.7h0M245.4 466.5h0M268.1 464.8h0M269.4 474.4h0M270.3 472.9h0M243.3 467.6h0M257.4 471.0h0M236.7 477.5h0M243.0 472.8h0M258.5 474.6h0M247.9 469.0h0M266.1 474.8h0M243.2 469.7h0M234.7 475.3h0M271.3 465.3h0M266.9 465.3h0M234.9 474.4h0M260.7 464.7h0M252.7 464.2h0M245.6 472.9h0M260.4 468.3h0M244.0 467.7h0M260.2 476.9h0M267.1 463.4h0M250.9 466.9h0M259.3 466.2h0M261.6 462.0h0M252.2 465.4h0M248.3 473.7h0M246.6 477.9h0M256.3 466.6h0M262.1 467.0h0M267.2 472.1h0M234.7 473.1h0M241.0 473.9h0M235.1 476.7h0M263.9 470.9h0M232.1 477.2h0M231.9 478.4h0M232.2 475.9h0M262.1 470.8h0M234.0 475.6h0M271.1 475.6h0M237.9 476.5h0M269.6 469.0h0M253.5 466.0h0M239.6 472.5h0M238.8 470.3h0M233.2 474.3h0M260.4 475.4h0M238.1 477.5h0M232.4 478.2h0M241.8 467.8h0M265.8 471.0h0M234.5 477.5h0M239.3 476.5h0M259.3 470.4h0M244.0 470.1h0M245.5 465.7h0M232.2 477.3h0M268.1 463.2h0M241.9 468.3h0M247.7 468.4h0M244.7 471.5h0M253.1 465.2h0M270.8 466.0h0M257.4 473.4h0M245.3 466.6h0M265.9 475.9h0"/><path stroke="#8c5a8c" stroke-opacity="0.49" d="M263.2 470.4h0M238.2 473.0h0M242.7 475.4h0M231.4 477.1h0M257.3 467.4h0M242.5 469.4h0M259.2 477.6h0M254.3 470.5h0M234.5 476.7h0M269.8 465.9h0M245.2 470.2h0M266.6 467.7h0M244.2 477.3h0M250.9 468.9h0M247.9 478.2h0M234.0 474.9h0M261.4 462.2h0M269.8 472.2h0M253.6 465.3h0M251.2 465.0h0M247.3 470.8h0M247.9 467.2h0M233.4 476.4h0M234.3 473.2h0M251.4 466.1h0M248.4 476.3h0M240.4 474.1h0M239.2 469.8h0M231.9 478.0h0M255.5 468.8h0M259.6 465.7h0M265.5 462.1h0M232.1 478.0h0M244.0 469.9h0M261.1 475.2h0M253.7 476.0h0M233.4 478.1h0M239.2 477.0h0M232.2 477.0h0M256.7 469.7h0M243.8 474.8h0M255.2 466.3h0M256.9 462.4h0M260.8 462.5h0M250.0 468.4h0M238.2 470.5h0M256.7 462.3h0M235.0 478.2h0M250.3 475.2h0M244.8 476.5h0M246.7 466.4h0M263.1 471.3h0M247.3 471.8h0M254.3 463.6h0M245.9 470.6h0M235.7 476.0h0M269.3 470.5h0M250.8 475.1h0M236.7 472.7h0M235.6 474.7h0M231.8 477.5h0M233.4 474.4h0M234.7 476.8h0M249.6 475.4h0M241.8 471.9h0M233.5 478.3h0M249.0 467.2h0M257.5 462.8h0M254.3 466.5h0M232.4 478.3h0M252.6 474.5h0M251.4 470.0h0M245.5 467.3h0M238.3 473.3h0M247.0 473.5h0M258.7 465.6h0M244.0 478.0h0M237.7 472.1h0M263.3 476.7h0M260.3 468.1h0M251.1 465.2h0M261.3 474.3h0M241.0 471.8h0M261.0 465.0h0M233.4 477.3h0M252.4 469.0h0M259.0 465.1h0M265.0 474.5h0M234.0 475.8h0M251.7 467.7h0M246.0 466.0h0M240.6 475.7h0M236.6 472.0h0M231.6 478.0h0M238.5 474.0h0M233.4 475.8h0M233.2 476.6h0M244.8 478.3h0M247.1 466.8h0M271.1 468.2h0M232.3 477.1h0M237.7 469.8h0M247.9 467.4h0M238.9 470.8h0M241.6 470.9h0M243.8 476.8h0M240.2 472.2h0M231.5 476.9h0M255.6 468.2h0M236.4 471.2h0M243.9 470.8h0M260.0 463.0h0M263.3 466.1h0M254.2 470.6h0M245.4 472.8h0M263.8 466.6h0M236.8 475.9h0M251.1 472.1h0M244.9 473.5h0M233.2 477.1h0M257.9 474.3h0M255.6 471.7h0M237.4 477.8h0M240.8 474.9h0M243.9 468.2h0M260.7 469.0h0M252.7 465.0h0M246.2 469.1h0M239.8 474.5h0M236.5 475.2h0M244.1 470.7h0M234.7 473.9h0M245.8 471.0h0M238.3 476.0h0M234.8 475.2h0M232.3 477.7h0M251.8 469.6h0M260.7 466.1h0M252.0 476.7h0M258.8 466.4h0M231.8 478.6h0M240.9 475.1h0M236.6 471.1h0M266.8 473.6h0M232.2 477.8h0M239.4 475.1h0M242.0 476.0h0M231.5 477.5h0M242.8 465.7h0M261.4 466.6h0M247.3 473.3h0M233.8 476.7h0M258.8 468.7h0M260.9 473.4h0M253.1 464.1h0M236.6 475.1h0M252.4 462.8h0M258.4 467.6h0M254.2 463.6h0M237.6 473.5h0M264.2 464.0h0M269.8 468.4h0M268.9 462.2h0M242.6 472.0h0M259.4 470.0h0M263.4 464.9h0M242.8 473.5h0M239.6 468.3h0M264.6 468.6h0M232.9 475.9h0M263.6 471.3h0M253.9 474.4h0M267.8 465.0h0M270.8 475.3h0M251.7 469.2h0M260.2 467.7h0M254.0 477.5h0M269.3 470.0h0M244.2 478.5h0M261.2 468.1h0M264.9 476.4h0M234.0 475.6h0M249.3 473.7h0M234.8 472.0h0M233.3 475.1h0M270.3 463.6h0M246.3 465.1h0M234.1 474.3h0M248.2 470.9h0M233.3 475.9h0M252.0 472.5h0M245.3 468.5h0M234.9 474.1h0M232.1 478.0h0M255.9 474.2h0M245.7 470.0h0M246.2 473.7h0M262.3 465.9h0M248.4 475.3h0M267.8 471.4h0M240.4 472.3h0M256.6 462.1h0M246.3 476.6h0M259.9 475.8h0M238.4 471.8h0M244.8 476.5h0M242.0 467.3h0M245.8 472.8h0M244.8 470.8h0M238.4 470.6h0M240.4 473.5h0M262.7 474.9h0M262.9 473.5h0"/><path stroke="#8c5a8c" stroke-opacity="0.66" d="M266.5 476.4h0M234.5 478.9h0M265.1 466.7h0M248.8 468.8h0M236.0 472.4h0M243.5 466.1h0M250.8 472.4h0M250.7 474.6h0M256.5 476.0h0M252.3 473.5h0M233.2 475.6h0M253.8 477.1h0M244.4 465.7h0M262.2 462.2h0M242.2 470.1h0M265.9 472.9h0M235.1 473.8h0M253.6 468.6h0M232.4 476.4h0M232.5 477.9h0M249.5 478.5h0M236.5 472.7h0M236.1 472.3h0M242.4 476.3h0M265.3 471.6h0M248.6 463.2h0M265.6 472.1h0M261.2 464.1h0M255.4 463.1h0M243.2 466.4h0M237.2 478.6h0M238.0 472.2h0M254.1 476.4h0M247.6 471.4h0M234.1 474.0h0M246.5 468.2h0M235.7 473.7h0M231.9 478.3h0M258.6 476.8h0M250.3 463.5h0M241.1 472.0h0M234.7 475.1h0M236.7 473.8h0M243.7 473.4h0M263.3 475.3h0M253.6 470.2h0M267.4 463.6h0M244.5 475.9h0M256.4 470.5h0M244.0 470.9h0M260.6 468.4h0M241.2 478.8h0M239.9 470.1h0M237.2 473.3h0M238.2 472.1h0M237.7 472.6h0M259.9 464.5h0M265.5 477.6h0M270.2 463.0h0M236.9 476.5h0M237.4 470.7h0M263.1 465.6h0M267.6 467.2h0M239.5 478.9h0M247.8 469.6h0M261.4 464.7h0M252.2 471.9h0M257.1 475.4h0M267.6 463.2h0M261.8 465.8h0M234.4 476.0h0M239.7 469.6h0M261.6 473.4h0M252.7 476.9h0M232.1 476.9h0M260.3 469.6h0M234.8 472.9h0M259.6 466.8h0M266.5 474.0h0M232.0 476.8h0M260.7 469.9h0M257.5 473.5h0M243.5 478.7h0M255.7 477.4h0M243.1 469.7h0M239.4 471.1h0M267.1 474.9h0M250.2 476.7h0M235.7 476.7h0M250.9 476.3h0M247.4 475.9h0M245.9 471.0h0M261.0 464.7h0M233.0 477.2h0M237.9 472.1h0M262.3 466.3h0M249.6 466.5h0M235.5 476.2h0M233.6 477.7h0M240.7 476.4h0M269.7 470.2h0M232.0 476.6h0M242.9 468.0h0M233.1 476.9h0M231.5 477.7h0M238.4 477.5h0M234.7 477.0h0M259.0 468.1h0M260.9 474.2h0M247.9 465.1h0M257.4 474.2h0M241.5 469.8h0M260.6 472.8h0M232.2 476.3h0M257.0 470.5h0M252.0 477.8h0M268.3 466.2h0M238.3 471.8h0M249.5 478.6h0M270.8 471.0h0M249.3 477.8h0M234.1 474.9h0M263.6 463.9h0M255.0 468.7h0M231.8 477.4h0M233.3 474.6h0M237.6 474.1h0M250.9 475.8h0M267.4 468.8h0M240.2 470.5h0M233.9 477.8h0M260.4 473.2h0M252.3 474.5h0M232.3 477.2h0M247.6 466.0h0M256.6 465.9h0M238.2 473.5h0M259.5 474.1h0M233.0 476.8h0M239.0 471.9h0M256.4 466.9h0M238.5 472.8h0M257.4 474.9h0M234.3 478.0h0M250.8 466.7h0M241.3 469.4h0M258.9 462.9h0M247.3 471.1h0M269.2 467.6h0M235.1 478.3h0M233.6 476.7h0M236.5 476.6h0M232.8 474.7h0M255.6 463.4h0M254.0 472.7h0M238.3 472.0h0M262.5 472.0h0M235.0 474.0h0M260.2 464.7h0M252.3 476.1h0M242.3 478.0h0M233.8 476.1h0M244.1 465.3h0M252.2 474.7h0M242.7 476.3h0M252.6 466.6h0M245.8 465.7h0M234.6 475.4h0M256.6 463.6h0M247.1 465.9h0M267.5 475.8h0M263.9 462.2h0M264.4 476.7h0M257.0 463.1h0M232.5 476.0h0M234.1 478.4h0M257.5 467.5h0M256.7 465.1h0M244.4 466.0h0M243.2 478.6h0M256.2 473.3h0M256.7 474.6h0M248.1 464.8h0M259.1 469.7h0M232.0 477.1h0M255.1 465.2h0M248.7 468.2h0M232.0 477.8h0M268.5 467.8h0M255.5 473.5h0M252.5 475.3h0M256.5 469.0h0M235.5 477.3h0M237.7 476.1h0M232.5 477.1h0M234.3 476.2h0M230.7 477.5h0M231.7 477.3h0M231.9 477.6h0M268.4 471.3h0M240.4 474.1h0M234.4 474.6h0M254.2 468.7h0M241.9 471.5h0M262.0 475.9h0M249.8 472.2h0M240.8 470.7h0M233.2 476.9h0M257.7 474.3h0M238.9 473.8h0M261.3 475.8h0M232.6 476.9h0M263.0 473.0h0"/><path stroke="#f5a20a" stroke-opacity="0.31" d="M254.7 475.9h0M259.8 464.5h0M262.6 472.5h0M261.9 473.8h0M262.4 463.9h0M261.8 472.6h0M248.5 476.1h0M276.8 472.4h0M255.9 463.9h0M268.6 481.7h0M265.8 476.3h0M259.0 472.0h0M263.3 473.4h0M257.3 473.1h0M269.6 472.8h0M276.3 467.0h0M246.1 471.3h0M258.1 473.5h0M267.0 474.3h0M259.5 472.5h0M259.9 475.3h0M260.1 476.3h0M248.6 474.1h0M262.0 463.6h0M265.5 468.2h0M264.5 478.4h0M257.9 470.5h0M270.7 471.5h0M259.1 463.6h0M266.0 476.0h0M275.1 477.7h0M255.3 473.9h0M250.0 474.6h0M274.7 472.7h0M255.0 470.5h0M248.7 466.7h0M276.1 472.5h0M251.4 463.3h0M249.2 470.9h0M265.5 464.2h0M263.1 464.0h0M257.6 467.4h0M255.8 474.6h0M255.0 473.1h0M254.3 465.7h0M271.3 473.6h0M257.1 464.1h0M245.5 466.3h0M263.8 469.9h0M266.1 467.9h0M262.9 475.0h0M261.8 473.6h0M273.5 468.9h0M265.1 467.4h0M263.6 475.3h0M256.3 475.0h0M252.0 467.8h0M258.4 468.7h0M258.0 469.6h0M251.0 466.9h0M258.3 471.4h0"/><path stroke="#f5a20a" stroke-opacity="0.49" d="M266.9 471.6h0M256.2 473.8h0M252.8 473.0h0M242.8 467.9h0M264.5 473.6h0M264.9 469.6h0M243.7 467.5h0M270.2 470.0h0M260.9 475.9h0M264.4 472.1h0M262.4 468.1h0M268.5 465.9h0M260.0 470.1h0M273.1 467.2h0M264.4 474.8h0M268.7 473.3h0M260.0 470.6h0M254.1 464.1h0M260.8 470.6h0M274.1 470.2h0M268.9 475.2h0M261.4 474.8h0M260.0 471.4h0M263.9 473.8h0M263.6 473.6h0M261.2 461.6h0M244.4 475.9h0M258.7 467.8h0M262.8 466.9h0M261.9 469.2h0M258.4 473.9h0M266.8 471.9h0M253.1 471.5h0M252.7 475.1h0M265.0 473.0h0M249.9 473.8h0M262.6 470.6h0M252.4 468.3h0M264.3 475.9h0M262.1 474.9h0M272.0 466.7h0M258.9 468.2h0M264.1 472.8h0M277.2 473.2h0M272.8 473.9h0M257.6 463.5h0M260.1 468.0h0M260.0 469.3h0M267.0 474.3h0M264.4 474.3h0M270.0 482.1h0M254.2 472.2h0M258.6 468.5h0M265.6 470.0h0M262.7 469.0h0M255.7 467.3h0M271.5 469.9h0M253.6 475.3h0M261.7 473.5h0M262.8 475.5h0"/><path stroke="#f5a20a" stroke-opacity="0.66" d="M264.7 465.6h0M274.1 471.4h0M258.6 471.9h0M257.1 464.8h0M262.0 466.5h0M241.9 474.6h0M267.5 468.9h0M249.6 472.3h0M261.7 474.1h0M259.2 463.9h0M254.7 467.0h0M244.2 468.6h0M263.8 472.5h0M262.9 468.7h0M264.6 473.0h0M261.2 471.1h0M258.0 472.7h0M263.3 465.3h0M257.9 465.9h0M261.9 470.3h0M246.8 477.2h0M259.6 476.0h0M269.2 472.8h0M251.5 474.4h0M274.7 468.9h0M267.4 472.8h0M259.8 468.7h0M265.8 471.4h0M243.6 472.0h0M269.3 475.1h0M256.4 466.2h0M269.1 472.7h0M269.8 473.9h0M245.7 468.8h0M266.3 466.8h0M244.7 467.7h0M264.5 473.7h0M276.8 482.2h0M251.7 476.8h0M261.3 468.6h0M268.0 469.2h0M275.6 469.0h0M268.3 467.0h0M260.4 468.2h0M266.4 469.7h0M261.9 466.3h0M268.9 471.0h0M262.2 473.9h0M267.9 470.7h0M262.4 470.6h0M256.6 474.2h0M263.1 474.9h0M245.0 464.5h0M267.4 472.3h0M270.2 474.6h0M261.2 475.5h0M278.3 480.4h0M273.3 471.4h0M260.1 466.6h0M243.0 469.5h0"/><path stroke="#c4101c" stroke-opacity="0.31" d="M255.3 462.5h0M275.6 466.9h0M269.2 464.7h0M284.3 461.3h0M278.2 468.6h0M281.2 469.4h0M291.9 465.2h0M269.9 468.1h0M271.8 460.4h0M298.4 466.1h0M279.2 467.5h0M256.3 462.9h0M265.4 461.2h0M267.6 466.2h0M265.2 465.9h0M270.4 462.7h0M275.5 466.4h0M267.0 463.7h0M258.7 461.7h0M277.1 460.7h0M274.1 462.7h0M274.0 463.5h0M266.3 465.1h0M277.7 466.2h0M271.4 467.4h0M268.0 461.4h0M270.9 463.0h0M267.0 466.4h0M258.4 460.4h0M273.9 466.7h0M301.1 462.9h0M278.1 472.0h0M271.6 462.1h0M297.8 464.5h0M276.3 463.0h0M252.6 464.8h0M272.2 467.3h0M271.3 464.3h0M262.2 466.7h0M277.8 462.7h0M268.6 465.8h0M300.2 466.8h0M260.7 462.4h0M292.0 462.0h0M281.8 478.0h0M273.9 465.0h0M275.3 471.6h0M281.3 481.3h0M263.8 462.7h0M285.1 458.4h0M275.8 470.9h0M254.5 465.4h0M272.1 461.0h0M281.4 480.1h0M282.9 465.8h0M277.0 470.6h0M267.9 464.1h0M256.1 463.2h0M282.5 471.5h0M253.9 462.0h0M279.0 465.0h0M278.2 465.5h0M262.6 471.1h0M284.9 468.9h0M262.7 465.1h0M286.8 467.8h0M266.3 461.5h0M289.7 466.3h0M265.1 461.0h0M269.6 464.8h0M266.8 462.2h0M290.8 468.2h0M276.4 463.6h0M272.4 477.1h0M273.9 470.8h0"/><path stroke="#c4101c" stroke-opacity="0.49" d="M278.3 473.4h0M269.2 460.3h0M271.9 463.2h0M297.5 462.3h0M275.7 465.0h0M294.3 460.6h0M282.1 466.9h0M259.1 464.1h0M275.2 463.8h0M263.6 460.6h0M258.6 465.9h0M274.6 469.8h0M301.4 468.5h0M266.0 465.8h0M297.5 465.0h0M257.8 466.0h0M271.3 460.5h0M287.3 460.1h0M262.3 466.3h0M262.0 479.9h0M268.1 468.7h0M286.2 468.7h0M277.1 467.7h0M267.6 459.9h0M260.4 466.4h0M272.0 465.7h0M279.5 468.7h0M264.4 462.4h0M273.9 463.8h0M283.2 464.9h0M267.9 469.7h0M275.8 468.4h0M277.5 467.2h0M273.2 466.0h0M300.7 467.9h0M285.8 468.7h0M272.7 461.4h0M277.0 468.9h0M300.0 462.9h0M275.9 469.3h0M268.5 466.4h0M289.1 463.2h0M263.4 476.4h0M267.9 459.4h0M260.7 466.0h0M297.6 467.1h0M299.6 460.4h0M253.6 465.5h0M274.6 462.5h0M268.3 463.0h0M258.7 462.2h0M289.0 468.7h0M262.8 461.0h0M269.4 460.0h0M275.3 464.8h0M270.7 463.6h0M254.4 463.6h0M280.5 466.3h0M283.1 464.3h0M268.8 467.3h0M273.7 467.8h0M262.7 465.0h0M275.8 477.0h0M255.2 465.8h0M260.0 465.8h0M264.7 464.1h0M268.5 462.3h0M276.0 462.2h0M295.0 458.1h0M260.7 463.0h0M264.4 466.9h0M273.7 461.5h0M258.9 463.3h0M269.8 467.1h0M289.3 466.4h0"/><path stroke="#c4101c" stroke-opacity="0.66" d="M274.4 465.0h0M281.8 466.5h0M261.7 462.4h0M290.6 459.6h0M274.4 461.0h0M274.7 462.1h0M259.2 461.3h0M282.3 463.2h0M279.0 467.9h0M268.8 464.1h0M270.0 467.1h0M276.1 467.0h0M273.3 464.4h0M262.4 461.2h0M272.7 462.5h0M272.5 462.4h0M268.7 466.8h0M267.9 470.1h0M257.8 463.5h0M276.0 466.2h0M277.2 472.7h0M288.7 461.6h0M276.8 463.3h0M274.3 466.9h0M261.9 464.3h0M265.9 466.6h0M276.8 461.8h0M282.5 462.8h0M259.3 475.6h0M265.2 466.2h0M275.5 470.8h0M261.2 467.0h0M254.4 463.6h0M269.2 463.8h0M268.1 468.7h0M274.1 471.8h0M269.5 463.2h0M269.8 462.2h0M262.2 470.0h0M265.9 467.8h0M265.9 463.7h0M266.3 468.7h0M275.3 461.8h0M257.8 465.9h0M282.5 467.7h0M302.2 466.3h0M298.5 461.0h0M271.0 463.9h0M283.1 461.1h0M257.5 462.2h0M272.8 461.9h0M285.6 465.1h0M278.7 466.7h0M265.9 462.2h0M270.0 460.8h0M260.3 464.3h0M264.8 464.3h0M267.5 471.0h0M274.4 464.4h0M267.6 463.7h0M266.6 461.8h0M297.6 461.3h0M277.4 469.9h0M277.9 464.5h0M274.1 471.5h0M273.8 460.4h0M263.9 462.0h0M254.0 466.0h0M252.5 469.8h0M270.9 464.5h0M299.0 460.1h0M276.5 469.5h0M265.8 464.3h0M271.1 463.0h0"/><path stroke="#8c5a8c" stroke-opacity="0.60" d="M290.4 400.6h0"/><path stroke="#8c5a8c" stroke-opacity="0.60" d="M287.6 403.6h0"/><path stroke="#6478e0" stroke-opacity="0.60" d="M286.2 406.2h0"/><path stroke="#6478e0" stroke-opacity="0.60" d="M278.6 419.5h0"/><path stroke="#f5a20a" stroke-opacity="0.60" d="M271.8 427.9h0"/></g>
<g><text x="20.3" y="133.0" font-size="6.9">-1.5</text><text x="29.8" y="136.2" font-size="6.9">-1.0</text><text x="39.4" y="139.4" font-size="6.9">-0.5</text><text x="49.0" y="142.6" font-size="6.9">0.0</text><text x="58.5" y="145.7" font-size="6.9">0.5</text><text x="68.1" y="148.9" font-size="6.9">1.0</text><text x="77.7" y="152.1" font-size="6.9">1.5</text><text x="87.2" y="155.3" font-size="6.9">2.0</text><text x="96.8" y="158.4" font-size="6.9">2.5</text><text x="152.5" y="114.1" font-size="6.9">2.0</text><text x="146.9" y="121.0" font-size="6.9">1.5</text><text x="141.0" y="126.9" font-size="6.9">1.0</text><text x="134.8" y="132.8" font-size="6.9">0.5</text><text x="128.4" y="139.2" font-size="6.9">0.0</text><text x="122.5" y="146.1" font-size="6.9">-0.5</text><text x="116.7" y="152.5" font-size="6.9">-1.0</text><text x="155.2" y="62.8" font-size="6.9">1.0</text><text x="155.2" y="73.7" font-size="6.9">0.5</text><text x="155.2" y="84.7" font-size="6.9">0.0</text><text x="155.2" y="95.7" font-size="6.9">-0.5</text><text x="155.2" y="106.5" font-size="6.9">-1.0</text><text x="43.0" y="152.7" font-size="7">PC1</text><text x="144.9" y="142.6" font-size="7">PC2</text><text x="171.2" y="89.5" font-size="7">PC3</text><text x="84.3" y="20.9" font-size="8.6">GM12878</text><text x="214.0" y="138.2" font-size="6.9">-2</text><text x="226.3" y="142.0" font-size="6.9">-1</text><text x="238.6" y="145.7" font-size="6.9">0</text><text x="251.0" y="149.4" font-size="6.9">1</text><text x="263.3" y="153.1" font-size="6.9">2</text><text x="275.6" y="156.9" font-size="6.9">3</text><text x="333.3" y="114.2" font-size="6.9">2.0</text><text x="325.1" y="122.3" font-size="6.9">1.5</text><text x="317.7" y="129.2" font-size="6.9">1.0</text><text x="309.8" y="138.3" font-size="6.9">0.5</text><text x="300.9" y="147.8" font-size="6.9">0.0</text><text x="292.3" y="156.6" font-size="6.9">-0.5</text><text x="335.0" y="64.7" font-size="6.9">1.5</text><text x="335.0" y="74.5" font-size="6.9">1.0</text><text x="335.0" y="84.1" font-size="6.9">0.5</text><text x="335.0" y="93.5" font-size="6.9">0.0</text><text x="335.1" y="103.7" font-size="6.9">-0.5</text><text x="223.7" y="153.1" font-size="7">PC1</text><text x="325.9" y="143.1" font-size="7">PC2</text><text x="351.8" y="90.3" font-size="7">PC3</text><text x="266.8" y="20.9" font-size="8.6">K562</text><text x="20.8" y="321.5" font-size="6.9">-1.5</text><text x="30.3" y="324.7" font-size="6.9">-1.0</text><text x="39.9" y="327.9" font-size="6.9">-0.5</text><text x="49.5" y="331.1" font-size="6.9">0.0</text><text x="59.0" y="334.2" font-size="6.9">0.5</text><text x="68.6" y="337.4" font-size="6.9">1.0</text><text x="78.2" y="340.6" font-size="6.9">1.5</text><text x="87.7" y="343.8" font-size="6.9">2.0</text><text x="97.3" y="346.9" font-size="6.9">2.5</text><text x="151.0" y="303.0" font-size="6.9">2.0</text><text x="145.4" y="309.9" font-size="6.9">1.5</text><text x="139.5" y="315.8" font-size="6.9">1.0</text><text x="133.3" y="321.7" font-size="6.9">0.5</text><text x="126.9" y="328.1" font-size="6.9">0.0</text><text x="121.0" y="335.0" font-size="6.9">-0.5</text><text x="115.2" y="341.4" font-size="6.9">-1.0</text><text x="155.2" y="250.6" font-size="6.9">1.0</text><text x="155.2" y="261.5" font-size="6.9">0.5</text><text x="155.2" y="272.5" font-size="6.9">0.0</text><text x="155.2" y="283.5" font-size="6.9">-0.5</text><text x="155.2" y="294.3" font-size="6.9">-1.0</text><text x="47.6" y="340.0" font-size="7">PC1</text><text x="149.5" y="329.9" font-size="7">PC2</text><text x="175.8" y="276.8" font-size="7">PC3</text><text x="78.0" y="209.8" font-size="8.6">GM12878</text><text x="213.8" y="322.0" font-size="6.9">-2</text><text x="226.1" y="325.8" font-size="6.9">-1</text><text x="238.4" y="329.5" font-size="6.9">0</text><text x="250.8" y="333.2" font-size="6.9">1</text><text x="263.1" y="336.9" font-size="6.9">2</text><text x="275.4" y="340.7" font-size="6.9">3</text><text x="333.1" y="298.0" font-size="6.9">2.0</text><text x="324.9" y="306.1" font-size="6.9">1.5</text><text x="317.5" y="313.0" font-size="6.9">1.0</text><text x="309.6" y="322.1" font-size="6.9">0.5</text><text x="300.7" y="331.6" font-size="6.9">0.0</text><text x="292.1" y="340.4" font-size="6.9">-0.5</text><text x="334.8" y="248.5" font-size="6.9">1.5</text><text x="334.8" y="258.3" font-size="6.9">1.0</text><text x="334.8" y="267.9" font-size="6.9">0.5</text><text x="334.8" y="277.3" font-size="6.9">0.0</text><text x="334.9" y="287.5" font-size="6.9">-0.5</text><text x="223.5" y="336.9" font-size="7">PC1</text><text x="325.7" y="326.9" font-size="7">PC2</text><text x="351.6" y="274.1" font-size="7">PC3</text><text x="262.6" y="209.6" font-size="8.6">K562</text><text x="24.6" y="495.9" font-size="6.9">-1.5</text><text x="34.1" y="499.1" font-size="6.9">-1.0</text><text x="43.7" y="502.3" font-size="6.9">-0.5</text><text x="53.3" y="505.5" font-size="6.9">0.0</text><text x="62.8" y="508.6" font-size="6.9">0.5</text><text x="72.4" y="511.8" font-size="6.9">1.0</text><text x="82.0" y="515.0" font-size="6.9">1.5</text><text x="91.5" y="518.2" font-size="6.9">2.0</text><text x="101.1" y="521.3" font-size="6.9">2.5</text><text x="156.9" y="477.1" font-size="6.9">2.0</text><text x="151.3" y="484.0" font-size="6.9">1.5</text><text x="145.4" y="489.9" font-size="6.9">1.0</text><text x="139.2" y="495.8" font-size="6.9">0.5</text><text x="132.8" y="502.2" font-size="6.9">0.0</text><text x="126.9" y="509.1" font-size="6.9">-0.5</text><text x="121.1" y="515.5" font-size="6.9">-1.0</text><text x="159.8" y="423.7" font-size="6.9">1.0</text><text x="159.8" y="434.6" font-size="6.9">0.5</text><text x="159.8" y="445.6" font-size="6.9">0.0</text><text x="159.8" y="456.6" font-size="6.9">-0.5</text><text x="159.8" y="467.4" font-size="6.9">-1.0</text><text x="49.1" y="514.0" font-size="7">PC1</text><text x="151.0" y="503.9" font-size="7">PC2</text><text x="177.3" y="452.4" font-size="7">PC3</text><text x="77.0" y="383.3" font-size="8.6">GM12878</text><text x="214.4" y="494.2" font-size="6.9">-2</text><text x="226.7" y="498.0" font-size="6.9">-1</text><text x="239.0" y="501.7" font-size="6.9">0</text><text x="251.4" y="505.4" font-size="6.9">1</text><text x="263.7" y="509.1" font-size="6.9">2</text><text x="276.0" y="512.9" font-size="6.9">3</text><text x="333.7" y="470.2" font-size="6.9">2.0</text><text x="325.5" y="478.3" font-size="6.9">1.5</text><text x="318.1" y="485.2" font-size="6.9">1.0</text><text x="310.2" y="494.3" font-size="6.9">0.5</text><text x="301.3" y="503.8" font-size="6.9">0.0</text><text x="292.7" y="512.6" font-size="6.9">-0.5</text><text x="335.4" y="420.7" font-size="6.9">1.5</text><text x="335.4" y="430.5" font-size="6.9">1.0</text><text x="335.4" y="440.1" font-size="6.9">0.5</text><text x="335.4" y="449.5" font-size="6.9">0.0</text><text x="335.5" y="459.7" font-size="6.9">-0.5</text><text x="224.1" y="509.1" font-size="7">PC1</text><text x="326.3" y="499.1" font-size="7">PC2</text><text x="352.2" y="446.3" font-size="7">PC3</text><text x="261.5" y="382.8" font-size="8.6">K562</text><text x="7.1" y="15.4" font-size="10.2" font-weight="bold" style="text-anchor:start">A</text><text x="6.5" y="210.5" font-size="10.2" font-weight="bold" style="text-anchor:start">B</text><text x="6.1" y="374" font-size="10.2" font-weight="bold" style="text-anchor:start">C</text></g>
<g><rect x="11.3" y="161.3" width="338.2" height="31.0" rx="2" fill="#fff" stroke="#d6d6d6" stroke-width="0.8"/><circle cx="21.4" cy="170.9" r="2.4" fill="#0074c8"/><text x="26.3" y="173.3" font-size="7.3" style="text-anchor:start">chr1</text><circle cx="51.0" cy="170.9" r="2.4" fill="#44a7e3"/><text x="55.9" y="173.3" font-size="7.3" style="text-anchor:start">chr2</text><circle cx="80.6" cy="170.9" r="2.4" fill="#8bccee"/><text x="85.5" y="173.3" font-size="7.3" style="text-anchor:start">chr3</text><circle cx="110.2" cy="170.9" r="2.4" fill="#c0e0fd"/><text x="115.1" y="173.3" font-size="7.3" style="text-anchor:start">chr4</text><circle cx="139.8" cy="170.9" r="2.4" fill="#f45100"/><text x="144.7" y="173.3" font-size="7.3" style="text-anchor:start">chr5</text><circle cx="169.3" cy="170.9" r="2.4" fill="#ff6b00"/><text x="174.2" y="173.3" font-size="7.3" style="text-anchor:start">chr6</text><circle cx="198.9" cy="170.9" r="2.4" fill="#ff9031"/><text x="203.8" y="173.3" font-size="7.3" style="text-anchor:start">chr7</text><circle cx="228.5" cy="170.9" r="2.4" fill="#ffc07f"/><text x="233.4" y="173.3" font-size="7.3" style="text-anchor:start">chr8</text><circle cx="258.1" cy="170.9" r="2.4" fill="#04ad38"/><text x="263.0" y="173.3" font-size="7.3" style="text-anchor:start">chr9</text><circle cx="287.7" cy="170.9" r="2.4" fill="#59d05c"/><text x="292.6" y="173.3" font-size="7.3" style="text-anchor:start">chr10</text><circle cx="317.3" cy="170.9" r="2.4" fill="#93e68a"/><text x="322.2" y="173.3" font-size="7.3" style="text-anchor:start">chr11</text><circle cx="21.4" cy="183.6" r="2.4" fill="#c5f7ba"/><text x="26.3" y="186.0" font-size="7.3" style="text-anchor:start">chr12</text><circle cx="51.0" cy="183.6" r="2.4" fill="#6354bc"/><text x="55.9" y="186.0" font-size="7.3" style="text-anchor:start">chr13</text><circle cx="80.6" cy="183.6" r="2.4" fill="#9690d4"/><text x="85.5" y="186.0" font-size="7.3" style="text-anchor:start">chr14</text><circle cx="110.2" cy="183.6" r="2.4" fill="#babbe9"/><text x="115.1" y="186.0" font-size="7.3" style="text-anchor:start">chr15</text><circle cx="139.8" cy="183.6" r="2.4" fill="#e0e0f9"/><text x="144.7" y="186.0" font-size="7.3" style="text-anchor:start">chr16</text><circle cx="169.3" cy="183.6" r="2.4" fill="#696969"/><text x="174.2" y="186.0" font-size="7.3" style="text-anchor:start">chr17</text><circle cx="198.9" cy="183.6" r="2.4" fill="#9f9f9f"/><text x="203.8" y="186.0" font-size="7.3" style="text-anchor:start">chr18</text><circle cx="228.5" cy="183.6" r="2.4" fill="#c8c8c8"/><text x="233.4" y="186.0" font-size="7.3" style="text-anchor:start">chr19</text><circle cx="258.1" cy="183.6" r="2.4" fill="#e6e6e6"/><text x="263.0" y="186.0" font-size="7.3" style="text-anchor:start">chr20</text><circle cx="287.7" cy="183.6" r="2.4" fill="#af3296"/><text x="292.6" y="186.0" font-size="7.3" style="text-anchor:start">chr21</text><circle cx="317.3" cy="183.6" r="2.4" fill="#da4ac1"/><text x="322.2" y="186.0" font-size="7.3" style="text-anchor:start">chr22</text><rect x="147.3" y="350.6" width="47.7" height="14.1" rx="2" fill="#fff" stroke="#d6d6d6" stroke-width="0.8"/><circle cx="156.1" cy="358.1" r="2.2" fill="#ff7800"/><text x="160.9" y="360.5" font-size="7.3" style="text-anchor:start">A</text><circle cx="179.2" cy="358.1" r="2.2" fill="#0071bf"/><text x="184.2" y="360.5" font-size="7.3" style="text-anchor:start">B</text><rect x="122.2" y="529.4" width="119.0" height="13.7" rx="2" fill="#fff" stroke="#d6d6d6" stroke-width="0.8"/><circle cx="130.6" cy="536.2" r="2.2" fill="#c4101c"/><text x="134.9" y="538.6" font-size="7.3" style="text-anchor:start">A1</text><circle cx="153.4" cy="536.2" r="2.2" fill="#f5a20a"/><text x="157.7" y="538.6" font-size="7.3" style="text-anchor:start">A2</text><circle cx="177.3" cy="536.2" r="2.2" fill="#a0a293"/><text x="181.6" y="538.6" font-size="7.3" style="text-anchor:start">B1</text><circle cx="199.1" cy="536.2" r="2.2" fill="#6478e0"/><text x="203.4" y="538.6" font-size="7.3" style="text-anchor:start">B2</text><circle cx="221.1" cy="536.2" r="2.2" fill="#8c5a8c"/><text x="225.4" y="538.6" font-size="7.3" style="text-anchor:start">B3</text></g>
</svg>
</body></html>
